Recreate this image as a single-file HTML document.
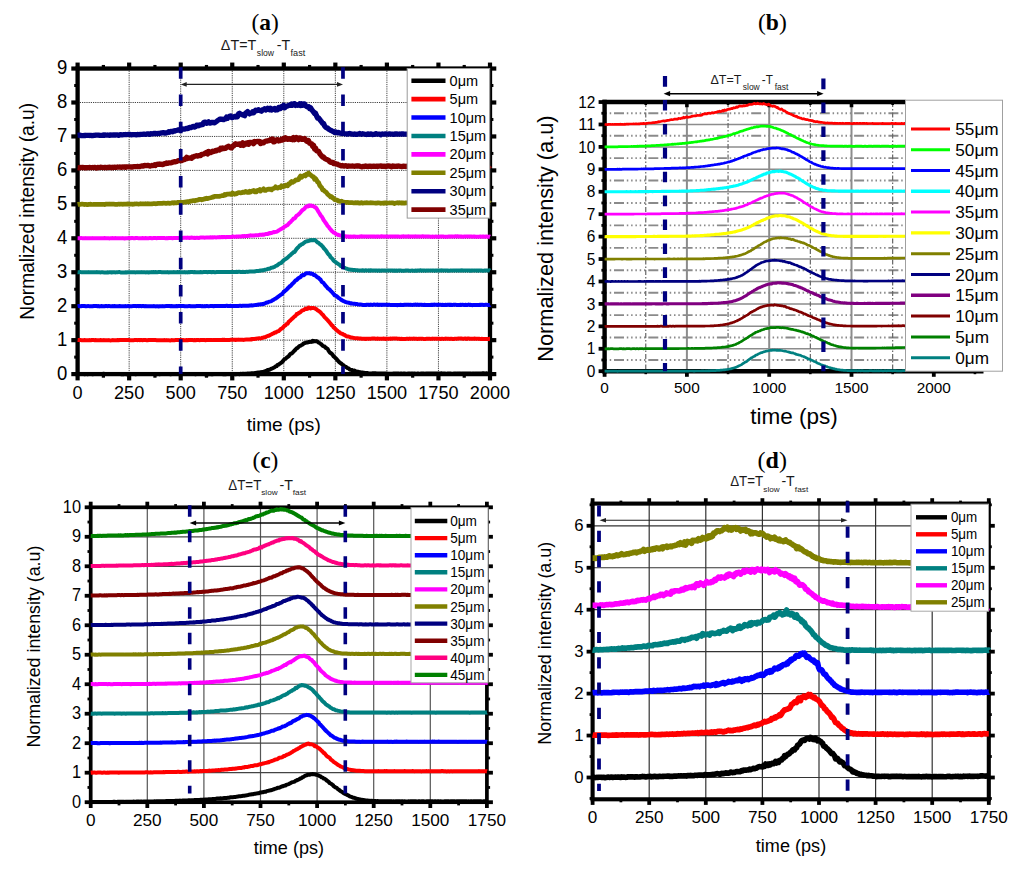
<!DOCTYPE html>
<html><head><meta charset="utf-8"><title>Normalized intensity vs time</title>
<style>html,body{margin:0;padding:0;background:#fff;}body{width:1024px;height:872px;overflow:hidden;}svg{display:block;font-family:"Liberation Sans",sans-serif;}</style>
</head><body>
<svg width="1024" height="872" viewBox="0 0 1024 872">
<rect width="1024" height="872" fill="#fff"/>
<line x1="129.15" y1="68.55" x2="129.15" y2="374.10" stroke="#444" stroke-width="1.0" stroke-dasharray="1.2 1.0"/>
<line x1="180.70" y1="68.55" x2="180.70" y2="374.10" stroke="#444" stroke-width="1.0" stroke-dasharray="1.2 1.0"/>
<line x1="232.25" y1="68.55" x2="232.25" y2="374.10" stroke="#444" stroke-width="1.0" stroke-dasharray="1.2 1.0"/>
<line x1="283.80" y1="68.55" x2="283.80" y2="374.10" stroke="#444" stroke-width="1.0" stroke-dasharray="1.2 1.0"/>
<line x1="335.35" y1="68.55" x2="335.35" y2="374.10" stroke="#444" stroke-width="1.0" stroke-dasharray="1.2 1.0"/>
<line x1="386.90" y1="68.55" x2="386.90" y2="374.10" stroke="#444" stroke-width="1.0" stroke-dasharray="1.2 1.0"/>
<line x1="438.45" y1="68.55" x2="438.45" y2="374.10" stroke="#444" stroke-width="1.0" stroke-dasharray="1.2 1.0"/>
<line x1="77.60" y1="340.15" x2="490.00" y2="340.15" stroke="#444" stroke-width="1.0" stroke-dasharray="1.2 1.0"/>
<line x1="77.60" y1="306.20" x2="490.00" y2="306.20" stroke="#444" stroke-width="1.0" stroke-dasharray="1.2 1.0"/>
<line x1="77.60" y1="272.25" x2="490.00" y2="272.25" stroke="#444" stroke-width="1.0" stroke-dasharray="1.2 1.0"/>
<line x1="77.60" y1="238.30" x2="490.00" y2="238.30" stroke="#444" stroke-width="1.0" stroke-dasharray="1.2 1.0"/>
<line x1="77.60" y1="204.35" x2="490.00" y2="204.35" stroke="#444" stroke-width="1.0" stroke-dasharray="1.2 1.0"/>
<line x1="77.60" y1="170.40" x2="490.00" y2="170.40" stroke="#444" stroke-width="1.0" stroke-dasharray="1.2 1.0"/>
<line x1="77.60" y1="136.45" x2="490.00" y2="136.45" stroke="#444" stroke-width="1.0" stroke-dasharray="1.2 1.0"/>
<line x1="77.60" y1="102.50" x2="490.00" y2="102.50" stroke="#444" stroke-width="1.0" stroke-dasharray="1.2 1.0"/>
<line x1="604.60" y1="359.99" x2="905.50" y2="359.99" stroke="#8a8a8a" stroke-width="1.9" stroke-dasharray="10 2.8 1.5 2.8 1.5 2.8 1.5 2.8 1.5 2.8 1.5 2.8" stroke-dashoffset="24.9"/>
<line x1="604.60" y1="337.56" x2="905.50" y2="337.56" stroke="#8a8a8a" stroke-width="1.9" stroke-dasharray="10 2.8 1.5 2.8 1.5 2.8 1.5 2.8 1.5 2.8 1.5 2.8" stroke-dashoffset="24.9"/>
<line x1="604.60" y1="315.12" x2="905.50" y2="315.12" stroke="#8a8a8a" stroke-width="1.9" stroke-dasharray="10 2.8 1.5 2.8 1.5 2.8 1.5 2.8 1.5 2.8 1.5 2.8" stroke-dashoffset="24.9"/>
<line x1="604.60" y1="292.69" x2="905.50" y2="292.69" stroke="#8a8a8a" stroke-width="1.9" stroke-dasharray="10 2.8 1.5 2.8 1.5 2.8 1.5 2.8 1.5 2.8 1.5 2.8" stroke-dashoffset="24.9"/>
<line x1="604.60" y1="270.26" x2="905.50" y2="270.26" stroke="#8a8a8a" stroke-width="1.9" stroke-dasharray="10 2.8 1.5 2.8 1.5 2.8 1.5 2.8 1.5 2.8 1.5 2.8" stroke-dashoffset="24.9"/>
<line x1="604.60" y1="247.83" x2="905.50" y2="247.83" stroke="#8a8a8a" stroke-width="1.9" stroke-dasharray="10 2.8 1.5 2.8 1.5 2.8 1.5 2.8 1.5 2.8 1.5 2.8" stroke-dashoffset="24.9"/>
<line x1="604.60" y1="225.41" x2="905.50" y2="225.41" stroke="#8a8a8a" stroke-width="1.9" stroke-dasharray="10 2.8 1.5 2.8 1.5 2.8 1.5 2.8 1.5 2.8 1.5 2.8" stroke-dashoffset="24.9"/>
<line x1="604.60" y1="202.97" x2="905.50" y2="202.97" stroke="#8a8a8a" stroke-width="1.9" stroke-dasharray="10 2.8 1.5 2.8 1.5 2.8 1.5 2.8 1.5 2.8 1.5 2.8" stroke-dashoffset="24.9"/>
<line x1="604.60" y1="180.54" x2="905.50" y2="180.54" stroke="#8a8a8a" stroke-width="1.9" stroke-dasharray="10 2.8 1.5 2.8 1.5 2.8 1.5 2.8 1.5 2.8 1.5 2.8" stroke-dashoffset="24.9"/>
<line x1="604.60" y1="158.11" x2="905.50" y2="158.11" stroke="#8a8a8a" stroke-width="1.9" stroke-dasharray="10 2.8 1.5 2.8 1.5 2.8 1.5 2.8 1.5 2.8 1.5 2.8" stroke-dashoffset="24.9"/>
<line x1="604.60" y1="135.69" x2="905.50" y2="135.69" stroke="#8a8a8a" stroke-width="1.9" stroke-dasharray="10 2.8 1.5 2.8 1.5 2.8 1.5 2.8 1.5 2.8 1.5 2.8" stroke-dashoffset="24.9"/>
<line x1="604.60" y1="113.25" x2="905.50" y2="113.25" stroke="#8a8a8a" stroke-width="1.9" stroke-dasharray="10 2.8 1.5 2.8 1.5 2.8 1.5 2.8 1.5 2.8 1.5 2.8" stroke-dashoffset="24.9"/>
<line x1="604.60" y1="348.77" x2="905.50" y2="348.77" stroke="#8c8c8c" stroke-width="1.5" />
<line x1="604.60" y1="326.34" x2="905.50" y2="326.34" stroke="#8c8c8c" stroke-width="1.5" />
<line x1="604.60" y1="303.91" x2="905.50" y2="303.91" stroke="#8c8c8c" stroke-width="1.5" />
<line x1="604.60" y1="281.48" x2="905.50" y2="281.48" stroke="#8c8c8c" stroke-width="1.5" />
<line x1="604.60" y1="259.05" x2="905.50" y2="259.05" stroke="#8c8c8c" stroke-width="1.5" />
<line x1="604.60" y1="236.62" x2="905.50" y2="236.62" stroke="#8c8c8c" stroke-width="1.5" />
<line x1="604.60" y1="214.19" x2="905.50" y2="214.19" stroke="#8c8c8c" stroke-width="1.5" />
<line x1="604.60" y1="191.76" x2="905.50" y2="191.76" stroke="#8c8c8c" stroke-width="1.5" />
<line x1="604.60" y1="169.33" x2="905.50" y2="169.33" stroke="#8c8c8c" stroke-width="1.5" />
<line x1="604.60" y1="146.90" x2="905.50" y2="146.90" stroke="#8c8c8c" stroke-width="1.5" />
<line x1="604.60" y1="124.47" x2="905.50" y2="124.47" stroke="#8c8c8c" stroke-width="1.5" />
<line x1="645.75" y1="102.04" x2="645.75" y2="371.20" stroke="#666" stroke-width="1.2" stroke-dasharray="5 2 1.5 2"/>
<line x1="728.05" y1="102.04" x2="728.05" y2="371.20" stroke="#666" stroke-width="1.2" stroke-dasharray="5 2 1.5 2"/>
<line x1="810.35" y1="102.04" x2="810.35" y2="371.20" stroke="#666" stroke-width="1.2" stroke-dasharray="5 2 1.5 2"/>
<line x1="892.65" y1="102.04" x2="892.65" y2="371.20" stroke="#666" stroke-width="1.2" stroke-dasharray="5 2 1.5 2"/>
<line x1="686.90" y1="102.04" x2="686.90" y2="371.20" stroke="#8c8c8c" stroke-width="2.0" />
<line x1="769.20" y1="102.04" x2="769.20" y2="371.20" stroke="#8c8c8c" stroke-width="2.0" />
<line x1="851.50" y1="102.04" x2="851.50" y2="371.20" stroke="#8c8c8c" stroke-width="2.0" />
<line x1="147.30" y1="507.30" x2="147.30" y2="802.20" stroke="#555" stroke-width="1.2" />
<line x1="203.90" y1="507.30" x2="203.90" y2="802.20" stroke="#555" stroke-width="1.2" />
<line x1="260.50" y1="507.30" x2="260.50" y2="802.20" stroke="#555" stroke-width="1.2" />
<line x1="317.10" y1="507.30" x2="317.10" y2="802.20" stroke="#555" stroke-width="1.2" />
<line x1="373.70" y1="507.30" x2="373.70" y2="802.20" stroke="#555" stroke-width="1.2" />
<line x1="430.30" y1="507.30" x2="430.30" y2="802.20" stroke="#555" stroke-width="1.2" />
<line x1="90.70" y1="772.71" x2="486.90" y2="772.71" stroke="#444" stroke-width="1.2" />
<line x1="90.70" y1="743.22" x2="486.90" y2="743.22" stroke="#444" stroke-width="1.2" />
<line x1="90.70" y1="713.73" x2="486.90" y2="713.73" stroke="#444" stroke-width="1.2" />
<line x1="90.70" y1="684.24" x2="486.90" y2="684.24" stroke="#444" stroke-width="1.2" />
<line x1="90.70" y1="654.75" x2="486.90" y2="654.75" stroke="#444" stroke-width="1.2" />
<line x1="90.70" y1="625.26" x2="486.90" y2="625.26" stroke="#444" stroke-width="1.2" />
<line x1="90.70" y1="595.77" x2="486.90" y2="595.77" stroke="#444" stroke-width="1.2" />
<line x1="90.70" y1="566.28" x2="486.90" y2="566.28" stroke="#444" stroke-width="1.2" />
<line x1="90.70" y1="536.79" x2="486.90" y2="536.79" stroke="#444" stroke-width="1.2" />
<line x1="649.20" y1="503.60" x2="649.20" y2="799.30" stroke="#333" stroke-width="1.2" />
<line x1="705.80" y1="503.60" x2="705.80" y2="799.30" stroke="#333" stroke-width="1.2" />
<line x1="762.40" y1="503.60" x2="762.40" y2="799.30" stroke="#333" stroke-width="1.2" />
<line x1="819.00" y1="503.60" x2="819.00" y2="799.30" stroke="#333" stroke-width="1.2" />
<line x1="875.60" y1="503.60" x2="875.60" y2="799.30" stroke="#333" stroke-width="1.2" />
<line x1="932.20" y1="503.60" x2="932.20" y2="799.30" stroke="#333" stroke-width="1.2" />
<line x1="592.60" y1="777.50" x2="988.80" y2="777.50" stroke="#333" stroke-width="1.2" />
<line x1="592.60" y1="735.55" x2="988.80" y2="735.55" stroke="#333" stroke-width="1.2" />
<line x1="592.60" y1="693.60" x2="988.80" y2="693.60" stroke="#333" stroke-width="1.2" />
<line x1="592.60" y1="651.65" x2="988.80" y2="651.65" stroke="#333" stroke-width="1.2" />
<line x1="592.60" y1="609.70" x2="988.80" y2="609.70" stroke="#333" stroke-width="1.2" />
<line x1="592.60" y1="567.75" x2="988.80" y2="567.75" stroke="#333" stroke-width="1.2" />
<line x1="592.60" y1="525.80" x2="988.80" y2="525.80" stroke="#333" stroke-width="1.2" />
<rect x="77.60" y="68.55" width="412.40" height="305.55" fill="none" stroke="#000" stroke-width="4.3"/>
<line x1="77.60" y1="374.10" x2="77.60" y2="380.40" stroke="#000" stroke-width="4.2" />
<line x1="77.60" y1="68.55" x2="77.60" y2="62.55" stroke="#000" stroke-width="4.2" />
<line x1="129.15" y1="374.10" x2="129.15" y2="380.40" stroke="#000" stroke-width="4.2" />
<line x1="129.15" y1="68.55" x2="129.15" y2="62.55" stroke="#000" stroke-width="4.2" />
<line x1="180.70" y1="374.10" x2="180.70" y2="380.40" stroke="#000" stroke-width="4.2" />
<line x1="180.70" y1="68.55" x2="180.70" y2="62.55" stroke="#000" stroke-width="4.2" />
<line x1="232.25" y1="374.10" x2="232.25" y2="380.40" stroke="#000" stroke-width="4.2" />
<line x1="232.25" y1="68.55" x2="232.25" y2="62.55" stroke="#000" stroke-width="4.2" />
<line x1="283.80" y1="374.10" x2="283.80" y2="380.40" stroke="#000" stroke-width="4.2" />
<line x1="283.80" y1="68.55" x2="283.80" y2="62.55" stroke="#000" stroke-width="4.2" />
<line x1="335.35" y1="374.10" x2="335.35" y2="380.40" stroke="#000" stroke-width="4.2" />
<line x1="335.35" y1="68.55" x2="335.35" y2="62.55" stroke="#000" stroke-width="4.2" />
<line x1="386.90" y1="374.10" x2="386.90" y2="380.40" stroke="#000" stroke-width="4.2" />
<line x1="386.90" y1="68.55" x2="386.90" y2="62.55" stroke="#000" stroke-width="4.2" />
<line x1="438.45" y1="374.10" x2="438.45" y2="380.40" stroke="#000" stroke-width="4.2" />
<line x1="438.45" y1="68.55" x2="438.45" y2="62.55" stroke="#000" stroke-width="4.2" />
<line x1="490.00" y1="374.10" x2="490.00" y2="380.40" stroke="#000" stroke-width="4.2" />
<line x1="490.00" y1="68.55" x2="490.00" y2="62.55" stroke="#000" stroke-width="4.2" />
<line x1="103.38" y1="374.10" x2="103.38" y2="377.70" stroke="#000" stroke-width="3.2" />
<line x1="103.38" y1="68.55" x2="103.38" y2="64.95" stroke="#000" stroke-width="3.2" />
<line x1="154.93" y1="374.10" x2="154.93" y2="377.70" stroke="#000" stroke-width="3.2" />
<line x1="154.93" y1="68.55" x2="154.93" y2="64.95" stroke="#000" stroke-width="3.2" />
<line x1="206.47" y1="374.10" x2="206.47" y2="377.70" stroke="#000" stroke-width="3.2" />
<line x1="206.47" y1="68.55" x2="206.47" y2="64.95" stroke="#000" stroke-width="3.2" />
<line x1="258.02" y1="374.10" x2="258.02" y2="377.70" stroke="#000" stroke-width="3.2" />
<line x1="258.02" y1="68.55" x2="258.02" y2="64.95" stroke="#000" stroke-width="3.2" />
<line x1="309.57" y1="374.10" x2="309.57" y2="377.70" stroke="#000" stroke-width="3.2" />
<line x1="309.57" y1="68.55" x2="309.57" y2="64.95" stroke="#000" stroke-width="3.2" />
<line x1="361.12" y1="374.10" x2="361.12" y2="377.70" stroke="#000" stroke-width="3.2" />
<line x1="361.12" y1="68.55" x2="361.12" y2="64.95" stroke="#000" stroke-width="3.2" />
<line x1="412.67" y1="374.10" x2="412.67" y2="377.70" stroke="#000" stroke-width="3.2" />
<line x1="412.67" y1="68.55" x2="412.67" y2="64.95" stroke="#000" stroke-width="3.2" />
<line x1="464.23" y1="374.10" x2="464.23" y2="377.70" stroke="#000" stroke-width="3.2" />
<line x1="464.23" y1="68.55" x2="464.23" y2="64.95" stroke="#000" stroke-width="3.2" />
<line x1="77.60" y1="374.10" x2="71.30" y2="374.10" stroke="#000" stroke-width="4.2" />
<line x1="490.00" y1="374.10" x2="496.30" y2="374.10" stroke="#000" stroke-width="4.2" />
<line x1="77.60" y1="340.15" x2="71.30" y2="340.15" stroke="#000" stroke-width="4.2" />
<line x1="490.00" y1="340.15" x2="496.30" y2="340.15" stroke="#000" stroke-width="4.2" />
<line x1="77.60" y1="306.20" x2="71.30" y2="306.20" stroke="#000" stroke-width="4.2" />
<line x1="490.00" y1="306.20" x2="496.30" y2="306.20" stroke="#000" stroke-width="4.2" />
<line x1="77.60" y1="272.25" x2="71.30" y2="272.25" stroke="#000" stroke-width="4.2" />
<line x1="490.00" y1="272.25" x2="496.30" y2="272.25" stroke="#000" stroke-width="4.2" />
<line x1="77.60" y1="238.30" x2="71.30" y2="238.30" stroke="#000" stroke-width="4.2" />
<line x1="490.00" y1="238.30" x2="496.30" y2="238.30" stroke="#000" stroke-width="4.2" />
<line x1="77.60" y1="204.35" x2="71.30" y2="204.35" stroke="#000" stroke-width="4.2" />
<line x1="490.00" y1="204.35" x2="496.30" y2="204.35" stroke="#000" stroke-width="4.2" />
<line x1="77.60" y1="170.40" x2="71.30" y2="170.40" stroke="#000" stroke-width="4.2" />
<line x1="490.00" y1="170.40" x2="496.30" y2="170.40" stroke="#000" stroke-width="4.2" />
<line x1="77.60" y1="136.45" x2="71.30" y2="136.45" stroke="#000" stroke-width="4.2" />
<line x1="490.00" y1="136.45" x2="496.30" y2="136.45" stroke="#000" stroke-width="4.2" />
<line x1="77.60" y1="102.50" x2="71.30" y2="102.50" stroke="#000" stroke-width="4.2" />
<line x1="490.00" y1="102.50" x2="496.30" y2="102.50" stroke="#000" stroke-width="4.2" />
<line x1="77.60" y1="68.55" x2="71.30" y2="68.55" stroke="#000" stroke-width="4.2" />
<line x1="490.00" y1="68.55" x2="496.30" y2="68.55" stroke="#000" stroke-width="4.2" />
<line x1="77.60" y1="357.12" x2="74.20" y2="357.12" stroke="#000" stroke-width="3.0" />
<line x1="490.00" y1="357.12" x2="493.40" y2="357.12" stroke="#000" stroke-width="3.0" />
<line x1="77.60" y1="323.18" x2="74.20" y2="323.18" stroke="#000" stroke-width="3.0" />
<line x1="490.00" y1="323.18" x2="493.40" y2="323.18" stroke="#000" stroke-width="3.0" />
<line x1="77.60" y1="289.23" x2="74.20" y2="289.23" stroke="#000" stroke-width="3.0" />
<line x1="490.00" y1="289.23" x2="493.40" y2="289.23" stroke="#000" stroke-width="3.0" />
<line x1="77.60" y1="255.28" x2="74.20" y2="255.28" stroke="#000" stroke-width="3.0" />
<line x1="490.00" y1="255.28" x2="493.40" y2="255.28" stroke="#000" stroke-width="3.0" />
<line x1="77.60" y1="221.33" x2="74.20" y2="221.33" stroke="#000" stroke-width="3.0" />
<line x1="490.00" y1="221.33" x2="493.40" y2="221.33" stroke="#000" stroke-width="3.0" />
<line x1="77.60" y1="187.38" x2="74.20" y2="187.38" stroke="#000" stroke-width="3.0" />
<line x1="490.00" y1="187.38" x2="493.40" y2="187.38" stroke="#000" stroke-width="3.0" />
<line x1="77.60" y1="153.43" x2="74.20" y2="153.43" stroke="#000" stroke-width="3.0" />
<line x1="490.00" y1="153.43" x2="493.40" y2="153.43" stroke="#000" stroke-width="3.0" />
<line x1="77.60" y1="119.47" x2="74.20" y2="119.47" stroke="#000" stroke-width="3.0" />
<line x1="490.00" y1="119.47" x2="493.40" y2="119.47" stroke="#000" stroke-width="3.0" />
<line x1="77.60" y1="85.52" x2="74.20" y2="85.52" stroke="#000" stroke-width="3.0" />
<line x1="490.00" y1="85.52" x2="493.40" y2="85.52" stroke="#000" stroke-width="3.0" />
<line x1="604.60" y1="99.84" x2="604.60" y2="373.40" stroke="#000" stroke-width="4.4" />
<line x1="602.40" y1="102.04" x2="905.50" y2="102.04" stroke="#000" stroke-width="4.4" />
<line x1="602.40" y1="371.20" x2="983.50" y2="371.20" stroke="#000" stroke-width="4.4" />
<line x1="604.60" y1="371.20" x2="604.60" y2="376.80" stroke="#000" stroke-width="3.8" />
<line x1="686.90" y1="371.20" x2="686.90" y2="376.80" stroke="#000" stroke-width="3.8" />
<line x1="769.20" y1="371.20" x2="769.20" y2="376.80" stroke="#000" stroke-width="3.8" />
<line x1="851.50" y1="371.20" x2="851.50" y2="376.80" stroke="#000" stroke-width="3.8" />
<line x1="933.80" y1="371.20" x2="933.80" y2="376.80" stroke="#000" stroke-width="3.8" />
<line x1="645.75" y1="371.20" x2="645.75" y2="374.20" stroke="#000" stroke-width="2.6" />
<line x1="728.05" y1="371.20" x2="728.05" y2="374.20" stroke="#000" stroke-width="2.6" />
<line x1="810.35" y1="371.20" x2="810.35" y2="374.20" stroke="#000" stroke-width="2.6" />
<line x1="892.65" y1="371.20" x2="892.65" y2="374.20" stroke="#000" stroke-width="2.6" />
<line x1="974.95" y1="371.20" x2="974.95" y2="374.20" stroke="#000" stroke-width="2.6" />
<line x1="645.75" y1="102.04" x2="645.75" y2="105.04" stroke="#000" stroke-width="2.6" />
<line x1="686.90" y1="102.04" x2="686.90" y2="107.24" stroke="#000" stroke-width="3.6" />
<line x1="728.05" y1="102.04" x2="728.05" y2="105.04" stroke="#000" stroke-width="2.6" />
<line x1="769.20" y1="102.04" x2="769.20" y2="107.24" stroke="#000" stroke-width="3.6" />
<line x1="810.35" y1="102.04" x2="810.35" y2="105.04" stroke="#000" stroke-width="2.6" />
<line x1="851.50" y1="102.04" x2="851.50" y2="107.24" stroke="#000" stroke-width="3.6" />
<line x1="892.65" y1="102.04" x2="892.65" y2="105.04" stroke="#000" stroke-width="2.6" />
<line x1="604.60" y1="371.20" x2="598.60" y2="371.20" stroke="#000" stroke-width="3.8" />
<line x1="604.60" y1="348.77" x2="598.60" y2="348.77" stroke="#000" stroke-width="3.8" />
<line x1="604.60" y1="326.34" x2="598.60" y2="326.34" stroke="#000" stroke-width="3.8" />
<line x1="604.60" y1="303.91" x2="598.60" y2="303.91" stroke="#000" stroke-width="3.8" />
<line x1="604.60" y1="281.48" x2="598.60" y2="281.48" stroke="#000" stroke-width="3.8" />
<line x1="604.60" y1="259.05" x2="598.60" y2="259.05" stroke="#000" stroke-width="3.8" />
<line x1="604.60" y1="236.62" x2="598.60" y2="236.62" stroke="#000" stroke-width="3.8" />
<line x1="604.60" y1="214.19" x2="598.60" y2="214.19" stroke="#000" stroke-width="3.8" />
<line x1="604.60" y1="191.76" x2="598.60" y2="191.76" stroke="#000" stroke-width="3.8" />
<line x1="604.60" y1="169.33" x2="598.60" y2="169.33" stroke="#000" stroke-width="3.8" />
<line x1="604.60" y1="146.90" x2="598.60" y2="146.90" stroke="#000" stroke-width="3.8" />
<line x1="604.60" y1="124.47" x2="598.60" y2="124.47" stroke="#000" stroke-width="3.8" />
<line x1="604.60" y1="102.04" x2="598.60" y2="102.04" stroke="#000" stroke-width="3.8" />
<line x1="604.60" y1="359.99" x2="601.40" y2="359.99" stroke="#000" stroke-width="2.8" />
<line x1="604.60" y1="337.56" x2="601.40" y2="337.56" stroke="#000" stroke-width="2.8" />
<line x1="604.60" y1="315.12" x2="601.40" y2="315.12" stroke="#000" stroke-width="2.8" />
<line x1="604.60" y1="292.69" x2="601.40" y2="292.69" stroke="#000" stroke-width="2.8" />
<line x1="604.60" y1="270.26" x2="601.40" y2="270.26" stroke="#000" stroke-width="2.8" />
<line x1="604.60" y1="247.83" x2="601.40" y2="247.83" stroke="#000" stroke-width="2.8" />
<line x1="604.60" y1="225.41" x2="601.40" y2="225.41" stroke="#000" stroke-width="2.8" />
<line x1="604.60" y1="202.97" x2="601.40" y2="202.97" stroke="#000" stroke-width="2.8" />
<line x1="604.60" y1="180.54" x2="601.40" y2="180.54" stroke="#000" stroke-width="2.8" />
<line x1="604.60" y1="158.11" x2="601.40" y2="158.11" stroke="#000" stroke-width="2.8" />
<line x1="604.60" y1="135.69" x2="601.40" y2="135.69" stroke="#000" stroke-width="2.8" />
<line x1="604.60" y1="113.25" x2="601.40" y2="113.25" stroke="#000" stroke-width="2.8" />
<rect x="90.70" y="507.30" width="396.20" height="294.90" fill="none" stroke="#000" stroke-width="3.7"/>
<line x1="90.70" y1="802.20" x2="90.70" y2="808.00" stroke="#000" stroke-width="3.8" />
<line x1="90.70" y1="507.30" x2="90.70" y2="501.70" stroke="#000" stroke-width="3.8" />
<line x1="147.30" y1="802.20" x2="147.30" y2="808.00" stroke="#000" stroke-width="3.8" />
<line x1="147.30" y1="507.30" x2="147.30" y2="501.70" stroke="#000" stroke-width="3.8" />
<line x1="203.90" y1="802.20" x2="203.90" y2="808.00" stroke="#000" stroke-width="3.8" />
<line x1="203.90" y1="507.30" x2="203.90" y2="501.70" stroke="#000" stroke-width="3.8" />
<line x1="260.50" y1="802.20" x2="260.50" y2="808.00" stroke="#000" stroke-width="3.8" />
<line x1="260.50" y1="507.30" x2="260.50" y2="501.70" stroke="#000" stroke-width="3.8" />
<line x1="317.10" y1="802.20" x2="317.10" y2="808.00" stroke="#000" stroke-width="3.8" />
<line x1="317.10" y1="507.30" x2="317.10" y2="501.70" stroke="#000" stroke-width="3.8" />
<line x1="373.70" y1="802.20" x2="373.70" y2="808.00" stroke="#000" stroke-width="3.8" />
<line x1="373.70" y1="507.30" x2="373.70" y2="501.70" stroke="#000" stroke-width="3.8" />
<line x1="430.30" y1="802.20" x2="430.30" y2="808.00" stroke="#000" stroke-width="3.8" />
<line x1="430.30" y1="507.30" x2="430.30" y2="501.70" stroke="#000" stroke-width="3.8" />
<line x1="486.90" y1="802.20" x2="486.90" y2="808.00" stroke="#000" stroke-width="3.8" />
<line x1="486.90" y1="507.30" x2="486.90" y2="501.70" stroke="#000" stroke-width="3.8" />
<line x1="119.00" y1="802.20" x2="119.00" y2="805.40" stroke="#000" stroke-width="2.8" />
<line x1="119.00" y1="507.30" x2="119.00" y2="504.10" stroke="#000" stroke-width="2.8" />
<line x1="175.60" y1="802.20" x2="175.60" y2="805.40" stroke="#000" stroke-width="2.8" />
<line x1="175.60" y1="507.30" x2="175.60" y2="504.10" stroke="#000" stroke-width="2.8" />
<line x1="232.20" y1="802.20" x2="232.20" y2="805.40" stroke="#000" stroke-width="2.8" />
<line x1="232.20" y1="507.30" x2="232.20" y2="504.10" stroke="#000" stroke-width="2.8" />
<line x1="288.80" y1="802.20" x2="288.80" y2="805.40" stroke="#000" stroke-width="2.8" />
<line x1="288.80" y1="507.30" x2="288.80" y2="504.10" stroke="#000" stroke-width="2.8" />
<line x1="345.40" y1="802.20" x2="345.40" y2="805.40" stroke="#000" stroke-width="2.8" />
<line x1="345.40" y1="507.30" x2="345.40" y2="504.10" stroke="#000" stroke-width="2.8" />
<line x1="402.00" y1="802.20" x2="402.00" y2="805.40" stroke="#000" stroke-width="2.8" />
<line x1="402.00" y1="507.30" x2="402.00" y2="504.10" stroke="#000" stroke-width="2.8" />
<line x1="458.60" y1="802.20" x2="458.60" y2="805.40" stroke="#000" stroke-width="2.8" />
<line x1="458.60" y1="507.30" x2="458.60" y2="504.10" stroke="#000" stroke-width="2.8" />
<line x1="90.70" y1="802.20" x2="84.70" y2="802.20" stroke="#000" stroke-width="3.8" />
<line x1="486.90" y1="802.20" x2="492.90" y2="802.20" stroke="#000" stroke-width="3.8" />
<line x1="90.70" y1="772.71" x2="84.70" y2="772.71" stroke="#000" stroke-width="3.8" />
<line x1="486.90" y1="772.71" x2="492.90" y2="772.71" stroke="#000" stroke-width="3.8" />
<line x1="90.70" y1="743.22" x2="84.70" y2="743.22" stroke="#000" stroke-width="3.8" />
<line x1="486.90" y1="743.22" x2="492.90" y2="743.22" stroke="#000" stroke-width="3.8" />
<line x1="90.70" y1="713.73" x2="84.70" y2="713.73" stroke="#000" stroke-width="3.8" />
<line x1="486.90" y1="713.73" x2="492.90" y2="713.73" stroke="#000" stroke-width="3.8" />
<line x1="90.70" y1="684.24" x2="84.70" y2="684.24" stroke="#000" stroke-width="3.8" />
<line x1="486.90" y1="684.24" x2="492.90" y2="684.24" stroke="#000" stroke-width="3.8" />
<line x1="90.70" y1="654.75" x2="84.70" y2="654.75" stroke="#000" stroke-width="3.8" />
<line x1="486.90" y1="654.75" x2="492.90" y2="654.75" stroke="#000" stroke-width="3.8" />
<line x1="90.70" y1="625.26" x2="84.70" y2="625.26" stroke="#000" stroke-width="3.8" />
<line x1="486.90" y1="625.26" x2="492.90" y2="625.26" stroke="#000" stroke-width="3.8" />
<line x1="90.70" y1="595.77" x2="84.70" y2="595.77" stroke="#000" stroke-width="3.8" />
<line x1="486.90" y1="595.77" x2="492.90" y2="595.77" stroke="#000" stroke-width="3.8" />
<line x1="90.70" y1="566.28" x2="84.70" y2="566.28" stroke="#000" stroke-width="3.8" />
<line x1="486.90" y1="566.28" x2="492.90" y2="566.28" stroke="#000" stroke-width="3.8" />
<line x1="90.70" y1="536.79" x2="84.70" y2="536.79" stroke="#000" stroke-width="3.8" />
<line x1="486.90" y1="536.79" x2="492.90" y2="536.79" stroke="#000" stroke-width="3.8" />
<line x1="90.70" y1="507.30" x2="84.70" y2="507.30" stroke="#000" stroke-width="3.8" />
<line x1="486.90" y1="507.30" x2="492.90" y2="507.30" stroke="#000" stroke-width="3.8" />
<line x1="90.70" y1="787.46" x2="87.50" y2="787.46" stroke="#000" stroke-width="2.8" />
<line x1="486.90" y1="787.46" x2="490.10" y2="787.46" stroke="#000" stroke-width="2.8" />
<line x1="90.70" y1="757.97" x2="87.50" y2="757.97" stroke="#000" stroke-width="2.8" />
<line x1="486.90" y1="757.97" x2="490.10" y2="757.97" stroke="#000" stroke-width="2.8" />
<line x1="90.70" y1="728.48" x2="87.50" y2="728.48" stroke="#000" stroke-width="2.8" />
<line x1="486.90" y1="728.48" x2="490.10" y2="728.48" stroke="#000" stroke-width="2.8" />
<line x1="90.70" y1="698.99" x2="87.50" y2="698.99" stroke="#000" stroke-width="2.8" />
<line x1="486.90" y1="698.99" x2="490.10" y2="698.99" stroke="#000" stroke-width="2.8" />
<line x1="90.70" y1="669.50" x2="87.50" y2="669.50" stroke="#000" stroke-width="2.8" />
<line x1="486.90" y1="669.50" x2="490.10" y2="669.50" stroke="#000" stroke-width="2.8" />
<line x1="90.70" y1="640.01" x2="87.50" y2="640.01" stroke="#000" stroke-width="2.8" />
<line x1="486.90" y1="640.01" x2="490.10" y2="640.01" stroke="#000" stroke-width="2.8" />
<line x1="90.70" y1="610.52" x2="87.50" y2="610.52" stroke="#000" stroke-width="2.8" />
<line x1="486.90" y1="610.52" x2="490.10" y2="610.52" stroke="#000" stroke-width="2.8" />
<line x1="90.70" y1="581.03" x2="87.50" y2="581.03" stroke="#000" stroke-width="2.8" />
<line x1="486.90" y1="581.03" x2="490.10" y2="581.03" stroke="#000" stroke-width="2.8" />
<line x1="90.70" y1="551.54" x2="87.50" y2="551.54" stroke="#000" stroke-width="2.8" />
<line x1="486.90" y1="551.54" x2="490.10" y2="551.54" stroke="#000" stroke-width="2.8" />
<line x1="90.70" y1="522.05" x2="87.50" y2="522.05" stroke="#000" stroke-width="2.8" />
<line x1="486.90" y1="522.05" x2="490.10" y2="522.05" stroke="#000" stroke-width="2.8" />
<rect x="592.60" y="503.60" width="396.20" height="295.70" fill="none" stroke="#000" stroke-width="4.1"/>
<line x1="592.60" y1="799.30" x2="592.60" y2="804.90" stroke="#000" stroke-width="3.8" />
<line x1="592.60" y1="503.60" x2="592.60" y2="498.20" stroke="#000" stroke-width="3.8" />
<line x1="649.20" y1="799.30" x2="649.20" y2="804.90" stroke="#000" stroke-width="3.8" />
<line x1="649.20" y1="503.60" x2="649.20" y2="498.20" stroke="#000" stroke-width="3.8" />
<line x1="705.80" y1="799.30" x2="705.80" y2="804.90" stroke="#000" stroke-width="3.8" />
<line x1="705.80" y1="503.60" x2="705.80" y2="498.20" stroke="#000" stroke-width="3.8" />
<line x1="762.40" y1="799.30" x2="762.40" y2="804.90" stroke="#000" stroke-width="3.8" />
<line x1="762.40" y1="503.60" x2="762.40" y2="498.20" stroke="#000" stroke-width="3.8" />
<line x1="819.00" y1="799.30" x2="819.00" y2="804.90" stroke="#000" stroke-width="3.8" />
<line x1="819.00" y1="503.60" x2="819.00" y2="498.20" stroke="#000" stroke-width="3.8" />
<line x1="875.60" y1="799.30" x2="875.60" y2="804.90" stroke="#000" stroke-width="3.8" />
<line x1="875.60" y1="503.60" x2="875.60" y2="498.20" stroke="#000" stroke-width="3.8" />
<line x1="932.20" y1="799.30" x2="932.20" y2="804.90" stroke="#000" stroke-width="3.8" />
<line x1="932.20" y1="503.60" x2="932.20" y2="498.20" stroke="#000" stroke-width="3.8" />
<line x1="988.80" y1="799.30" x2="988.80" y2="804.90" stroke="#000" stroke-width="3.8" />
<line x1="988.80" y1="503.60" x2="988.80" y2="498.20" stroke="#000" stroke-width="3.8" />
<line x1="620.90" y1="799.30" x2="620.90" y2="802.30" stroke="#000" stroke-width="2.8" />
<line x1="620.90" y1="503.60" x2="620.90" y2="500.60" stroke="#000" stroke-width="2.8" />
<line x1="677.50" y1="799.30" x2="677.50" y2="802.30" stroke="#000" stroke-width="2.8" />
<line x1="677.50" y1="503.60" x2="677.50" y2="500.60" stroke="#000" stroke-width="2.8" />
<line x1="734.10" y1="799.30" x2="734.10" y2="802.30" stroke="#000" stroke-width="2.8" />
<line x1="734.10" y1="503.60" x2="734.10" y2="500.60" stroke="#000" stroke-width="2.8" />
<line x1="790.70" y1="799.30" x2="790.70" y2="802.30" stroke="#000" stroke-width="2.8" />
<line x1="790.70" y1="503.60" x2="790.70" y2="500.60" stroke="#000" stroke-width="2.8" />
<line x1="847.30" y1="799.30" x2="847.30" y2="802.30" stroke="#000" stroke-width="2.8" />
<line x1="847.30" y1="503.60" x2="847.30" y2="500.60" stroke="#000" stroke-width="2.8" />
<line x1="903.90" y1="799.30" x2="903.90" y2="802.30" stroke="#000" stroke-width="2.8" />
<line x1="903.90" y1="503.60" x2="903.90" y2="500.60" stroke="#000" stroke-width="2.8" />
<line x1="960.50" y1="799.30" x2="960.50" y2="802.30" stroke="#000" stroke-width="2.8" />
<line x1="960.50" y1="503.60" x2="960.50" y2="500.60" stroke="#000" stroke-width="2.8" />
<line x1="592.60" y1="777.50" x2="586.60" y2="777.50" stroke="#000" stroke-width="3.8" />
<line x1="988.80" y1="777.50" x2="994.80" y2="777.50" stroke="#000" stroke-width="3.8" />
<line x1="592.60" y1="735.55" x2="586.60" y2="735.55" stroke="#000" stroke-width="3.8" />
<line x1="988.80" y1="735.55" x2="994.80" y2="735.55" stroke="#000" stroke-width="3.8" />
<line x1="592.60" y1="693.60" x2="586.60" y2="693.60" stroke="#000" stroke-width="3.8" />
<line x1="988.80" y1="693.60" x2="994.80" y2="693.60" stroke="#000" stroke-width="3.8" />
<line x1="592.60" y1="651.65" x2="586.60" y2="651.65" stroke="#000" stroke-width="3.8" />
<line x1="988.80" y1="651.65" x2="994.80" y2="651.65" stroke="#000" stroke-width="3.8" />
<line x1="592.60" y1="609.70" x2="586.60" y2="609.70" stroke="#000" stroke-width="3.8" />
<line x1="988.80" y1="609.70" x2="994.80" y2="609.70" stroke="#000" stroke-width="3.8" />
<line x1="592.60" y1="567.75" x2="586.60" y2="567.75" stroke="#000" stroke-width="3.8" />
<line x1="988.80" y1="567.75" x2="994.80" y2="567.75" stroke="#000" stroke-width="3.8" />
<line x1="592.60" y1="525.80" x2="586.60" y2="525.80" stroke="#000" stroke-width="3.8" />
<line x1="988.80" y1="525.80" x2="994.80" y2="525.80" stroke="#000" stroke-width="3.8" />
<line x1="592.60" y1="798.48" x2="589.60" y2="798.48" stroke="#000" stroke-width="2.8" />
<line x1="988.80" y1="798.48" x2="991.80" y2="798.48" stroke="#000" stroke-width="2.8" />
<line x1="592.60" y1="756.52" x2="589.60" y2="756.52" stroke="#000" stroke-width="2.8" />
<line x1="988.80" y1="756.52" x2="991.80" y2="756.52" stroke="#000" stroke-width="2.8" />
<line x1="592.60" y1="714.58" x2="589.60" y2="714.58" stroke="#000" stroke-width="2.8" />
<line x1="988.80" y1="714.58" x2="991.80" y2="714.58" stroke="#000" stroke-width="2.8" />
<line x1="592.60" y1="672.62" x2="589.60" y2="672.62" stroke="#000" stroke-width="2.8" />
<line x1="988.80" y1="672.62" x2="991.80" y2="672.62" stroke="#000" stroke-width="2.8" />
<line x1="592.60" y1="630.67" x2="589.60" y2="630.67" stroke="#000" stroke-width="2.8" />
<line x1="988.80" y1="630.67" x2="991.80" y2="630.67" stroke="#000" stroke-width="2.8" />
<line x1="592.60" y1="588.73" x2="589.60" y2="588.73" stroke="#000" stroke-width="2.8" />
<line x1="988.80" y1="588.73" x2="991.80" y2="588.73" stroke="#000" stroke-width="2.8" />
<line x1="592.60" y1="546.77" x2="589.60" y2="546.77" stroke="#000" stroke-width="2.8" />
<line x1="988.80" y1="546.77" x2="991.80" y2="546.77" stroke="#000" stroke-width="2.8" />
<line x1="592.60" y1="504.82" x2="589.60" y2="504.82" stroke="#000" stroke-width="2.8" />
<line x1="988.80" y1="504.82" x2="991.80" y2="504.82" stroke="#000" stroke-width="2.8" />
<path d="M77.6,374.0 L78.6,374.0 L79.6,374.0 L80.6,374.0 L81.6,374.0 L82.6,373.9 L83.6,374.1 L84.6,374.2 L85.6,374.0 L86.6,374.1 L87.6,374.2 L88.6,374.1 L89.6,374.1 L90.6,374.0 L91.6,374.1 L92.6,374.2 L93.6,374.0 L94.6,374.1 L95.6,373.9 L96.6,374.0 L97.6,373.9 L98.6,374.1 L99.6,374.0 L100.6,374.1 L101.6,374.0 L102.6,374.0 L103.6,373.8 L104.6,374.0 L105.6,374.0 L106.6,374.0 L107.6,373.9 L108.6,374.0 L109.6,373.9 L110.6,373.9 L111.6,374.1 L112.6,373.9 L113.6,374.0 L114.6,374.1 L115.6,374.0 L116.6,374.0 L117.6,374.0 L118.6,374.0 L119.6,373.9 L120.6,374.0 L121.6,374.2 L122.6,374.0 L123.6,374.2 L124.6,374.1 L125.6,374.1 L126.6,374.3 L127.6,374.2 L128.6,373.9 L129.6,374.0 L130.6,374.1 L131.6,374.0 L132.6,374.1 L133.6,374.0 L134.6,374.1 L135.6,374.2 L136.6,374.0 L137.6,374.0 L138.6,374.0 L139.6,374.0 L140.6,373.9 L141.6,374.0 L142.6,374.0 L143.6,374.1 L144.6,374.1 L145.6,373.9 L146.6,374.0 L147.6,374.1 L148.6,373.9 L149.6,374.0 L150.6,374.0 L151.6,374.1 L152.6,374.1 L153.6,374.0 L154.6,374.0 L155.6,374.1 L156.6,374.2 L157.6,374.1 L158.6,374.1 L159.6,374.2 L160.6,374.1 L161.6,374.1 L162.6,374.0 L163.6,374.0 L164.6,374.0 L165.6,374.1 L166.6,374.1 L167.6,374.1 L168.6,374.1 L169.6,374.0 L170.6,374.2 L171.6,374.0 L172.6,374.1 L173.6,373.9 L174.6,374.1 L175.6,373.9 L176.6,373.9 L177.6,374.0 L178.6,373.9 L179.6,374.0 L180.6,374.2 L181.6,373.9 L182.6,373.9 L183.6,374.0 L184.6,374.1 L185.6,374.0 L186.6,374.0 L187.6,374.1 L188.6,374.1 L189.6,373.9 L190.6,374.0 L191.6,374.0 L192.6,374.0 L193.6,374.1 L194.6,374.0 L195.6,374.2 L196.6,374.1 L197.6,374.1 L198.6,374.0 L199.6,374.1 L200.6,373.9 L201.6,374.0 L202.6,374.1 L203.6,373.9 L204.6,374.2 L205.6,374.0 L206.6,374.2 L207.6,374.0 L208.6,374.2 L209.6,374.1 L210.6,374.0 L211.6,374.3 L212.6,374.2 L213.6,374.1 L214.6,374.0 L215.6,374.0 L216.6,373.9 L217.6,374.1 L218.6,373.9 L219.6,374.0 L220.6,374.0 L221.6,374.0 L222.6,374.0 L223.6,374.3 L224.6,374.2 L225.6,374.3 L226.6,374.1 L227.6,374.0 L228.6,374.0 L229.6,374.0 L230.6,374.1 L231.6,374.0 L232.6,374.1 L233.6,374.0 L234.6,374.0 L235.6,374.2 L236.6,374.0 L237.6,374.0 L238.6,374.1 L239.6,374.2 L240.6,373.8 L241.6,373.9 L242.6,373.8 L243.6,373.7 L244.6,373.9 L245.6,373.7 L246.6,373.7 L247.6,373.6 L248.6,373.6 L249.6,373.4 L250.6,373.4 L251.6,373.2 L252.6,373.2 L253.6,373.3 L254.6,373.1 L255.6,373.0 L256.6,372.8 L257.6,372.6 L258.6,372.5 L259.6,372.4 L260.6,372.2 L261.6,372.1 L262.6,371.9 L263.6,371.8 L264.6,371.4 L265.6,371.0 L266.6,370.6 L267.6,370.1 L268.6,370.0 L269.6,369.7 L270.6,369.1 L271.6,368.7 L272.6,368.2 L273.6,367.7 L274.6,367.2 L275.6,366.4 L276.6,366.1 L277.6,364.9 L278.6,364.6 L279.6,363.8 L280.6,363.1 L281.6,362.5 L282.6,361.6 L283.6,360.1 L284.6,359.1 L285.6,358.9 L286.6,357.6 L287.6,357.0 L288.6,356.4 L289.6,354.9 L290.6,353.8 L291.6,353.6 L292.6,352.6 L293.6,351.5 L294.6,350.6 L295.6,349.4 L296.6,348.4 L297.6,347.9 L298.6,346.9 L299.6,345.9 L300.6,345.8 L301.6,345.0 L302.6,344.5 L303.6,343.5 L304.6,343.2 L305.6,342.7 L306.6,342.5 L307.6,342.5 L308.6,341.9 L309.6,342.0 L310.6,341.7 L311.6,341.9 L312.6,340.8 L313.6,341.4 L314.6,341.1 L315.6,341.3 L316.6,341.1 L317.6,341.7 L318.6,342.6 L319.6,343.0 L320.6,343.8 L321.6,344.5 L322.6,345.7 L323.6,346.2 L324.6,346.4 L325.6,347.7 L326.6,348.3 L327.6,348.9 L328.6,350.7 L329.6,352.3 L330.6,353.0 L331.6,353.7 L332.6,354.8 L333.6,356.4 L334.6,357.1 L335.6,358.1 L336.6,359.2 L337.6,360.3 L338.6,361.5 L339.6,362.4 L340.6,363.2 L341.6,363.8 L342.6,364.9 L343.6,365.4 L344.6,366.4 L345.6,366.6 L346.6,367.4 L347.6,368.1 L348.6,368.4 L349.6,369.4 L350.6,369.8 L351.6,369.9 L352.6,370.4 L353.6,370.7 L354.6,370.6 L355.6,371.3 L356.6,371.5 L357.6,371.8 L358.6,371.8 L359.6,372.1 L360.6,372.3 L361.6,372.6 L362.6,372.6 L363.6,372.7 L364.6,373.0 L365.6,372.9 L366.6,373.0 L367.6,373.0 L368.6,373.4 L369.6,373.4 L370.6,373.4 L371.6,373.4 L372.6,373.3 L373.6,373.3 L374.6,373.3 L375.6,373.3 L376.6,373.4 L377.6,373.6 L378.6,373.5 L379.6,373.5 L380.6,373.4 L381.6,373.4 L382.6,373.7 L383.6,373.5 L384.6,373.5 L385.6,373.5 L386.6,373.5 L387.6,373.7 L388.6,373.8 L389.6,373.7 L390.6,373.7 L391.6,373.7 L392.6,373.7 L393.6,373.5 L394.6,373.6 L395.6,373.5 L396.6,373.6 L397.6,373.5 L398.6,373.6 L399.6,373.7 L400.6,373.6 L401.6,373.6 L402.6,373.7 L403.6,373.6 L404.6,373.5 L405.6,373.7 L406.6,373.8 L407.6,373.6 L408.6,373.6 L409.6,373.5 L410.6,373.7 L411.6,373.5 L412.6,373.5 L413.6,373.7 L414.6,373.5 L415.6,373.7 L416.6,373.7 L417.6,373.6 L418.6,373.6 L419.6,373.8 L420.6,373.6 L421.6,373.6 L422.6,373.5 L423.6,373.6 L424.6,373.7 L425.6,373.6 L426.6,373.4 L427.6,373.4 L428.6,373.4 L429.6,373.5 L430.6,373.5 L431.6,373.5 L432.6,373.6 L433.6,373.6 L434.6,373.6 L435.6,373.6 L436.6,373.5 L437.6,373.5 L438.6,373.6 L439.6,373.5 L440.6,373.5 L441.6,373.3 L442.6,373.6 L443.6,373.4 L444.6,373.4 L445.6,373.7 L446.6,373.7 L447.6,373.6 L448.6,373.5 L449.6,373.6 L450.6,373.6 L451.6,373.7 L452.6,373.8 L453.6,373.6 L454.6,373.5 L455.6,373.4 L456.6,373.6 L457.6,373.6 L458.6,373.5 L459.6,373.6 L460.6,373.4 L461.6,373.6 L462.6,373.6 L463.6,373.6 L464.6,373.5 L465.6,373.6 L466.6,373.5 L467.6,373.5 L468.6,373.6 L469.6,373.5 L470.6,373.5 L471.6,373.7 L472.6,373.6 L473.6,373.6 L474.6,373.6 L475.6,373.4 L476.6,373.4 L477.6,373.5 L478.6,373.5 L479.6,373.4 L480.6,373.5 L481.6,373.4 L482.6,373.3 L483.6,373.3 L484.6,373.5 L485.6,373.5 L486.6,373.3 L487.6,373.6 L488.6,373.6 L489.6,373.7 L490.0,373.5" fill="none" stroke="#000000" stroke-width="4.0" stroke-linejoin="round" />
<path d="M77.6,340.0 L78.6,340.1 L79.6,340.1 L80.6,340.1 L81.6,340.2 L82.6,340.2 L83.6,340.2 L84.6,340.1 L85.6,340.2 L86.6,340.3 L87.6,340.2 L88.6,340.2 L89.6,340.1 L90.6,340.3 L91.6,340.0 L92.6,340.1 L93.6,340.1 L94.6,340.2 L95.6,340.1 L96.6,340.2 L97.6,340.2 L98.6,340.2 L99.6,340.2 L100.6,340.1 L101.6,340.2 L102.6,340.3 L103.6,340.1 L104.6,340.2 L105.6,340.3 L106.6,340.2 L107.6,340.3 L108.6,340.1 L109.6,340.3 L110.6,340.4 L111.6,340.3 L112.6,340.1 L113.6,340.2 L114.6,340.2 L115.6,340.2 L116.6,340.3 L117.6,340.0 L118.6,340.2 L119.6,340.0 L120.6,340.1 L121.6,340.0 L122.6,339.9 L123.6,340.0 L124.6,340.0 L125.6,340.0 L126.6,340.1 L127.6,340.0 L128.6,339.9 L129.6,340.2 L130.6,340.2 L131.6,340.2 L132.6,340.2 L133.6,340.2 L134.6,340.1 L135.6,340.1 L136.6,340.1 L137.6,340.2 L138.6,339.9 L139.6,340.2 L140.6,340.0 L141.6,340.0 L142.6,340.2 L143.6,340.1 L144.6,340.0 L145.6,340.1 L146.6,340.2 L147.6,340.2 L148.6,340.0 L149.6,340.1 L150.6,340.1 L151.6,340.0 L152.6,340.1 L153.6,340.1 L154.6,340.1 L155.6,340.1 L156.6,340.2 L157.6,340.2 L158.6,340.2 L159.6,340.2 L160.6,340.3 L161.6,340.2 L162.6,340.2 L163.6,340.2 L164.6,340.1 L165.6,340.3 L166.6,340.1 L167.6,340.3 L168.6,340.2 L169.6,340.4 L170.6,340.4 L171.6,340.1 L172.6,340.2 L173.6,340.3 L174.6,340.2 L175.6,340.1 L176.6,340.0 L177.6,340.0 L178.6,340.0 L179.6,340.0 L180.6,340.1 L181.6,339.9 L182.6,340.2 L183.6,340.1 L184.6,340.3 L185.6,340.2 L186.6,340.1 L187.6,340.2 L188.6,340.0 L189.6,340.0 L190.6,339.9 L191.6,340.0 L192.6,340.1 L193.6,340.2 L194.6,340.1 L195.6,340.2 L196.6,340.0 L197.6,340.0 L198.6,340.1 L199.6,340.2 L200.6,340.1 L201.6,340.1 L202.6,340.1 L203.6,340.1 L204.6,340.0 L205.6,340.2 L206.6,340.1 L207.6,340.1 L208.6,340.0 L209.6,340.1 L210.6,340.0 L211.6,339.9 L212.6,340.1 L213.6,339.9 L214.6,340.1 L215.6,340.0 L216.6,339.9 L217.6,339.9 L218.6,340.0 L219.6,339.9 L220.6,339.9 L221.6,339.9 L222.6,339.8 L223.6,340.0 L224.6,339.8 L225.6,340.1 L226.6,339.9 L227.6,339.9 L228.6,339.9 L229.6,339.9 L230.6,339.8 L231.6,339.8 L232.6,339.8 L233.6,339.7 L234.6,339.8 L235.6,340.0 L236.6,339.7 L237.6,339.8 L238.6,339.6 L239.6,339.8 L240.6,339.8 L241.6,339.8 L242.6,339.8 L243.6,339.9 L244.6,339.7 L245.6,339.6 L246.6,339.4 L247.6,339.5 L248.6,339.4 L249.6,339.4 L250.6,339.3 L251.6,339.4 L252.6,338.9 L253.6,339.0 L254.6,339.0 L255.6,338.8 L256.6,338.6 L257.6,338.6 L258.6,338.3 L259.6,338.3 L260.6,338.4 L261.6,338.1 L262.6,337.7 L263.6,337.5 L264.6,337.2 L265.6,337.0 L266.6,336.4 L267.6,336.0 L268.6,335.8 L269.6,335.4 L270.6,334.8 L271.6,334.3 L272.6,333.7 L273.6,333.4 L274.6,332.6 L275.6,332.6 L276.6,331.8 L277.6,331.4 L278.6,331.1 L279.6,330.3 L280.6,329.1 L281.6,328.7 L282.6,328.0 L283.6,326.7 L284.6,325.8 L285.6,325.2 L286.6,323.9 L287.6,323.8 L288.6,321.8 L289.6,321.1 L290.6,320.2 L291.6,319.2 L292.6,318.3 L293.6,317.3 L294.6,316.3 L295.6,315.9 L296.6,314.1 L297.6,314.0 L298.6,313.1 L299.6,312.6 L300.6,312.0 L301.6,310.9 L302.6,310.3 L303.6,310.0 L304.6,309.3 L305.6,308.6 L306.6,309.0 L307.6,308.8 L308.6,307.5 L309.6,307.9 L310.6,308.5 L311.6,308.0 L312.6,308.0 L313.6,308.1 L314.6,308.3 L315.6,308.9 L316.6,309.4 L317.6,310.4 L318.6,310.8 L319.6,311.7 L320.6,312.4 L321.6,313.7 L322.6,314.5 L323.6,315.8 L324.6,317.2 L325.6,318.0 L326.6,319.2 L327.6,320.2 L328.6,321.3 L329.6,322.5 L330.6,323.7 L331.6,325.2 L332.6,325.8 L333.6,327.5 L334.6,328.3 L335.6,329.1 L336.6,330.1 L337.6,330.8 L338.6,331.8 L339.6,332.3 L340.6,333.4 L341.6,333.7 L342.6,334.0 L343.6,334.7 L344.6,335.0 L345.6,335.7 L346.6,336.3 L347.6,336.6 L348.6,336.6 L349.6,336.9 L350.6,337.5 L351.6,337.5 L352.6,337.7 L353.6,337.9 L354.6,338.2 L355.6,338.2 L356.6,338.2 L357.6,338.3 L358.6,338.5 L359.6,338.5 L360.6,338.5 L361.6,338.7 L362.6,338.7 L363.6,338.8 L364.6,338.8 L365.6,339.0 L366.6,338.7 L367.6,338.7 L368.6,338.7 L369.6,338.7 L370.6,338.8 L371.6,338.6 L372.6,338.6 L373.6,338.5 L374.6,338.6 L375.6,338.7 L376.6,338.7 L377.6,338.6 L378.6,338.7 L379.6,338.7 L380.6,338.8 L381.6,338.7 L382.6,338.7 L383.6,338.6 L384.6,338.7 L385.6,339.0 L386.6,338.6 L387.6,338.8 L388.6,338.8 L389.6,338.7 L390.6,338.6 L391.6,338.7 L392.6,338.6 L393.6,338.6 L394.6,338.4 L395.6,338.6 L396.6,338.6 L397.6,338.7 L398.6,338.8 L399.6,338.8 L400.6,338.9 L401.6,338.8 L402.6,338.9 L403.6,339.0 L404.6,338.9 L405.6,338.9 L406.6,338.8 L407.6,338.8 L408.6,338.9 L409.6,338.6 L410.6,338.8 L411.6,338.7 L412.6,338.8 L413.6,338.6 L414.6,338.7 L415.6,338.7 L416.6,338.8 L417.6,338.9 L418.6,338.8 L419.6,338.8 L420.6,338.7 L421.6,338.8 L422.6,338.8 L423.6,338.9 L424.6,339.1 L425.6,338.9 L426.6,338.8 L427.6,338.8 L428.6,338.7 L429.6,338.7 L430.6,338.9 L431.6,338.8 L432.6,338.6 L433.6,338.8 L434.6,338.8 L435.6,338.7 L436.6,338.7 L437.6,338.7 L438.6,338.8 L439.6,338.8 L440.6,338.9 L441.6,338.8 L442.6,338.8 L443.6,338.9 L444.6,338.8 L445.6,338.6 L446.6,338.7 L447.6,338.8 L448.6,338.7 L449.6,338.9 L450.6,338.8 L451.6,338.8 L452.6,339.0 L453.6,338.9 L454.6,338.8 L455.6,338.8 L456.6,338.8 L457.6,338.7 L458.6,338.4 L459.6,338.6 L460.6,338.6 L461.6,338.6 L462.6,338.7 L463.6,338.8 L464.6,338.6 L465.6,338.5 L466.6,338.9 L467.6,338.6 L468.6,338.5 L469.6,338.7 L470.6,338.8 L471.6,338.7 L472.6,338.8 L473.6,338.7 L474.6,338.6 L475.6,338.7 L476.6,338.8 L477.6,338.7 L478.6,338.8 L479.6,338.8 L480.6,339.1 L481.6,338.8 L482.6,339.0 L483.6,338.9 L484.6,338.9 L485.6,339.0 L486.6,339.0 L487.6,339.1 L488.6,338.9 L489.6,338.8 L490.0,338.8" fill="none" stroke="#ff0000" stroke-width="4.0" stroke-linejoin="round" />
<path d="M77.6,306.3 L78.6,306.1 L79.6,306.1 L80.6,306.3 L81.6,306.0 L82.6,306.0 L83.6,306.1 L84.6,306.0 L85.6,306.2 L86.6,306.3 L87.6,306.1 L88.6,306.1 L89.6,306.3 L90.6,306.3 L91.6,306.2 L92.6,306.2 L93.6,306.0 L94.6,306.1 L95.6,306.0 L96.6,306.0 L97.6,306.2 L98.6,306.1 L99.6,306.4 L100.6,306.2 L101.6,306.1 L102.6,306.2 L103.6,306.3 L104.6,306.2 L105.6,306.0 L106.6,306.1 L107.6,306.2 L108.6,306.1 L109.6,306.1 L110.6,306.3 L111.6,306.3 L112.6,306.1 L113.6,306.2 L114.6,306.1 L115.6,306.2 L116.6,306.2 L117.6,306.3 L118.6,306.2 L119.6,306.0 L120.6,306.2 L121.6,306.3 L122.6,306.2 L123.6,306.3 L124.6,306.2 L125.6,306.1 L126.6,306.3 L127.6,306.1 L128.6,306.1 L129.6,306.4 L130.6,306.2 L131.6,306.3 L132.6,306.1 L133.6,306.1 L134.6,306.1 L135.6,306.1 L136.6,306.2 L137.6,305.9 L138.6,306.2 L139.6,306.0 L140.6,306.0 L141.6,306.2 L142.6,306.1 L143.6,306.0 L144.6,306.3 L145.6,306.1 L146.6,306.2 L147.6,306.2 L148.6,306.3 L149.6,306.2 L150.6,306.3 L151.6,306.2 L152.6,306.3 L153.6,306.1 L154.6,306.2 L155.6,306.4 L156.6,306.3 L157.6,306.3 L158.6,306.5 L159.6,306.3 L160.6,306.2 L161.6,306.3 L162.6,306.1 L163.6,306.3 L164.6,306.3 L165.6,306.1 L166.6,306.1 L167.6,306.1 L168.6,306.1 L169.6,306.0 L170.6,306.2 L171.6,306.0 L172.6,306.2 L173.6,306.2 L174.6,306.2 L175.6,306.2 L176.6,306.0 L177.6,306.2 L178.6,306.1 L179.6,306.0 L180.6,306.0 L181.6,306.0 L182.6,306.1 L183.6,306.0 L184.6,306.2 L185.6,306.3 L186.6,306.2 L187.6,306.3 L188.6,306.1 L189.6,306.0 L190.6,306.2 L191.6,306.2 L192.6,306.3 L193.6,306.2 L194.6,306.2 L195.6,306.2 L196.6,306.1 L197.6,306.1 L198.6,306.1 L199.6,306.1 L200.6,306.1 L201.6,306.2 L202.6,306.1 L203.6,306.3 L204.6,306.1 L205.6,306.2 L206.6,306.1 L207.6,306.1 L208.6,306.3 L209.6,306.1 L210.6,305.9 L211.6,306.0 L212.6,306.0 L213.6,306.2 L214.6,306.0 L215.6,306.1 L216.6,305.9 L217.6,305.9 L218.6,305.9 L219.6,306.0 L220.6,305.9 L221.6,306.0 L222.6,306.0 L223.6,305.9 L224.6,306.0 L225.6,305.9 L226.6,305.7 L227.6,306.0 L228.6,306.0 L229.6,305.9 L230.6,305.8 L231.6,306.1 L232.6,306.0 L233.6,306.1 L234.6,306.1 L235.6,305.9 L236.6,306.0 L237.6,305.9 L238.6,305.9 L239.6,305.8 L240.6,305.8 L241.6,305.9 L242.6,305.8 L243.6,305.8 L244.6,305.8 L245.6,305.8 L246.6,305.7 L247.6,305.7 L248.6,305.7 L249.6,305.5 L250.6,305.5 L251.6,305.3 L252.6,305.4 L253.6,305.3 L254.6,305.1 L255.6,304.9 L256.6,305.0 L257.6,304.7 L258.6,304.5 L259.6,304.4 L260.6,304.3 L261.6,304.3 L262.6,304.0 L263.6,304.0 L264.6,303.4 L265.6,303.1 L266.6,302.5 L267.6,302.5 L268.6,301.9 L269.6,301.6 L270.6,301.4 L271.6,301.0 L272.6,300.2 L273.6,299.8 L274.6,299.0 L275.6,298.6 L276.6,297.9 L277.6,297.1 L278.6,296.4 L279.6,295.7 L280.6,294.9 L281.6,294.3 L282.6,293.6 L283.6,291.9 L284.6,291.4 L285.6,290.4 L286.6,289.7 L287.6,288.4 L288.6,287.6 L289.6,286.4 L290.6,285.9 L291.6,284.7 L292.6,283.6 L293.6,282.8 L294.6,281.6 L295.6,280.3 L296.6,280.0 L297.6,279.0 L298.6,278.0 L299.6,277.6 L300.6,277.0 L301.6,275.6 L302.6,275.1 L303.6,275.2 L304.6,274.6 L305.6,273.6 L306.6,273.2 L307.6,273.3 L308.6,273.3 L309.6,273.1 L310.6,273.7 L311.6,273.5 L312.6,273.9 L313.6,274.9 L314.6,275.0 L315.6,275.7 L316.6,276.6 L317.6,277.4 L318.6,277.9 L319.6,279.0 L320.6,279.7 L321.6,281.6 L322.6,282.4 L323.6,283.0 L324.6,284.5 L325.6,285.8 L326.6,286.7 L327.6,288.1 L328.6,288.9 L329.6,289.5 L330.6,290.8 L331.6,291.6 L332.6,292.9 L333.6,293.9 L334.6,295.3 L335.6,295.6 L336.6,296.0 L337.6,297.1 L338.6,298.0 L339.6,298.5 L340.6,299.3 L341.6,300.0 L342.6,300.7 L343.6,301.1 L344.6,301.5 L345.6,302.1 L346.6,302.3 L347.6,302.6 L348.6,302.7 L349.6,303.0 L350.6,303.4 L351.6,303.3 L352.6,303.6 L353.6,303.8 L354.6,303.8 L355.6,304.0 L356.6,303.9 L357.6,304.3 L358.6,304.4 L359.6,304.5 L360.6,304.4 L361.6,304.6 L362.6,304.9 L363.6,305.0 L364.6,304.9 L365.6,305.0 L366.6,304.8 L367.6,304.8 L368.6,304.8 L369.6,304.9 L370.6,304.6 L371.6,304.8 L372.6,304.9 L373.6,304.6 L374.6,304.6 L375.6,304.8 L376.6,304.7 L377.6,304.5 L378.6,304.9 L379.6,304.8 L380.6,304.7 L381.6,305.0 L382.6,304.8 L383.6,304.7 L384.6,304.8 L385.6,304.7 L386.6,304.8 L387.6,304.9 L388.6,304.8 L389.6,304.8 L390.6,305.1 L391.6,305.0 L392.6,305.0 L393.6,305.0 L394.6,305.0 L395.6,305.1 L396.6,305.0 L397.6,305.2 L398.6,304.9 L399.6,304.9 L400.6,304.8 L401.6,304.9 L402.6,304.9 L403.6,305.0 L404.6,304.7 L405.6,304.8 L406.6,304.8 L407.6,304.7 L408.6,304.7 L409.6,304.9 L410.6,304.7 L411.6,304.9 L412.6,304.9 L413.6,304.8 L414.6,304.7 L415.6,304.6 L416.6,304.9 L417.6,304.6 L418.6,304.9 L419.6,304.8 L420.6,304.7 L421.6,304.7 L422.6,304.9 L423.6,305.0 L424.6,304.8 L425.6,304.9 L426.6,305.1 L427.6,305.0 L428.6,305.1 L429.6,304.9 L430.6,305.0 L431.6,304.7 L432.6,305.1 L433.6,304.7 L434.6,304.6 L435.6,304.8 L436.6,304.8 L437.6,305.0 L438.6,304.7 L439.6,304.7 L440.6,304.8 L441.6,304.9 L442.6,304.8 L443.6,304.9 L444.6,304.9 L445.6,304.8 L446.6,304.9 L447.6,304.8 L448.6,304.7 L449.6,305.0 L450.6,304.7 L451.6,305.0 L452.6,304.9 L453.6,304.8 L454.6,304.7 L455.6,304.8 L456.6,304.9 L457.6,304.9 L458.6,304.9 L459.6,305.0 L460.6,304.8 L461.6,304.9 L462.6,304.7 L463.6,304.9 L464.6,304.9 L465.6,304.8 L466.6,304.9 L467.6,304.9 L468.6,304.6 L469.6,304.9 L470.6,304.8 L471.6,305.1 L472.6,305.2 L473.6,304.9 L474.6,305.0 L475.6,304.9 L476.6,305.0 L477.6,305.0 L478.6,305.1 L479.6,304.8 L480.6,305.0 L481.6,304.7 L482.6,304.8 L483.6,304.9 L484.6,304.9 L485.6,304.7 L486.6,304.8 L487.6,304.9 L488.6,305.0 L489.6,305.1 L490.0,304.8" fill="none" stroke="#0000ff" stroke-width="4.0" stroke-linejoin="round" />
<path d="M77.6,272.2 L78.6,272.3 L79.6,272.1 L80.6,272.1 L81.6,272.3 L82.6,272.3 L83.6,272.3 L84.6,272.2 L85.6,272.3 L86.6,272.3 L87.6,272.3 L88.6,272.1 L89.6,272.3 L90.6,272.2 L91.6,272.2 L92.6,272.3 L93.6,272.3 L94.6,272.2 L95.6,272.3 L96.6,272.1 L97.6,272.2 L98.6,272.3 L99.6,272.3 L100.6,272.4 L101.6,272.2 L102.6,272.2 L103.6,272.4 L104.6,272.4 L105.6,272.5 L106.6,272.4 L107.6,272.3 L108.6,272.4 L109.6,272.2 L110.6,272.2 L111.6,272.5 L112.6,272.3 L113.6,272.3 L114.6,272.3 L115.6,272.4 L116.6,272.2 L117.6,272.3 L118.6,272.1 L119.6,272.1 L120.6,272.4 L121.6,272.5 L122.6,272.4 L123.6,272.4 L124.6,272.4 L125.6,272.3 L126.6,272.5 L127.6,272.3 L128.6,272.3 L129.6,272.2 L130.6,272.3 L131.6,272.3 L132.6,272.3 L133.6,272.2 L134.6,272.3 L135.6,272.4 L136.6,272.2 L137.6,272.2 L138.6,272.3 L139.6,272.3 L140.6,272.3 L141.6,272.1 L142.6,272.3 L143.6,272.2 L144.6,272.2 L145.6,272.4 L146.6,272.3 L147.6,272.3 L148.6,272.5 L149.6,272.3 L150.6,272.3 L151.6,272.1 L152.6,272.2 L153.6,272.1 L154.6,272.2 L155.6,272.1 L156.6,272.2 L157.6,272.2 L158.6,272.1 L159.6,272.1 L160.6,272.1 L161.6,272.2 L162.6,272.2 L163.6,272.3 L164.6,272.3 L165.6,272.2 L166.6,272.3 L167.6,272.1 L168.6,272.4 L169.6,272.3 L170.6,272.2 L171.6,272.2 L172.6,272.3 L173.6,272.1 L174.6,272.2 L175.6,272.3 L176.6,272.2 L177.6,272.1 L178.6,272.2 L179.6,272.1 L180.6,272.2 L181.6,272.2 L182.6,272.2 L183.6,272.3 L184.6,272.1 L185.6,272.4 L186.6,272.2 L187.6,272.4 L188.6,272.1 L189.6,272.2 L190.6,272.0 L191.6,272.0 L192.6,272.1 L193.6,272.2 L194.6,272.0 L195.6,272.3 L196.6,272.2 L197.6,272.3 L198.6,272.3 L199.6,272.3 L200.6,272.0 L201.6,272.3 L202.6,272.2 L203.6,272.1 L204.6,272.0 L205.6,272.0 L206.6,272.0 L207.6,272.2 L208.6,272.1 L209.6,272.0 L210.6,272.0 L211.6,272.2 L212.6,272.0 L213.6,272.0 L214.6,272.2 L215.6,272.2 L216.6,272.1 L217.6,272.0 L218.6,271.9 L219.6,271.9 L220.6,271.9 L221.6,272.0 L222.6,272.1 L223.6,272.1 L224.6,272.1 L225.6,272.1 L226.6,272.0 L227.6,271.9 L228.6,272.0 L229.6,271.9 L230.6,272.0 L231.6,272.0 L232.6,271.9 L233.6,271.9 L234.6,271.9 L235.6,271.9 L236.6,271.8 L237.6,271.9 L238.6,271.8 L239.6,271.8 L240.6,271.9 L241.6,272.1 L242.6,271.8 L243.6,272.0 L244.6,272.0 L245.6,271.9 L246.6,271.7 L247.6,271.9 L248.6,271.7 L249.6,271.6 L250.6,271.6 L251.6,271.6 L252.6,271.5 L253.6,271.4 L254.6,271.5 L255.6,271.2 L256.6,271.1 L257.6,271.1 L258.6,271.0 L259.6,270.8 L260.6,270.4 L261.6,270.5 L262.6,270.3 L263.6,270.2 L264.6,269.7 L265.6,269.7 L266.6,269.4 L267.6,269.0 L268.6,268.8 L269.6,268.7 L270.6,268.1 L271.6,267.7 L272.6,267.6 L273.6,267.2 L274.6,266.8 L275.6,266.0 L276.6,265.6 L277.6,265.1 L278.6,264.2 L279.6,263.5 L280.6,263.1 L281.6,262.6 L282.6,261.4 L283.6,260.3 L284.6,259.8 L285.6,259.0 L286.6,258.3 L287.6,257.6 L288.6,256.6 L289.6,255.6 L290.6,255.0 L291.6,253.8 L292.6,253.1 L293.6,252.0 L294.6,252.0 L295.6,250.4 L296.6,248.9 L297.6,247.8 L298.6,246.9 L299.6,245.6 L300.6,245.1 L301.6,244.3 L302.6,244.1 L303.6,243.1 L304.6,242.4 L305.6,241.7 L306.6,241.2 L307.6,241.2 L308.6,240.7 L309.6,240.8 L310.6,240.0 L311.6,240.3 L312.6,240.1 L313.6,240.2 L314.6,239.9 L315.6,240.5 L316.6,241.6 L317.6,242.5 L318.6,242.9 L319.6,244.0 L320.6,244.5 L321.6,245.5 L322.6,246.4 L323.6,248.0 L324.6,249.0 L325.6,250.1 L326.6,251.5 L327.6,253.2 L328.6,254.4 L329.6,255.3 L330.6,257.2 L331.6,258.0 L332.6,259.1 L333.6,260.5 L334.6,261.4 L335.6,262.1 L336.6,263.0 L337.6,263.5 L338.6,264.3 L339.6,264.8 L340.6,266.1 L341.6,266.2 L342.6,267.2 L343.6,267.4 L344.6,267.8 L345.6,268.3 L346.6,268.6 L347.6,269.0 L348.6,269.4 L349.6,269.5 L350.6,269.7 L351.6,269.7 L352.6,270.0 L353.6,270.0 L354.6,270.0 L355.6,270.2 L356.6,270.2 L357.6,270.3 L358.6,270.4 L359.6,270.4 L360.6,270.4 L361.6,270.5 L362.6,270.3 L363.6,270.5 L364.6,270.7 L365.6,270.2 L366.6,270.4 L367.6,270.6 L368.6,270.3 L369.6,270.7 L370.6,270.2 L371.6,270.6 L372.6,270.6 L373.6,270.6 L374.6,270.5 L375.6,270.6 L376.6,270.5 L377.6,270.7 L378.6,270.5 L379.6,270.6 L380.6,270.7 L381.6,270.5 L382.6,270.6 L383.6,270.6 L384.6,270.4 L385.6,270.7 L386.6,270.6 L387.6,270.4 L388.6,270.6 L389.6,270.5 L390.6,270.6 L391.6,270.6 L392.6,270.5 L393.6,270.7 L394.6,270.5 L395.6,270.7 L396.6,270.6 L397.6,270.7 L398.6,270.6 L399.6,270.6 L400.6,270.5 L401.6,270.7 L402.6,270.7 L403.6,270.8 L404.6,270.7 L405.6,270.6 L406.6,270.5 L407.6,270.6 L408.6,270.6 L409.6,270.8 L410.6,270.8 L411.6,270.6 L412.6,270.6 L413.6,270.8 L414.6,270.7 L415.6,270.6 L416.6,270.7 L417.6,270.5 L418.6,270.5 L419.6,270.5 L420.6,270.3 L421.6,270.7 L422.6,270.5 L423.6,270.5 L424.6,270.5 L425.6,270.7 L426.6,270.6 L427.6,270.6 L428.6,270.4 L429.6,270.6 L430.6,270.4 L431.6,270.6 L432.6,270.6 L433.6,270.5 L434.6,270.7 L435.6,270.5 L436.6,270.5 L437.6,270.4 L438.6,270.4 L439.6,270.5 L440.6,270.6 L441.6,270.3 L442.6,270.6 L443.6,270.5 L444.6,270.6 L445.6,270.5 L446.6,270.4 L447.6,270.4 L448.6,270.8 L449.6,270.6 L450.6,270.4 L451.6,270.6 L452.6,270.6 L453.6,270.4 L454.6,270.4 L455.6,270.4 L456.6,270.6 L457.6,270.5 L458.6,270.5 L459.6,270.5 L460.6,270.6 L461.6,270.3 L462.6,270.5 L463.6,270.4 L464.6,270.4 L465.6,270.5 L466.6,270.5 L467.6,270.5 L468.6,270.4 L469.6,270.5 L470.6,270.8 L471.6,270.4 L472.6,270.4 L473.6,270.6 L474.6,270.6 L475.6,270.6 L476.6,270.4 L477.6,270.7 L478.6,270.5 L479.6,270.5 L480.6,270.5 L481.6,270.6 L482.6,270.7 L483.6,270.7 L484.6,270.6 L485.6,270.6 L486.6,270.5 L487.6,270.6 L488.6,270.4 L489.6,270.3 L490.0,270.6" fill="none" stroke="#008080" stroke-width="4.0" stroke-linejoin="round" />
<path d="M77.6,238.3 L78.6,238.3 L79.6,238.3 L80.6,238.1 L81.6,238.1 L82.6,238.3 L83.6,238.3 L84.6,238.3 L85.6,238.1 L86.6,238.3 L87.6,238.2 L88.6,238.3 L89.6,238.3 L90.6,238.2 L91.6,238.3 L92.6,238.1 L93.6,238.3 L94.6,238.2 L95.6,238.3 L96.6,238.3 L97.6,238.3 L98.6,238.3 L99.6,238.2 L100.6,238.3 L101.6,238.2 L102.6,238.2 L103.6,238.2 L104.6,238.1 L105.6,238.2 L106.6,238.3 L107.6,238.2 L108.6,238.3 L109.6,238.4 L110.6,238.2 L111.6,238.2 L112.6,238.1 L113.6,238.3 L114.6,238.2 L115.6,238.1 L116.6,238.3 L117.6,238.3 L118.6,238.2 L119.6,238.2 L120.6,238.2 L121.6,238.3 L122.6,238.1 L123.6,238.3 L124.6,238.5 L125.6,238.3 L126.6,238.3 L127.6,238.2 L128.6,238.1 L129.6,238.1 L130.6,238.2 L131.6,238.0 L132.6,238.1 L133.6,238.2 L134.6,238.3 L135.6,238.0 L136.6,238.1 L137.6,238.1 L138.6,238.3 L139.6,238.3 L140.6,238.3 L141.6,238.2 L142.6,238.1 L143.6,238.2 L144.6,238.2 L145.6,238.1 L146.6,238.2 L147.6,238.2 L148.6,238.2 L149.6,238.1 L150.6,238.0 L151.6,238.2 L152.6,238.2 L153.6,238.1 L154.6,238.1 L155.6,238.1 L156.6,238.2 L157.6,238.1 L158.6,238.1 L159.6,238.0 L160.6,238.0 L161.6,238.1 L162.6,238.0 L163.6,238.0 L164.6,238.1 L165.6,238.3 L166.6,238.1 L167.6,238.2 L168.6,238.0 L169.6,238.0 L170.6,237.9 L171.6,238.0 L172.6,238.2 L173.6,238.1 L174.6,238.1 L175.6,238.0 L176.6,237.9 L177.6,237.9 L178.6,237.9 L179.6,238.0 L180.6,238.0 L181.6,238.0 L182.6,237.9 L183.6,237.8 L184.6,237.8 L185.6,237.7 L186.6,237.9 L187.6,237.6 L188.6,237.8 L189.6,238.0 L190.6,237.7 L191.6,237.6 L192.6,237.7 L193.6,237.9 L194.6,237.8 L195.6,237.9 L196.6,237.8 L197.6,237.8 L198.6,238.1 L199.6,237.7 L200.6,237.6 L201.6,237.6 L202.6,237.6 L203.6,237.6 L204.6,237.7 L205.6,237.6 L206.6,237.4 L207.6,237.6 L208.6,237.5 L209.6,237.5 L210.6,237.3 L211.6,237.4 L212.6,237.3 L213.6,237.4 L214.6,237.2 L215.6,237.4 L216.6,237.4 L217.6,237.2 L218.6,237.2 L219.6,237.1 L220.6,237.3 L221.6,236.9 L222.6,237.2 L223.6,237.0 L224.6,237.1 L225.6,237.2 L226.6,237.0 L227.6,237.0 L228.6,236.9 L229.6,237.1 L230.6,237.0 L231.6,236.9 L232.6,236.6 L233.6,236.6 L234.6,236.8 L235.6,236.7 L236.6,236.6 L237.6,236.7 L238.6,236.4 L239.6,236.5 L240.6,236.4 L241.6,236.3 L242.6,236.1 L243.6,236.2 L244.6,236.1 L245.6,236.2 L246.6,236.1 L247.6,236.0 L248.6,235.8 L249.6,235.7 L250.6,235.3 L251.6,235.6 L252.6,235.4 L253.6,235.5 L254.6,235.4 L255.6,235.2 L256.6,235.2 L257.6,235.3 L258.6,235.2 L259.6,234.8 L260.6,234.7 L261.6,234.9 L262.6,234.5 L263.6,234.8 L264.6,234.4 L265.6,234.1 L266.6,234.1 L267.6,234.0 L268.6,233.3 L269.6,233.4 L270.6,232.9 L271.6,233.0 L272.6,232.5 L273.6,232.1 L274.6,232.2 L275.6,231.9 L276.6,231.7 L277.6,231.2 L278.6,230.5 L279.6,229.9 L280.6,229.3 L281.6,228.8 L282.6,228.1 L283.6,227.6 L284.6,226.5 L285.6,226.3 L286.6,225.4 L287.6,225.1 L288.6,223.8 L289.6,222.7 L290.6,222.1 L291.6,220.7 L292.6,219.9 L293.6,218.5 L294.6,218.5 L295.6,217.2 L296.6,215.7 L297.6,215.1 L298.6,214.4 L299.6,213.3 L300.6,212.3 L301.6,211.0 L302.6,210.0 L303.6,209.3 L304.6,208.6 L305.6,207.2 L306.6,206.5 L307.6,206.6 L308.6,205.6 L309.6,205.9 L310.6,205.4 L311.6,205.6 L312.6,206.1 L313.6,206.3 L314.6,207.0 L315.6,207.4 L316.6,208.6 L317.6,210.3 L318.6,212.0 L319.6,213.5 L320.6,215.3 L321.6,216.4 L322.6,218.0 L323.6,220.0 L324.6,221.4 L325.6,222.9 L326.6,224.1 L327.6,226.0 L328.6,226.8 L329.6,228.4 L330.6,229.3 L331.6,230.9 L332.6,231.5 L333.6,232.6 L334.6,232.9 L335.6,233.7 L336.6,234.4 L337.6,234.6 L338.6,235.1 L339.6,235.3 L340.6,235.4 L341.6,235.9 L342.6,236.1 L343.6,236.1 L344.6,236.4 L345.6,236.3 L346.6,236.4 L347.6,236.5 L348.6,236.5 L349.6,236.9 L350.6,236.5 L351.6,236.7 L352.6,236.7 L353.6,236.4 L354.6,236.5 L355.6,236.8 L356.6,236.7 L357.6,236.8 L358.6,236.8 L359.6,236.6 L360.6,236.5 L361.6,236.3 L362.6,236.6 L363.6,236.5 L364.6,236.6 L365.6,236.6 L366.6,236.4 L367.6,236.7 L368.6,236.6 L369.6,236.6 L370.6,236.4 L371.6,236.5 L372.6,236.5 L373.6,236.6 L374.6,236.5 L375.6,236.7 L376.6,236.6 L377.6,236.6 L378.6,236.5 L379.6,236.7 L380.6,236.6 L381.6,236.2 L382.6,236.4 L383.6,236.4 L384.6,236.5 L385.6,236.5 L386.6,236.5 L387.6,236.5 L388.6,236.7 L389.6,236.6 L390.6,236.6 L391.6,236.5 L392.6,236.6 L393.6,236.5 L394.6,236.4 L395.6,236.6 L396.6,236.5 L397.6,236.6 L398.6,236.6 L399.6,236.7 L400.6,236.7 L401.6,236.5 L402.6,236.5 L403.6,236.3 L404.6,236.6 L405.6,236.4 L406.6,236.5 L407.6,236.4 L408.6,236.3 L409.6,236.7 L410.6,236.6 L411.6,236.6 L412.6,236.6 L413.6,236.6 L414.6,236.6 L415.6,236.3 L416.6,236.6 L417.6,236.4 L418.6,236.4 L419.6,236.6 L420.6,236.6 L421.6,236.4 L422.6,236.3 L423.6,236.5 L424.6,236.6 L425.6,236.5 L426.6,236.4 L427.6,236.4 L428.6,236.4 L429.6,236.6 L430.6,236.7 L431.6,236.7 L432.6,236.6 L433.6,236.7 L434.6,236.7 L435.6,236.6 L436.6,236.6 L437.6,236.8 L438.6,236.6 L439.6,236.7 L440.6,236.6 L441.6,236.6 L442.6,236.5 L443.6,236.6 L444.6,236.8 L445.6,236.8 L446.6,236.7 L447.6,236.7 L448.6,236.6 L449.6,236.5 L450.6,236.5 L451.6,236.6 L452.6,236.4 L453.6,236.6 L454.6,236.4 L455.6,236.3 L456.6,236.4 L457.6,236.3 L458.6,236.4 L459.6,236.6 L460.6,236.5 L461.6,236.6 L462.6,236.7 L463.6,236.7 L464.6,236.4 L465.6,236.6 L466.6,236.6 L467.6,236.5 L468.6,236.6 L469.6,236.5 L470.6,236.6 L471.6,236.6 L472.6,236.7 L473.6,236.6 L474.6,236.6 L475.6,236.7 L476.6,236.8 L477.6,236.7 L478.6,236.8 L479.6,236.6 L480.6,236.6 L481.6,236.7 L482.6,236.6 L483.6,236.5 L484.6,236.8 L485.6,236.6 L486.6,236.5 L487.6,236.7 L488.6,236.8 L489.6,236.6 L490.0,236.8" fill="none" stroke="#ff00ff" stroke-width="4.0" stroke-linejoin="round" />
<path d="M77.6,204.4 L78.6,204.2 L79.6,204.4 L80.6,204.3 L81.6,204.2 L82.6,204.2 L83.6,204.3 L84.6,204.6 L85.6,204.3 L86.6,204.6 L87.6,204.6 L88.6,204.4 L89.6,204.3 L90.6,204.2 L91.6,204.4 L92.6,204.5 L93.6,204.4 L94.6,204.4 L95.6,204.4 L96.6,204.3 L97.6,204.3 L98.6,204.3 L99.6,204.5 L100.6,204.3 L101.6,204.4 L102.6,204.4 L103.6,204.3 L104.6,204.6 L105.6,204.2 L106.6,204.2 L107.6,204.2 L108.6,204.0 L109.6,204.2 L110.6,204.1 L111.6,204.2 L112.6,204.2 L113.6,204.1 L114.6,204.3 L115.6,204.3 L116.6,204.4 L117.6,204.3 L118.6,204.1 L119.6,204.3 L120.6,204.1 L121.6,204.1 L122.6,204.3 L123.6,204.2 L124.6,204.1 L125.6,204.1 L126.6,204.1 L127.6,203.9 L128.6,204.1 L129.6,204.0 L130.6,204.1 L131.6,204.0 L132.6,204.3 L133.6,204.2 L134.6,203.9 L135.6,204.0 L136.6,203.8 L137.6,204.0 L138.6,204.1 L139.6,204.0 L140.6,203.7 L141.6,203.9 L142.6,203.9 L143.6,203.9 L144.6,204.0 L145.6,203.7 L146.6,203.9 L147.6,203.7 L148.6,203.8 L149.6,203.9 L150.6,204.0 L151.6,203.8 L152.6,203.8 L153.6,203.6 L154.6,203.6 L155.6,203.8 L156.6,203.7 L157.6,203.4 L158.6,203.4 L159.6,203.3 L160.6,203.4 L161.6,203.3 L162.6,203.4 L163.6,203.0 L164.6,203.2 L165.6,203.3 L166.6,203.3 L167.6,203.2 L168.6,203.1 L169.6,203.4 L170.6,203.2 L171.6,202.9 L172.6,202.7 L173.6,203.1 L174.6,202.6 L175.6,202.8 L176.6,202.9 L177.6,202.4 L178.6,202.6 L179.6,202.4 L180.6,202.4 L181.6,202.2 L182.6,202.4 L183.6,202.2 L184.6,202.0 L185.6,202.2 L186.6,201.7 L187.6,201.5 L188.6,202.0 L189.6,201.3 L190.6,201.1 L191.6,201.1 L192.6,200.8 L193.6,200.5 L194.6,200.9 L195.6,200.3 L196.6,200.3 L197.6,200.1 L198.6,199.7 L199.6,199.3 L200.6,199.4 L201.6,199.8 L202.6,199.4 L203.6,199.3 L204.6,198.6 L205.6,198.8 L206.6,198.2 L207.6,198.6 L208.6,198.2 L209.6,198.0 L210.6,197.8 L211.6,197.5 L212.6,196.9 L213.6,197.1 L214.6,196.4 L215.6,196.3 L216.6,196.5 L217.6,196.3 L218.6,196.4 L219.6,196.4 L220.6,196.0 L221.6,195.8 L222.6,195.5 L223.6,195.6 L224.6,194.4 L225.6,195.0 L226.6,194.3 L227.6,194.0 L228.6,194.2 L229.6,193.9 L230.6,194.3 L231.6,194.4 L232.6,192.9 L233.6,193.6 L234.6,194.3 L235.6,193.7 L236.6,193.8 L237.6,193.1 L238.6,192.5 L239.6,192.5 L240.6,193.0 L241.6,192.8 L242.6,192.0 L243.6,192.3 L244.6,192.4 L245.6,191.4 L246.6,191.8 L247.6,192.5 L248.6,192.5 L249.6,191.3 L250.6,192.1 L251.6,191.2 L252.6,191.1 L253.6,190.4 L254.6,191.7 L255.6,191.0 L256.6,191.8 L257.6,190.3 L258.6,190.3 L259.6,189.6 L260.6,191.1 L261.6,189.9 L262.6,189.8 L263.6,188.8 L264.6,190.4 L265.6,190.5 L266.6,189.5 L267.6,189.4 L268.6,189.1 L269.6,189.4 L270.6,189.0 L271.6,189.8 L272.6,188.7 L273.6,188.4 L274.6,188.2 L275.6,186.8 L276.6,187.4 L277.6,188.2 L278.6,187.7 L279.6,187.1 L280.6,187.5 L281.6,185.8 L282.6,186.5 L283.6,186.6 L284.6,186.3 L285.6,185.1 L286.6,185.7 L287.6,185.8 L288.6,183.9 L289.6,184.2 L290.6,182.3 L291.6,181.4 L292.6,182.4 L293.6,181.6 L294.6,181.2 L295.6,180.1 L296.6,179.8 L297.6,179.9 L298.6,179.5 L299.6,177.3 L300.6,175.9 L301.6,177.3 L302.6,176.3 L303.6,175.9 L304.6,175.1 L305.6,175.9 L306.6,174.2 L307.6,174.3 L308.6,173.0 L309.6,174.3 L310.6,174.8 L311.6,175.8 L312.6,176.7 L313.6,176.9 L314.6,179.4 L315.6,178.6 L316.6,180.2 L317.6,182.0 L318.6,182.6 L319.6,185.2 L320.6,186.5 L321.6,187.4 L322.6,189.9 L323.6,190.1 L324.6,191.2 L325.6,191.8 L326.6,192.7 L327.6,194.2 L328.6,195.1 L329.6,195.8 L330.6,197.0 L331.6,196.7 L332.6,197.8 L333.6,198.3 L334.6,199.7 L335.6,199.7 L336.6,200.1 L337.6,200.3 L338.6,201.1 L339.6,201.2 L340.6,201.5 L341.6,201.2 L342.6,202.0 L343.6,202.0 L344.6,202.2 L345.6,202.5 L346.6,202.3 L347.6,202.4 L348.6,202.6 L349.6,202.7 L350.6,202.6 L351.6,202.7 L352.6,202.7 L353.6,202.9 L354.6,202.8 L355.6,202.7 L356.6,203.0 L357.6,202.6 L358.6,202.9 L359.6,203.2 L360.6,202.8 L361.6,202.7 L362.6,203.2 L363.6,203.0 L364.6,202.8 L365.6,203.0 L366.6,202.7 L367.6,202.8 L368.6,203.0 L369.6,202.9 L370.6,202.7 L371.6,202.8 L372.6,202.8 L373.6,203.0 L374.6,203.0 L375.6,203.2 L376.6,203.1 L377.6,202.9 L378.6,202.8 L379.6,203.0 L380.6,203.3 L381.6,203.2 L382.6,203.0 L383.6,203.3 L384.6,202.8 L385.6,203.1 L386.6,202.9 L387.6,203.0 L388.6,203.0 L389.6,202.9 L390.6,203.0 L391.6,202.8 L392.6,202.9 L393.6,203.1 L394.6,203.6 L395.6,203.0 L396.6,202.9 L397.6,202.7 L398.6,203.1 L399.6,202.7 L400.6,202.9 L401.6,203.1 L402.6,202.8 L403.6,203.2 L404.6,203.1 L405.6,202.9 L406.6,202.9 L407.6,202.9 L408.6,202.9 L409.6,203.2 L410.6,203.2 L411.6,203.1 L412.6,203.0 L413.6,202.9 L414.6,203.0 L415.6,202.7 L416.6,203.0 L417.6,203.3 L418.6,203.2 L419.6,202.9 L420.6,202.9 L421.6,203.2 L422.6,203.2 L423.6,202.7 L424.6,202.8 L425.6,203.0 L426.6,203.1 L427.6,202.7 L428.6,202.9 L429.6,202.9 L430.6,203.3 L431.6,203.0 L432.6,202.9 L433.6,203.0 L434.6,203.3 L435.6,203.3 L436.6,202.9 L437.6,203.1 L438.6,202.8 L439.6,202.9 L440.6,202.8 L441.6,202.8 L442.6,202.8 L443.6,202.7 L444.6,202.9 L445.6,202.9 L446.6,202.8 L447.6,202.7 L448.6,203.0 L449.6,202.6 L450.6,202.7 L451.6,203.0 L452.6,203.0 L453.6,203.1 L454.6,202.9 L455.6,202.8 L456.6,203.0 L457.6,203.2 L458.6,203.0 L459.6,203.0 L460.6,202.9 L461.6,203.0 L462.6,203.2 L463.6,203.1 L464.6,202.8 L465.6,202.8 L466.6,202.9 L467.6,203.1 L468.6,202.7 L469.6,202.9 L470.6,202.5 L471.6,202.7 L472.6,203.0 L473.6,203.2 L474.6,203.0 L475.6,203.0 L476.6,203.2 L477.6,203.1 L478.6,203.1 L479.6,203.2 L480.6,203.1 L481.6,203.2 L482.6,203.1 L483.6,202.8 L484.6,202.8 L485.6,202.9 L486.6,202.8 L487.6,202.9 L488.6,203.2 L489.6,202.8 L490.0,203.3" fill="none" stroke="#808000" stroke-width="4.7" stroke-linejoin="round" />
<path d="M77.6,135.3 L78.6,135.2 L79.6,135.2 L80.6,135.4 L81.6,135.7 L82.6,135.6 L83.6,135.6 L84.6,135.4 L85.6,135.5 L86.6,135.3 L87.6,135.3 L88.6,135.3 L89.6,135.5 L90.6,135.3 L91.6,135.6 L92.6,135.6 L93.6,135.4 L94.6,135.4 L95.6,135.2 L96.6,135.1 L97.6,135.2 L98.6,135.2 L99.6,135.4 L100.6,135.3 L101.6,135.4 L102.6,135.4 L103.6,134.8 L104.6,135.3 L105.6,135.0 L106.6,135.2 L107.6,135.0 L108.6,135.2 L109.6,135.4 L110.6,134.9 L111.6,135.2 L112.6,135.1 L113.6,134.8 L114.6,135.1 L115.6,135.0 L116.6,134.9 L117.6,134.8 L118.6,135.3 L119.6,134.8 L120.6,134.6 L121.6,134.8 L122.6,134.8 L123.6,134.7 L124.6,134.7 L125.6,134.5 L126.6,134.7 L127.6,134.5 L128.6,134.3 L129.6,134.4 L130.6,134.6 L131.6,134.8 L132.6,134.7 L133.6,134.6 L134.6,134.7 L135.6,134.6 L136.6,134.9 L137.6,134.5 L138.6,134.6 L139.6,134.6 L140.6,134.3 L141.6,134.4 L142.6,134.3 L143.6,134.1 L144.6,134.2 L145.6,134.3 L146.6,134.2 L147.6,133.8 L148.6,133.9 L149.6,134.3 L150.6,133.6 L151.6,133.8 L152.6,133.8 L153.6,133.5 L154.6,133.5 L155.6,133.5 L156.6,133.6 L157.6,133.7 L158.6,133.3 L159.6,133.3 L160.6,133.1 L161.6,132.9 L162.6,132.9 L163.6,132.6 L164.6,133.0 L165.6,133.0 L166.6,132.9 L167.6,132.5 L168.6,131.7 L169.6,132.2 L170.6,131.5 L171.6,131.5 L172.6,131.8 L173.6,130.9 L174.6,131.2 L175.6,130.7 L176.6,130.5 L177.6,130.0 L178.6,130.1 L179.6,129.6 L180.6,129.8 L181.6,129.8 L182.6,128.9 L183.6,129.2 L184.6,129.2 L185.6,128.7 L186.6,128.4 L187.6,128.6 L188.6,128.2 L189.6,127.3 L190.6,127.4 L191.6,127.5 L192.6,126.5 L193.6,126.3 L194.6,127.0 L195.6,126.6 L196.6,125.2 L197.6,125.2 L198.6,125.7 L199.6,124.8 L200.6,125.0 L201.6,124.7 L202.6,124.7 L203.6,122.7 L204.6,122.2 L205.6,122.2 L206.6,123.3 L207.6,122.9 L208.6,121.9 L209.6,123.0 L210.6,123.1 L211.6,122.4 L212.6,122.3 L213.6,122.7 L214.6,122.9 L215.6,122.0 L216.6,121.5 L217.6,120.5 L218.6,120.0 L219.6,119.2 L220.6,119.4 L221.6,119.1 L222.6,119.3 L223.6,119.7 L224.6,118.9 L225.6,118.8 L226.6,117.1 L227.6,118.2 L228.6,116.9 L229.6,116.3 L230.6,115.9 L231.6,117.5 L232.6,117.6 L233.6,116.9 L234.6,116.5 L235.6,117.0 L236.6,115.9 L237.6,116.6 L238.6,113.8 L239.6,113.2 L240.6,114.0 L241.6,114.4 L242.6,114.9 L243.6,115.2 L244.6,115.7 L245.6,113.2 L246.6,112.5 L247.6,111.5 L248.6,113.2 L249.6,113.9 L250.6,113.0 L251.6,113.2 L252.6,111.9 L253.6,112.7 L254.6,111.5 L255.6,110.3 L256.6,110.7 L257.6,110.1 L258.6,109.6 L259.6,110.5 L260.6,110.6 L261.6,111.2 L262.6,109.9 L263.6,109.6 L264.6,108.7 L265.6,110.0 L266.6,109.3 L267.6,108.3 L268.6,109.4 L269.6,109.8 L270.6,108.2 L271.6,110.0 L272.6,109.6 L273.6,108.9 L274.6,108.5 L275.6,110.0 L276.6,109.8 L277.6,109.8 L278.6,107.4 L279.6,107.5 L280.6,108.5 L281.6,106.6 L282.6,106.3 L283.6,105.3 L284.6,107.8 L285.6,106.8 L286.6,106.1 L287.6,106.0 L288.6,105.4 L289.6,105.1 L290.6,105.4 L291.6,104.1 L292.6,105.3 L293.6,103.9 L294.6,103.7 L295.6,105.5 L296.6,104.7 L297.6,105.3 L298.6,104.9 L299.6,103.9 L300.6,105.5 L301.6,103.7 L302.6,105.3 L303.6,103.8 L304.6,103.9 L305.6,105.7 L306.6,106.5 L307.6,107.1 L308.6,106.7 L309.6,108.6 L310.6,107.7 L311.6,109.6 L312.6,110.7 L313.6,112.1 L314.6,113.6 L315.6,113.3 L316.6,116.0 L317.6,118.1 L318.6,118.0 L319.6,119.2 L320.6,120.6 L321.6,121.8 L322.6,123.4 L323.6,123.4 L324.6,125.9 L325.6,127.2 L326.6,127.8 L327.6,128.1 L328.6,129.2 L329.6,129.7 L330.6,130.4 L331.6,130.6 L332.6,131.3 L333.6,131.6 L334.6,132.5 L335.6,131.9 L336.6,132.4 L337.6,132.9 L338.6,132.5 L339.6,133.2 L340.6,133.1 L341.6,133.5 L342.6,133.3 L343.6,133.5 L344.6,133.8 L345.6,133.9 L346.6,133.8 L347.6,134.2 L348.6,133.7 L349.6,133.5 L350.6,133.9 L351.6,134.0 L352.6,134.2 L353.6,134.3 L354.6,133.9 L355.6,134.3 L356.6,134.3 L357.6,134.1 L358.6,134.1 L359.6,133.5 L360.6,133.9 L361.6,134.3 L362.6,133.7 L363.6,134.0 L364.6,134.2 L365.6,134.3 L366.6,134.5 L367.6,133.8 L368.6,134.1 L369.6,134.3 L370.6,133.9 L371.6,134.1 L372.6,134.5 L373.6,134.4 L374.6,134.3 L375.6,133.6 L376.6,133.9 L377.6,134.1 L378.6,134.1 L379.6,134.2 L380.6,134.8 L381.6,134.1 L382.6,134.0 L383.6,134.2 L384.6,134.0 L385.6,134.0 L386.6,134.0 L387.6,134.2 L388.6,134.2 L389.6,133.8 L390.6,134.0 L391.6,134.2 L392.6,134.1 L393.6,134.3 L394.6,134.1 L395.6,133.8 L396.6,133.9 L397.6,134.2 L398.6,134.2 L399.6,134.0 L400.6,134.2 L401.6,133.9 L402.6,133.8 L403.6,134.1 L404.6,134.1 L405.6,134.1 L406.6,134.1 L407.6,134.3 L408.6,134.1 L409.6,134.1 L410.6,134.0 L411.6,133.8 L412.6,134.1 L413.6,133.7 L414.6,133.9 L415.6,134.4 L416.6,134.4 L417.6,134.1 L418.6,134.0 L419.6,133.8 L420.6,134.1 L421.6,134.2 L422.6,133.7 L423.6,134.0 L424.6,134.0 L425.6,134.0 L426.6,133.8 L427.6,134.2 L428.6,133.8 L429.6,134.4 L430.6,134.2 L431.6,133.8 L432.6,134.3 L433.6,134.3 L434.6,133.9 L435.6,134.4 L436.6,133.9 L437.6,134.2 L438.6,134.2 L439.6,133.6 L440.6,134.2 L441.6,134.0 L442.6,134.0 L443.6,133.8 L444.6,134.1 L445.6,133.9 L446.6,133.8 L447.6,133.9 L448.6,133.8 L449.6,134.3 L450.6,133.8 L451.6,134.0 L452.6,134.1 L453.6,134.1 L454.6,134.2 L455.6,134.2 L456.6,134.1 L457.6,134.1 L458.6,134.1 L459.6,134.2 L460.6,134.2 L461.6,133.9 L462.6,133.5 L463.6,134.2 L464.6,133.9 L465.6,133.8 L466.6,133.9 L467.6,133.8 L468.6,133.7 L469.6,133.9 L470.6,133.9 L471.6,133.8 L472.6,133.6 L473.6,133.8 L474.6,133.9 L475.6,133.8 L476.6,134.0 L477.6,133.7 L478.6,134.0 L479.6,133.9 L480.6,133.5 L481.6,133.4 L482.6,133.9 L483.6,133.7 L484.6,134.0 L485.6,133.8 L486.6,134.1 L487.6,133.8 L488.6,133.6 L489.6,133.7 L490.0,133.6" fill="none" stroke="#000080" stroke-width="5.3" stroke-linejoin="round" />
<path d="M77.6,167.7 L78.6,167.8 L79.6,167.7 L80.6,167.5 L81.6,167.6 L82.6,167.4 L83.6,167.7 L84.6,167.6 L85.6,167.9 L86.6,167.7 L87.6,167.6 L88.6,167.6 L89.6,167.5 L90.6,167.6 L91.6,167.7 L92.6,167.5 L93.6,167.7 L94.6,167.4 L95.6,167.6 L96.6,168.0 L97.6,167.4 L98.6,167.7 L99.6,167.6 L100.6,167.2 L101.6,167.3 L102.6,167.5 L103.6,167.7 L104.6,167.4 L105.6,167.5 L106.6,167.6 L107.6,167.5 L108.6,167.4 L109.6,167.2 L110.6,167.5 L111.6,167.3 L112.6,167.7 L113.6,167.3 L114.6,167.1 L115.6,167.3 L116.6,167.3 L117.6,167.0 L118.6,167.2 L119.6,167.0 L120.6,167.1 L121.6,167.3 L122.6,167.0 L123.6,167.1 L124.6,166.9 L125.6,167.3 L126.6,166.9 L127.6,166.8 L128.6,166.8 L129.6,166.8 L130.6,167.0 L131.6,167.0 L132.6,167.0 L133.6,166.7 L134.6,166.7 L135.6,166.7 L136.6,166.6 L137.6,166.5 L138.6,166.6 L139.6,166.6 L140.6,166.3 L141.6,166.0 L142.6,166.0 L143.6,166.1 L144.6,165.4 L145.6,165.7 L146.6,165.7 L147.6,165.4 L148.6,165.3 L149.6,166.0 L150.6,166.0 L151.6,165.5 L152.6,165.6 L153.6,165.4 L154.6,164.8 L155.6,165.5 L156.6,164.5 L157.6,164.4 L158.6,164.1 L159.6,164.4 L160.6,164.1 L161.6,164.3 L162.6,164.6 L163.6,164.2 L164.6,163.6 L165.6,163.7 L166.6,162.9 L167.6,163.3 L168.6,162.8 L169.6,162.9 L170.6,162.8 L171.6,162.6 L172.6,162.3 L173.6,161.8 L174.6,161.7 L175.6,161.8 L176.6,161.5 L177.6,160.9 L178.6,160.7 L179.6,160.5 L180.6,160.7 L181.6,160.7 L182.6,160.2 L183.6,159.5 L184.6,159.6 L185.6,158.6 L186.6,157.4 L187.6,158.6 L188.6,158.0 L189.6,158.2 L190.6,157.9 L191.6,158.3 L192.6,156.8 L193.6,156.9 L194.6,156.3 L195.6,156.0 L196.6,155.6 L197.6,156.1 L198.6,155.7 L199.6,155.5 L200.6,155.5 L201.6,154.3 L202.6,154.3 L203.6,154.0 L204.6,153.6 L205.6,152.8 L206.6,152.3 L207.6,153.9 L208.6,151.5 L209.6,152.7 L210.6,152.6 L211.6,152.1 L212.6,151.1 L213.6,151.5 L214.6,151.2 L215.6,150.5 L216.6,150.8 L217.6,150.0 L218.6,149.6 L219.6,150.0 L220.6,148.3 L221.6,149.0 L222.6,148.0 L223.6,148.6 L224.6,148.4 L225.6,148.4 L226.6,147.1 L227.6,146.7 L228.6,146.3 L229.6,147.2 L230.6,147.8 L231.6,147.9 L232.6,146.2 L233.6,146.0 L234.6,144.4 L235.6,143.7 L236.6,144.3 L237.6,144.4 L238.6,144.0 L239.6,143.8 L240.6,145.3 L241.6,143.9 L242.6,142.9 L243.6,145.4 L244.6,143.8 L245.6,143.2 L246.6,143.9 L247.6,142.8 L248.6,144.3 L249.6,142.3 L250.6,142.4 L251.6,142.9 L252.6,142.3 L253.6,143.7 L254.6,141.5 L255.6,141.9 L256.6,141.7 L257.6,141.4 L258.6,141.6 L259.6,141.5 L260.6,143.6 L261.6,142.3 L262.6,142.6 L263.6,142.8 L264.6,141.6 L265.6,141.2 L266.6,141.0 L267.6,141.0 L268.6,140.4 L269.6,140.5 L270.6,139.5 L271.6,140.4 L272.6,139.0 L273.6,141.9 L274.6,141.6 L275.6,140.9 L276.6,139.9 L277.6,139.7 L278.6,141.0 L279.6,140.4 L280.6,140.5 L281.6,139.2 L282.6,140.0 L283.6,138.6 L284.6,139.3 L285.6,137.9 L286.6,138.7 L287.6,139.4 L288.6,138.7 L289.6,138.8 L290.6,139.4 L291.6,138.6 L292.6,139.6 L293.6,137.6 L294.6,139.7 L295.6,139.1 L296.6,137.5 L297.6,138.0 L298.6,139.6 L299.6,137.9 L300.6,138.1 L301.6,139.3 L302.6,138.9 L303.6,139.4 L304.6,138.6 L305.6,139.8 L306.6,141.2 L307.6,141.7 L308.6,140.6 L309.6,143.2 L310.6,143.5 L311.6,143.8 L312.6,146.4 L313.6,145.4 L314.6,149.0 L315.6,148.2 L316.6,150.9 L317.6,151.1 L318.6,151.4 L319.6,153.4 L320.6,154.8 L321.6,155.9 L322.6,157.0 L323.6,157.0 L324.6,158.3 L325.6,159.0 L326.6,159.5 L327.6,159.8 L328.6,160.3 L329.6,161.7 L330.6,162.4 L331.6,162.2 L332.6,162.3 L333.6,163.5 L334.6,163.2 L335.6,163.9 L336.6,164.0 L337.6,164.2 L338.6,165.0 L339.6,165.2 L340.6,165.6 L341.6,165.9 L342.6,165.5 L343.6,166.0 L344.6,166.0 L345.6,165.7 L346.6,165.8 L347.6,166.4 L348.6,166.0 L349.6,166.1 L350.6,166.1 L351.6,166.1 L352.6,166.0 L353.6,166.2 L354.6,166.3 L355.6,166.0 L356.6,165.8 L357.6,166.1 L358.6,165.9 L359.6,166.1 L360.6,166.5 L361.6,166.8 L362.6,166.6 L363.6,166.3 L364.6,166.5 L365.6,166.0 L366.6,166.2 L367.6,166.6 L368.6,166.4 L369.6,166.1 L370.6,166.1 L371.6,166.5 L372.6,166.3 L373.6,166.1 L374.6,166.4 L375.6,166.3 L376.6,166.1 L377.6,166.5 L378.6,166.1 L379.6,166.1 L380.6,166.0 L381.6,166.4 L382.6,166.1 L383.6,166.3 L384.6,166.2 L385.6,166.6 L386.6,166.3 L387.6,166.2 L388.6,165.9 L389.6,166.1 L390.6,166.4 L391.6,166.8 L392.6,166.0 L393.6,166.1 L394.6,166.4 L395.6,166.4 L396.6,166.2 L397.6,166.4 L398.6,166.0 L399.6,166.2 L400.6,166.5 L401.6,166.7 L402.6,166.3 L403.6,166.1 L404.6,166.3 L405.6,166.5 L406.6,166.4 L407.6,166.2 L408.6,166.5 L409.6,166.5 L410.6,166.2 L411.6,166.0 L412.6,166.4 L413.6,166.4 L414.6,166.5 L415.6,166.3 L416.6,166.1 L417.6,166.1 L418.6,166.0 L419.6,166.0 L420.6,166.0 L421.6,166.1 L422.6,166.5 L423.6,166.1 L424.6,166.2 L425.6,166.1 L426.6,166.7 L427.6,166.5 L428.6,166.2 L429.6,166.3 L430.6,166.1 L431.6,166.1 L432.6,166.5 L433.6,166.4 L434.6,166.6 L435.6,166.4 L436.6,166.2 L437.6,166.1 L438.6,165.9 L439.6,166.3 L440.6,166.1 L441.6,166.3 L442.6,166.2 L443.6,166.1 L444.6,166.1 L445.6,166.3 L446.6,166.3 L447.6,166.1 L448.6,166.3 L449.6,166.4 L450.6,165.9 L451.6,166.0 L452.6,165.9 L453.6,166.3 L454.6,166.1 L455.6,166.0 L456.6,165.9 L457.6,166.2 L458.6,166.4 L459.6,166.1 L460.6,165.9 L461.6,166.1 L462.6,165.7 L463.6,165.9 L464.6,165.9 L465.6,165.6 L466.6,165.6 L467.6,165.8 L468.6,165.8 L469.6,165.8 L470.6,165.9 L471.6,165.9 L472.6,165.6 L473.6,165.7 L474.6,166.0 L475.6,166.1 L476.6,166.0 L477.6,165.5 L478.6,165.9 L479.6,165.8 L480.6,165.7 L481.6,165.8 L482.6,166.0 L483.6,166.2 L484.6,165.6 L485.6,165.8 L486.6,165.8 L487.6,165.9 L488.6,166.2 L489.6,166.0 L490.0,165.5" fill="none" stroke="#800000" stroke-width="5.3" stroke-linejoin="round" />
<path d="M604.6,124.3 L605.6,124.5 L606.6,124.5 L607.6,124.6 L608.6,124.3 L609.6,124.3 L610.6,124.4 L611.6,124.5 L612.6,124.4 L613.6,124.5 L614.6,124.3 L615.6,124.3 L616.6,124.3 L617.6,124.4 L618.6,124.4 L619.6,124.3 L620.6,124.2 L621.6,124.4 L622.6,124.3 L623.6,124.5 L624.6,124.2 L625.6,124.3 L626.6,124.1 L627.6,124.1 L628.6,124.1 L629.6,124.0 L630.6,124.0 L631.6,124.0 L632.6,124.0 L633.6,123.9 L634.6,124.0 L635.6,123.9 L636.6,123.9 L637.6,124.0 L638.6,123.8 L639.6,123.8 L640.6,123.7 L641.6,123.7 L642.6,123.7 L643.6,123.4 L644.6,123.6 L645.6,123.6 L646.6,123.4 L647.6,123.2 L648.6,123.0 L649.6,123.0 L650.6,123.0 L651.6,122.9 L652.6,122.7 L653.6,122.6 L654.6,122.7 L655.6,122.3 L656.6,122.3 L657.6,122.2 L658.6,121.7 L659.6,121.8 L660.6,121.5 L661.6,121.3 L662.6,121.0 L663.6,120.9 L664.6,121.1 L665.6,120.8 L666.6,120.7 L667.6,120.3 L668.6,120.3 L669.6,120.1 L670.6,119.7 L671.6,119.5 L672.6,119.7 L673.6,119.5 L674.6,119.1 L675.6,119.1 L676.6,119.1 L677.6,119.1 L678.6,118.4 L679.6,118.5 L680.6,118.7 L681.6,118.1 L682.6,118.2 L683.6,117.2 L684.6,117.9 L685.6,117.4 L686.6,116.8 L687.6,117.3 L688.6,117.2 L689.6,117.0 L690.6,116.9 L691.6,116.4 L692.6,116.1 L693.6,116.0 L694.6,115.9 L695.6,115.9 L696.6,115.5 L697.6,115.4 L698.6,115.5 L699.6,115.2 L700.6,115.5 L701.6,115.3 L702.6,114.3 L703.6,114.2 L704.6,113.8 L705.6,113.7 L706.6,114.0 L707.6,113.4 L708.6,113.2 L709.6,113.2 L710.6,113.4 L711.6,112.8 L712.6,112.7 L713.6,112.9 L714.6,112.5 L715.6,112.3 L716.6,112.3 L717.6,111.5 L718.6,111.7 L719.6,111.2 L720.6,111.6 L721.6,111.3 L722.6,110.4 L723.6,111.0 L724.6,109.9 L725.6,110.5 L726.6,110.0 L727.6,109.4 L728.6,109.0 L729.6,109.1 L730.6,108.9 L731.6,108.4 L732.6,108.6 L733.6,107.7 L734.6,107.9 L735.6,107.7 L736.6,106.8 L737.6,107.3 L738.6,106.5 L739.6,105.8 L740.6,106.2 L741.6,106.1 L742.6,106.2 L743.6,105.5 L744.6,105.9 L745.6,105.7 L746.6,105.4 L747.6,105.3 L748.6,104.7 L749.6,104.3 L750.6,104.5 L751.6,104.5 L752.6,104.1 L753.6,103.8 L754.6,103.3 L755.6,104.0 L756.6,103.8 L757.6,103.2 L758.6,103.7 L759.6,103.9 L760.6,103.7 L761.6,104.0 L762.6,104.1 L763.6,103.4 L764.6,103.9 L765.6,104.3 L766.6,104.6 L767.6,105.0 L768.6,104.1 L769.6,104.9 L770.6,105.5 L771.6,105.9 L772.6,106.4 L773.6,105.8 L774.6,106.4 L775.6,106.6 L776.6,107.6 L777.6,107.3 L778.6,108.6 L779.6,109.0 L780.6,109.4 L781.6,108.9 L782.6,109.9 L783.6,110.9 L784.6,110.7 L785.6,111.6 L786.6,112.1 L787.6,112.9 L788.6,113.2 L789.6,113.7 L790.6,114.0 L791.6,114.5 L792.6,114.9 L793.6,115.6 L794.6,115.8 L795.6,116.5 L796.6,116.2 L797.6,117.3 L798.6,117.3 L799.6,117.9 L800.6,118.0 L801.6,118.5 L802.6,118.9 L803.6,118.7 L804.6,119.1 L805.6,119.4 L806.6,119.7 L807.6,119.6 L808.6,120.1 L809.6,120.3 L810.6,120.4 L811.6,120.7 L812.6,120.7 L813.6,121.4 L814.6,121.4 L815.6,121.8 L816.6,121.6 L817.6,121.7 L818.6,122.1 L819.6,122.0 L820.6,122.4 L821.6,122.4 L822.6,122.5 L823.6,122.7 L824.6,122.8 L825.6,123.1 L826.6,123.0 L827.6,122.9 L828.6,123.2 L829.6,123.0 L830.6,123.2 L831.6,123.1 L832.6,123.2 L833.6,123.4 L834.6,123.2 L835.6,123.3 L836.6,123.3 L837.6,123.3 L838.6,123.5 L839.6,123.3 L840.6,123.3 L841.6,123.5 L842.6,123.2 L843.6,123.4 L844.6,123.5 L845.6,123.4 L846.6,123.4 L847.6,123.4 L848.6,123.3 L849.6,123.4 L850.6,123.5 L851.6,123.6 L852.6,123.6 L853.6,123.4 L854.6,123.4 L855.6,123.5 L856.6,123.3 L857.6,123.4 L858.6,123.5 L859.6,123.4 L860.6,123.4 L861.6,123.5 L862.6,123.3 L863.6,123.4 L864.6,123.4 L865.6,123.5 L866.6,123.4 L867.6,123.6 L868.6,123.5 L869.6,123.5 L870.6,123.5 L871.6,123.5 L872.6,123.4 L873.6,123.7 L874.6,123.6 L875.6,123.5 L876.6,123.6 L877.6,123.5 L878.6,123.6 L879.6,123.5 L880.6,123.5 L881.6,123.6 L882.6,123.4 L883.6,123.6 L884.6,123.5 L885.6,123.6 L886.6,123.7 L887.6,123.6 L888.6,123.5 L889.6,123.6 L890.6,123.5 L891.6,123.4 L892.6,123.4 L893.6,123.6 L894.6,123.6 L895.6,123.4 L896.6,123.6 L897.6,123.6 L898.6,123.6 L899.6,123.5 L900.6,123.7 L901.6,123.4 L902.6,123.6 L903.6,123.7 L904.6,123.4 L905.5,123.6" fill="none" stroke="#ff0000" stroke-width="2.7" stroke-linejoin="round" />
<path d="M604.6,146.9 L605.6,146.9 L606.6,146.9 L607.6,146.9 L608.6,146.8 L609.6,146.9 L610.6,146.9 L611.6,146.8 L612.6,146.8 L613.6,146.8 L614.6,146.8 L615.6,146.8 L616.6,146.8 L617.6,146.8 L618.6,146.7 L619.6,146.6 L620.6,146.7 L621.6,146.7 L622.6,146.6 L623.6,146.6 L624.6,146.6 L625.6,146.6 L626.6,146.6 L627.6,146.6 L628.6,146.5 L629.6,146.5 L630.6,146.5 L631.6,146.4 L632.6,146.5 L633.6,146.4 L634.6,146.4 L635.6,146.3 L636.6,146.3 L637.6,146.2 L638.6,146.3 L639.6,146.1 L640.6,146.2 L641.6,146.2 L642.6,146.1 L643.6,146.1 L644.6,146.0 L645.6,146.1 L646.6,146.0 L647.6,145.9 L648.6,145.9 L649.6,145.8 L650.6,145.8 L651.6,145.7 L652.6,145.6 L653.6,145.6 L654.6,145.6 L655.6,145.5 L656.6,145.4 L657.6,145.4 L658.6,145.3 L659.6,145.3 L660.6,145.1 L661.6,145.1 L662.6,145.1 L663.6,145.0 L664.6,144.9 L665.6,144.9 L666.6,144.8 L667.6,144.7 L668.6,144.6 L669.6,144.5 L670.6,144.5 L671.6,144.3 L672.6,144.2 L673.6,144.3 L674.6,144.1 L675.6,144.1 L676.6,144.0 L677.6,143.9 L678.6,143.8 L679.6,143.7 L680.6,143.5 L681.6,143.6 L682.6,143.4 L683.6,143.3 L684.6,143.4 L685.6,143.1 L686.6,143.1 L687.6,142.9 L688.6,142.8 L689.6,142.7 L690.6,142.6 L691.6,142.4 L692.6,142.3 L693.6,142.2 L694.6,142.0 L695.6,141.9 L696.6,141.9 L697.6,141.6 L698.6,141.5 L699.6,141.3 L700.6,141.2 L701.6,141.1 L702.6,140.9 L703.6,140.8 L704.6,140.7 L705.6,140.4 L706.6,140.1 L707.6,140.1 L708.6,139.9 L709.6,139.8 L710.6,139.4 L711.6,139.5 L712.6,139.2 L713.6,139.0 L714.6,138.7 L715.6,138.6 L716.6,138.4 L717.6,138.3 L718.6,137.9 L719.6,137.6 L720.6,137.5 L721.6,137.2 L722.6,137.1 L723.6,136.7 L724.6,136.6 L725.6,136.3 L726.6,136.1 L727.6,135.7 L728.6,135.4 L729.6,135.2 L730.6,134.8 L731.6,134.6 L732.6,134.2 L733.6,133.6 L734.6,133.6 L735.6,133.4 L736.6,132.9 L737.6,132.6 L738.6,132.2 L739.6,131.7 L740.6,131.3 L741.6,131.2 L742.6,130.9 L743.6,130.5 L744.6,130.1 L745.6,129.8 L746.6,129.4 L747.6,129.2 L748.6,128.8 L749.6,128.6 L750.6,128.2 L751.6,127.9 L752.6,127.8 L753.6,127.5 L754.6,127.0 L755.6,127.1 L756.6,126.6 L757.6,126.9 L758.6,126.6 L759.6,126.5 L760.6,126.2 L761.6,126.1 L762.6,126.1 L763.6,126.1 L764.6,126.0 L765.6,126.2 L766.6,126.3 L767.6,126.4 L768.6,126.3 L769.6,126.3 L770.6,126.8 L771.6,126.9 L772.6,127.3 L773.6,127.7 L774.6,128.0 L775.6,128.1 L776.6,128.5 L777.6,129.0 L778.6,129.1 L779.6,129.6 L780.6,130.0 L781.6,130.4 L782.6,130.8 L783.6,131.2 L784.6,131.7 L785.6,132.2 L786.6,132.8 L787.6,133.2 L788.6,133.9 L789.6,134.4 L790.6,134.6 L791.6,135.4 L792.6,135.7 L793.6,136.4 L794.6,136.8 L795.6,137.3 L796.6,137.9 L797.6,138.3 L798.6,138.8 L799.6,139.3 L800.6,139.8 L801.6,140.3 L802.6,140.6 L803.6,141.2 L804.6,141.5 L805.6,142.0 L806.6,142.4 L807.6,142.8 L808.6,143.0 L809.6,143.5 L810.6,143.7 L811.6,144.0 L812.6,144.2 L813.6,144.5 L814.6,144.6 L815.6,144.9 L816.6,145.0 L817.6,145.2 L818.6,145.3 L819.6,145.5 L820.6,145.5 L821.6,145.6 L822.6,145.7 L823.6,145.7 L824.6,145.8 L825.6,145.9 L826.6,145.9 L827.6,146.0 L828.6,146.0 L829.6,146.0 L830.6,146.1 L831.6,146.1 L832.6,146.1 L833.6,146.2 L834.6,146.2 L835.6,146.2 L836.6,146.2 L837.6,146.2 L838.6,146.2 L839.6,146.2 L840.6,146.2 L841.6,146.2 L842.6,146.2 L843.6,146.3 L844.6,146.2 L845.6,146.2 L846.6,146.2 L847.6,146.3 L848.6,146.2 L849.6,146.2 L850.6,146.2 L851.6,146.2 L852.6,146.3 L853.6,146.3 L854.6,146.3 L855.6,146.2 L856.6,146.2 L857.6,146.2 L858.6,146.2 L859.6,146.2 L860.6,146.2 L861.6,146.2 L862.6,146.3 L863.6,146.3 L864.6,146.2 L865.6,146.2 L866.6,146.3 L867.6,146.3 L868.6,146.2 L869.6,146.2 L870.6,146.2 L871.6,146.2 L872.6,146.3 L873.6,146.2 L874.6,146.2 L875.6,146.2 L876.6,146.2 L877.6,146.2 L878.6,146.2 L879.6,146.2 L880.6,146.3 L881.6,146.2 L882.6,146.2 L883.6,146.2 L884.6,146.2 L885.6,146.2 L886.6,146.2 L887.6,146.2 L888.6,146.2 L889.6,146.3 L890.6,146.3 L891.6,146.2 L892.6,146.3 L893.6,146.2 L894.6,146.2 L895.6,146.2 L896.6,146.3 L897.6,146.2 L898.6,146.2 L899.6,146.2 L900.6,146.2 L901.6,146.2 L902.6,146.2 L903.6,146.2 L904.6,146.2 L905.5,146.2" fill="none" stroke="#00ff00" stroke-width="2.7" stroke-linejoin="round" />
<path d="M604.6,169.4 L605.6,169.3 L606.6,169.3 L607.6,169.3 L608.6,169.3 L609.6,169.3 L610.6,169.3 L611.6,169.3 L612.6,169.3 L613.6,169.3 L614.6,169.3 L615.6,169.3 L616.6,169.3 L617.6,169.2 L618.6,169.3 L619.6,169.2 L620.6,169.3 L621.6,169.3 L622.6,169.2 L623.6,169.2 L624.6,169.2 L625.6,169.2 L626.6,169.2 L627.6,169.2 L628.6,169.2 L629.6,169.1 L630.6,169.2 L631.6,169.1 L632.6,169.1 L633.6,169.1 L634.6,169.1 L635.6,169.1 L636.6,169.0 L637.6,169.1 L638.6,169.0 L639.6,169.0 L640.6,169.0 L641.6,168.9 L642.6,169.0 L643.6,168.9 L644.6,168.9 L645.6,168.9 L646.6,168.9 L647.6,168.9 L648.6,168.9 L649.6,168.8 L650.6,168.8 L651.6,168.8 L652.6,168.8 L653.6,168.8 L654.6,168.7 L655.6,168.7 L656.6,168.7 L657.6,168.6 L658.6,168.6 L659.6,168.6 L660.6,168.5 L661.6,168.5 L662.6,168.5 L663.6,168.5 L664.6,168.4 L665.6,168.4 L666.6,168.3 L667.6,168.4 L668.6,168.3 L669.6,168.3 L670.6,168.3 L671.6,168.2 L672.6,168.2 L673.6,168.2 L674.6,168.1 L675.6,168.1 L676.6,168.0 L677.6,168.1 L678.6,168.0 L679.6,167.9 L680.6,167.9 L681.6,168.0 L682.6,167.9 L683.6,167.8 L684.6,167.9 L685.6,167.8 L686.6,167.7 L687.6,167.7 L688.6,167.6 L689.6,167.6 L690.6,167.5 L691.6,167.4 L692.6,167.4 L693.6,167.3 L694.6,167.2 L695.6,167.1 L696.6,167.0 L697.6,167.0 L698.6,166.9 L699.6,166.8 L700.6,166.6 L701.6,166.5 L702.6,166.5 L703.6,166.3 L704.6,166.3 L705.6,166.1 L706.6,166.0 L707.6,165.8 L708.6,165.7 L709.6,165.6 L710.6,165.4 L711.6,165.2 L712.6,165.1 L713.6,165.0 L714.6,164.7 L715.6,164.7 L716.6,164.5 L717.6,164.3 L718.6,164.2 L719.6,164.1 L720.6,163.8 L721.6,163.6 L722.6,163.5 L723.6,163.3 L724.6,162.9 L725.6,162.7 L726.6,162.5 L727.6,162.2 L728.6,161.9 L729.6,161.8 L730.6,161.4 L731.6,161.1 L732.6,160.9 L733.6,160.4 L734.6,160.1 L735.6,159.7 L736.6,159.3 L737.6,159.0 L738.6,158.6 L739.6,158.2 L740.6,157.9 L741.6,157.3 L742.6,157.0 L743.6,156.4 L744.6,156.1 L745.6,155.7 L746.6,155.5 L747.6,155.0 L748.6,154.6 L749.6,154.4 L750.6,153.9 L751.6,153.5 L752.6,152.9 L753.6,152.5 L754.6,152.3 L755.6,151.9 L756.6,151.5 L757.6,151.2 L758.6,150.8 L759.6,150.8 L760.6,150.2 L761.6,150.0 L762.6,149.9 L763.6,149.4 L764.6,149.5 L765.6,149.3 L766.6,148.9 L767.6,148.7 L768.6,148.6 L769.6,148.3 L770.6,148.5 L771.6,148.3 L772.6,148.1 L773.6,148.0 L774.6,148.1 L775.6,148.2 L776.6,147.9 L777.6,148.0 L778.6,148.0 L779.6,148.3 L780.6,148.4 L781.6,148.8 L782.6,148.7 L783.6,148.9 L784.6,149.1 L785.6,149.5 L786.6,149.5 L787.6,150.1 L788.6,150.4 L789.6,150.7 L790.6,151.1 L791.6,151.7 L792.6,152.2 L793.6,152.4 L794.6,153.0 L795.6,153.7 L796.6,153.9 L797.6,154.5 L798.6,155.0 L799.6,155.6 L800.6,156.2 L801.6,156.8 L802.6,157.3 L803.6,157.9 L804.6,158.5 L805.6,159.1 L806.6,159.9 L807.6,160.4 L808.6,160.9 L809.6,161.6 L810.6,162.1 L811.6,162.5 L812.6,163.1 L813.6,163.6 L814.6,164.1 L815.6,164.4 L816.6,164.9 L817.6,165.2 L818.6,165.6 L819.6,165.8 L820.6,166.2 L821.6,166.5 L822.6,166.6 L823.6,167.0 L824.6,167.2 L825.6,167.2 L826.6,167.5 L827.6,167.6 L828.6,167.7 L829.6,167.8 L830.6,168.0 L831.6,168.1 L832.6,168.1 L833.6,168.3 L834.6,168.3 L835.6,168.4 L836.6,168.5 L837.6,168.4 L838.6,168.4 L839.6,168.5 L840.6,168.5 L841.6,168.6 L842.6,168.6 L843.6,168.6 L844.6,168.6 L845.6,168.6 L846.6,168.6 L847.6,168.6 L848.6,168.7 L849.6,168.7 L850.6,168.7 L851.6,168.7 L852.6,168.6 L853.6,168.7 L854.6,168.7 L855.6,168.7 L856.6,168.7 L857.6,168.6 L858.6,168.6 L859.6,168.7 L860.6,168.7 L861.6,168.6 L862.6,168.6 L863.6,168.6 L864.6,168.6 L865.6,168.7 L866.6,168.7 L867.6,168.6 L868.6,168.6 L869.6,168.7 L870.6,168.7 L871.6,168.6 L872.6,168.7 L873.6,168.6 L874.6,168.6 L875.6,168.7 L876.6,168.7 L877.6,168.7 L878.6,168.7 L879.6,168.6 L880.6,168.7 L881.6,168.7 L882.6,168.6 L883.6,168.6 L884.6,168.7 L885.6,168.7 L886.6,168.7 L887.6,168.7 L888.6,168.7 L889.6,168.6 L890.6,168.7 L891.6,168.7 L892.6,168.7 L893.6,168.6 L894.6,168.7 L895.6,168.6 L896.6,168.6 L897.6,168.7 L898.6,168.7 L899.6,168.7 L900.6,168.6 L901.6,168.7 L902.6,168.7 L903.6,168.6 L904.6,168.6 L905.5,168.7" fill="none" stroke="#0000ff" stroke-width="2.7" stroke-linejoin="round" />
<path d="M604.6,191.8 L605.6,191.8 L606.6,191.7 L607.6,191.7 L608.6,191.8 L609.6,191.8 L610.6,191.8 L611.6,191.7 L612.6,191.8 L613.6,191.7 L614.6,191.7 L615.6,191.7 L616.6,191.8 L617.6,191.7 L618.6,191.8 L619.6,191.8 L620.6,191.7 L621.6,191.8 L622.6,191.7 L623.6,191.7 L624.6,191.7 L625.6,191.8 L626.6,191.6 L627.6,191.7 L628.6,191.7 L629.6,191.7 L630.6,191.6 L631.6,191.7 L632.6,191.7 L633.6,191.7 L634.6,191.7 L635.6,191.6 L636.6,191.7 L637.6,191.7 L638.6,191.6 L639.6,191.6 L640.6,191.6 L641.6,191.6 L642.6,191.6 L643.6,191.6 L644.6,191.6 L645.6,191.5 L646.6,191.5 L647.6,191.6 L648.6,191.6 L649.6,191.5 L650.6,191.5 L651.6,191.5 L652.6,191.6 L653.6,191.5 L654.6,191.5 L655.6,191.5 L656.6,191.5 L657.6,191.5 L658.6,191.5 L659.6,191.5 L660.6,191.5 L661.6,191.4 L662.6,191.4 L663.6,191.4 L664.6,191.4 L665.6,191.4 L666.6,191.4 L667.6,191.4 L668.6,191.3 L669.6,191.4 L670.6,191.3 L671.6,191.3 L672.6,191.3 L673.6,191.3 L674.6,191.3 L675.6,191.2 L676.6,191.2 L677.6,191.2 L678.6,191.2 L679.6,191.1 L680.6,191.2 L681.6,191.1 L682.6,191.1 L683.6,191.1 L684.6,191.1 L685.6,191.0 L686.6,191.1 L687.6,191.1 L688.6,191.0 L689.6,191.0 L690.6,190.9 L691.6,190.8 L692.6,190.9 L693.6,190.8 L694.6,190.8 L695.6,190.7 L696.6,190.6 L697.6,190.6 L698.6,190.6 L699.6,190.5 L700.6,190.3 L701.6,190.3 L702.6,190.2 L703.6,190.2 L704.6,190.1 L705.6,190.0 L706.6,189.9 L707.6,189.8 L708.6,189.6 L709.6,189.6 L710.6,189.5 L711.6,189.3 L712.6,189.3 L713.6,189.1 L714.6,189.1 L715.6,189.0 L716.6,188.8 L717.6,188.8 L718.6,188.6 L719.6,188.5 L720.6,188.3 L721.6,188.2 L722.6,188.1 L723.6,188.0 L724.6,187.8 L725.6,187.7 L726.6,187.5 L727.6,187.3 L728.6,187.2 L729.6,186.9 L730.6,186.8 L731.6,186.6 L732.6,186.4 L733.6,186.1 L734.6,185.9 L735.6,185.7 L736.6,185.4 L737.6,185.2 L738.6,184.9 L739.6,184.5 L740.6,184.3 L741.6,184.0 L742.6,183.6 L743.6,183.1 L744.6,182.9 L745.6,182.5 L746.6,182.3 L747.6,181.7 L748.6,181.3 L749.6,180.8 L750.6,180.4 L751.6,179.9 L752.6,179.4 L753.6,179.0 L754.6,178.4 L755.6,178.2 L756.6,177.4 L757.6,177.1 L758.6,176.6 L759.6,176.0 L760.6,175.9 L761.6,175.1 L762.6,175.1 L763.6,174.3 L764.6,174.1 L765.6,174.0 L766.6,173.1 L767.6,172.9 L768.6,172.9 L769.6,172.5 L770.6,172.1 L771.6,171.9 L772.6,171.6 L773.6,171.5 L774.6,171.6 L775.6,171.2 L776.6,171.2 L777.6,171.3 L778.6,171.4 L779.6,171.1 L780.6,171.3 L781.6,171.4 L782.6,171.5 L783.6,171.7 L784.6,171.9 L785.6,172.1 L786.6,172.4 L787.6,172.9 L788.6,173.3 L789.6,173.9 L790.6,174.1 L791.6,174.6 L792.6,175.1 L793.6,175.7 L794.6,176.1 L795.6,176.7 L796.6,177.5 L797.6,177.8 L798.6,178.4 L799.6,178.9 L800.6,179.8 L801.6,180.3 L802.6,181.2 L803.6,181.6 L804.6,182.4 L805.6,183.0 L806.6,183.7 L807.6,184.1 L808.6,184.9 L809.6,185.4 L810.6,185.9 L811.6,186.4 L812.6,186.9 L813.6,187.3 L814.6,187.6 L815.6,188.2 L816.6,188.5 L817.6,188.8 L818.6,189.1 L819.6,189.5 L820.6,189.7 L821.6,189.8 L822.6,190.1 L823.6,190.2 L824.6,190.3 L825.6,190.4 L826.6,190.5 L827.6,190.7 L828.6,190.7 L829.6,190.7 L830.6,190.8 L831.6,190.9 L832.6,190.9 L833.6,190.9 L834.6,190.9 L835.6,191.0 L836.6,191.0 L837.6,191.0 L838.6,191.1 L839.6,191.1 L840.6,191.0 L841.6,191.1 L842.6,191.1 L843.6,191.1 L844.6,191.1 L845.6,191.1 L846.6,191.1 L847.6,191.1 L848.6,191.1 L849.6,191.1 L850.6,191.1 L851.6,191.1 L852.6,191.1 L853.6,191.1 L854.6,191.2 L855.6,191.1 L856.6,191.1 L857.6,191.1 L858.6,191.1 L859.6,191.2 L860.6,191.1 L861.6,191.1 L862.6,191.1 L863.6,191.1 L864.6,191.1 L865.6,191.1 L866.6,191.1 L867.6,191.1 L868.6,191.2 L869.6,191.1 L870.6,191.1 L871.6,191.1 L872.6,191.1 L873.6,191.1 L874.6,191.1 L875.6,191.1 L876.6,191.1 L877.6,191.1 L878.6,191.1 L879.6,191.1 L880.6,191.1 L881.6,191.1 L882.6,191.1 L883.6,191.1 L884.6,191.1 L885.6,191.1 L886.6,191.0 L887.6,191.1 L888.6,191.0 L889.6,191.1 L890.6,191.1 L891.6,191.1 L892.6,191.1 L893.6,191.1 L894.6,191.2 L895.6,191.1 L896.6,191.1 L897.6,191.1 L898.6,191.1 L899.6,191.1 L900.6,191.0 L901.6,191.1 L902.6,191.2 L903.6,191.1 L904.6,191.1 L905.5,191.1" fill="none" stroke="#00ffff" stroke-width="3.1" stroke-linejoin="round" />
<path d="M604.6,214.2 L605.6,214.2 L606.6,214.2 L607.6,214.2 L608.6,214.2 L609.6,214.2 L610.6,214.2 L611.6,214.2 L612.6,214.1 L613.6,214.2 L614.6,214.1 L615.6,214.2 L616.6,214.2 L617.6,214.2 L618.6,214.2 L619.6,214.1 L620.6,214.2 L621.6,214.1 L622.6,214.1 L623.6,214.2 L624.6,214.1 L625.6,214.1 L626.6,214.1 L627.6,214.1 L628.6,214.1 L629.6,214.1 L630.6,214.1 L631.6,214.1 L632.6,214.1 L633.6,214.1 L634.6,214.0 L635.6,214.0 L636.6,214.0 L637.6,214.0 L638.6,214.0 L639.6,214.0 L640.6,214.0 L641.6,214.0 L642.6,214.0 L643.6,214.0 L644.6,214.0 L645.6,214.0 L646.6,214.0 L647.6,213.9 L648.6,213.9 L649.6,213.9 L650.6,213.9 L651.6,213.9 L652.6,213.9 L653.6,213.8 L654.6,213.8 L655.6,213.9 L656.6,213.8 L657.6,213.8 L658.6,213.8 L659.6,213.8 L660.6,213.8 L661.6,213.7 L662.6,213.7 L663.6,213.7 L664.6,213.7 L665.6,213.7 L666.6,213.6 L667.6,213.7 L668.6,213.7 L669.6,213.6 L670.6,213.6 L671.6,213.6 L672.6,213.6 L673.6,213.6 L674.6,213.6 L675.6,213.5 L676.6,213.5 L677.6,213.5 L678.6,213.5 L679.6,213.4 L680.6,213.4 L681.6,213.4 L682.6,213.3 L683.6,213.3 L684.6,213.3 L685.6,213.3 L686.6,213.3 L687.6,213.2 L688.6,213.2 L689.6,213.2 L690.6,213.2 L691.6,213.1 L692.6,213.0 L693.6,213.0 L694.6,213.0 L695.6,213.0 L696.6,212.8 L697.6,212.8 L698.6,212.7 L699.6,212.7 L700.6,212.7 L701.6,212.6 L702.6,212.6 L703.6,212.5 L704.6,212.4 L705.6,212.3 L706.6,212.3 L707.6,212.1 L708.6,212.1 L709.6,211.9 L710.6,211.9 L711.6,211.8 L712.6,211.7 L713.6,211.6 L714.6,211.5 L715.6,211.4 L716.6,211.4 L717.6,211.3 L718.6,211.2 L719.6,211.1 L720.6,210.8 L721.6,210.8 L722.6,210.7 L723.6,210.6 L724.6,210.3 L725.6,210.2 L726.6,210.1 L727.6,209.9 L728.6,209.7 L729.6,209.6 L730.6,209.4 L731.6,209.1 L732.6,209.0 L733.6,208.8 L734.6,208.6 L735.6,208.4 L736.6,208.1 L737.6,207.8 L738.6,207.5 L739.6,207.1 L740.6,206.9 L741.6,206.7 L742.6,206.3 L743.6,206.1 L744.6,205.5 L745.6,205.0 L746.6,204.9 L747.6,204.5 L748.6,203.8 L749.6,203.4 L750.6,203.1 L751.6,202.7 L752.6,202.0 L753.6,201.6 L754.6,201.1 L755.6,200.6 L756.6,200.1 L757.6,199.8 L758.6,199.3 L759.6,198.8 L760.6,198.1 L761.6,198.2 L762.6,197.5 L763.6,197.2 L764.6,196.6 L765.6,196.4 L766.6,195.9 L767.6,195.7 L768.6,195.3 L769.6,195.1 L770.6,194.6 L771.6,194.4 L772.6,194.2 L773.6,194.2 L774.6,193.6 L775.6,193.6 L776.6,193.3 L777.6,193.3 L778.6,193.2 L779.6,193.1 L780.6,193.1 L781.6,193.1 L782.6,193.1 L783.6,193.2 L784.6,193.2 L785.6,193.5 L786.6,193.7 L787.6,194.0 L788.6,194.4 L789.6,194.7 L790.6,195.0 L791.6,195.5 L792.6,195.5 L793.6,196.3 L794.6,196.7 L795.6,197.2 L796.6,197.6 L797.6,198.3 L798.6,199.0 L799.6,199.5 L800.6,200.0 L801.6,200.7 L802.6,201.4 L803.6,202.1 L804.6,202.7 L805.6,203.3 L806.6,203.9 L807.6,204.5 L808.6,205.2 L809.6,205.7 L810.6,206.5 L811.6,206.9 L812.6,207.5 L813.6,208.1 L814.6,208.6 L815.6,209.1 L816.6,209.5 L817.6,210.1 L818.6,210.5 L819.6,210.9 L820.6,211.3 L821.6,211.6 L822.6,211.8 L823.6,212.2 L824.6,212.3 L825.6,212.6 L826.6,212.8 L827.6,212.9 L828.6,213.1 L829.6,213.2 L830.6,213.4 L831.6,213.4 L832.6,213.5 L833.6,213.7 L834.6,213.7 L835.6,213.7 L836.6,213.8 L837.6,213.8 L838.6,214.0 L839.6,213.9 L840.6,213.9 L841.6,213.9 L842.6,213.9 L843.6,214.0 L844.6,214.0 L845.6,214.0 L846.6,214.0 L847.6,213.9 L848.6,213.9 L849.6,214.0 L850.6,214.0 L851.6,214.0 L852.6,214.0 L853.6,214.0 L854.6,214.0 L855.6,213.9 L856.6,214.0 L857.6,213.9 L858.6,214.0 L859.6,213.9 L860.6,214.0 L861.6,214.0 L862.6,213.9 L863.6,214.0 L864.6,214.0 L865.6,213.9 L866.6,213.9 L867.6,214.0 L868.6,214.0 L869.6,214.0 L870.6,213.9 L871.6,213.9 L872.6,214.0 L873.6,213.9 L874.6,214.0 L875.6,213.9 L876.6,213.9 L877.6,213.9 L878.6,214.0 L879.6,213.9 L880.6,213.9 L881.6,213.9 L882.6,213.9 L883.6,214.0 L884.6,213.9 L885.6,213.9 L886.6,213.9 L887.6,213.8 L888.6,213.8 L889.6,213.9 L890.6,213.9 L891.6,213.8 L892.6,213.8 L893.6,213.8 L894.6,213.9 L895.6,213.8 L896.6,213.8 L897.6,213.8 L898.6,213.8 L899.6,213.8 L900.6,213.8 L901.6,213.7 L902.6,213.8 L903.6,213.8 L904.6,213.8 L905.5,213.8" fill="none" stroke="#ff00ff" stroke-width="2.7" stroke-linejoin="round" />
<path d="M604.6,236.6 L605.6,236.7 L606.6,236.6 L607.6,236.6 L608.6,236.6 L609.6,236.6 L610.6,236.6 L611.6,236.6 L612.6,236.6 L613.6,236.6 L614.6,236.6 L615.6,236.6 L616.6,236.6 L617.6,236.6 L618.6,236.6 L619.6,236.6 L620.6,236.6 L621.6,236.5 L622.6,236.6 L623.6,236.6 L624.6,236.6 L625.6,236.6 L626.6,236.6 L627.6,236.6 L628.6,236.6 L629.6,236.6 L630.6,236.6 L631.6,236.6 L632.6,236.6 L633.6,236.6 L634.6,236.6 L635.6,236.6 L636.6,236.5 L637.6,236.5 L638.6,236.5 L639.6,236.5 L640.6,236.5 L641.6,236.5 L642.6,236.5 L643.6,236.5 L644.6,236.5 L645.6,236.6 L646.6,236.5 L647.6,236.5 L648.6,236.5 L649.6,236.5 L650.6,236.5 L651.6,236.5 L652.6,236.5 L653.6,236.4 L654.6,236.4 L655.6,236.5 L656.6,236.5 L657.6,236.4 L658.6,236.4 L659.6,236.4 L660.6,236.4 L661.6,236.4 L662.6,236.4 L663.6,236.4 L664.6,236.3 L665.6,236.4 L666.6,236.4 L667.6,236.3 L668.6,236.4 L669.6,236.3 L670.6,236.3 L671.6,236.3 L672.6,236.3 L673.6,236.3 L674.6,236.3 L675.6,236.3 L676.6,236.3 L677.6,236.3 L678.6,236.2 L679.6,236.2 L680.6,236.2 L681.6,236.2 L682.6,236.2 L683.6,236.2 L684.6,236.2 L685.6,236.2 L686.6,236.1 L687.6,236.1 L688.6,236.1 L689.6,236.1 L690.6,236.1 L691.6,236.0 L692.6,235.9 L693.6,236.0 L694.6,235.9 L695.6,235.9 L696.6,235.8 L697.6,235.8 L698.6,235.7 L699.6,235.7 L700.6,235.6 L701.6,235.5 L702.6,235.6 L703.6,235.5 L704.6,235.3 L705.6,235.3 L706.6,235.3 L707.6,235.1 L708.6,235.1 L709.6,235.1 L710.6,234.9 L711.6,234.8 L712.6,234.7 L713.6,234.7 L714.6,234.5 L715.6,234.4 L716.6,234.3 L717.6,234.3 L718.6,234.2 L719.6,234.1 L720.6,234.0 L721.6,233.9 L722.6,233.8 L723.6,233.6 L724.6,233.5 L725.6,233.5 L726.6,233.3 L727.6,233.1 L728.6,233.0 L729.6,232.8 L730.6,232.6 L731.6,232.5 L732.6,232.2 L733.6,232.0 L734.6,232.0 L735.6,231.5 L736.6,231.4 L737.6,231.0 L738.6,230.8 L739.6,230.6 L740.6,230.3 L741.6,230.0 L742.6,229.6 L743.6,229.3 L744.6,228.9 L745.6,228.6 L746.6,228.1 L747.6,227.8 L748.6,227.2 L749.6,226.9 L750.6,226.3 L751.6,225.8 L752.6,225.4 L753.6,224.8 L754.6,224.0 L755.6,223.8 L756.6,222.8 L757.6,222.7 L758.6,222.1 L759.6,221.5 L760.6,221.1 L761.6,220.6 L762.6,220.4 L763.6,219.7 L764.6,219.5 L765.6,219.1 L766.6,218.4 L767.6,218.0 L768.6,217.9 L769.6,217.4 L770.6,217.1 L771.6,216.8 L772.6,216.4 L773.6,216.3 L774.6,216.0 L775.6,215.7 L776.6,215.7 L777.6,215.9 L778.6,215.8 L779.6,215.5 L780.6,215.5 L781.6,215.6 L782.6,215.8 L783.6,215.8 L784.6,215.8 L785.6,216.0 L786.6,216.4 L787.6,216.8 L788.6,216.7 L789.6,216.9 L790.6,217.5 L791.6,217.8 L792.6,218.2 L793.6,218.8 L794.6,219.1 L795.6,219.3 L796.6,219.8 L797.6,220.5 L798.6,220.9 L799.6,221.6 L800.6,222.0 L801.6,222.6 L802.6,223.1 L803.6,223.8 L804.6,224.4 L805.6,225.1 L806.6,225.8 L807.6,226.2 L808.6,226.8 L809.6,227.6 L810.6,228.1 L811.6,228.7 L812.6,229.2 L813.6,229.8 L814.6,230.3 L815.6,230.8 L816.6,231.3 L817.6,231.7 L818.6,232.1 L819.6,232.6 L820.6,233.0 L821.6,233.4 L822.6,233.7 L823.6,234.0 L824.6,234.3 L825.6,234.5 L826.6,234.8 L827.6,235.0 L828.6,235.2 L829.6,235.4 L830.6,235.5 L831.6,235.7 L832.6,235.7 L833.6,235.8 L834.6,236.0 L835.6,236.1 L836.6,236.1 L837.6,236.2 L838.6,236.2 L839.6,236.2 L840.6,236.3 L841.6,236.3 L842.6,236.3 L843.6,236.4 L844.6,236.4 L845.6,236.4 L846.6,236.4 L847.6,236.4 L848.6,236.3 L849.6,236.4 L850.6,236.4 L851.6,236.4 L852.6,236.4 L853.6,236.4 L854.6,236.4 L855.6,236.4 L856.6,236.4 L857.6,236.3 L858.6,236.4 L859.6,236.3 L860.6,236.4 L861.6,236.3 L862.6,236.4 L863.6,236.3 L864.6,236.4 L865.6,236.4 L866.6,236.4 L867.6,236.4 L868.6,236.4 L869.6,236.4 L870.6,236.4 L871.6,236.4 L872.6,236.4 L873.6,236.4 L874.6,236.4 L875.6,236.4 L876.6,236.4 L877.6,236.4 L878.6,236.3 L879.6,236.3 L880.6,236.3 L881.6,236.3 L882.6,236.3 L883.6,236.4 L884.6,236.3 L885.6,236.4 L886.6,236.3 L887.6,236.3 L888.6,236.3 L889.6,236.2 L890.6,236.3 L891.6,236.3 L892.6,236.2 L893.6,236.3 L894.6,236.2 L895.6,236.2 L896.6,236.3 L897.6,236.2 L898.6,236.2 L899.6,236.2 L900.6,236.2 L901.6,236.2 L902.6,236.3 L903.6,236.2 L904.6,236.2 L905.5,236.2" fill="none" stroke="#ffff00" stroke-width="3.1" stroke-linejoin="round" />
<path d="M604.6,259.0 L605.6,259.1 L606.6,259.1 L607.6,259.1 L608.6,259.1 L609.6,259.0 L610.6,259.1 L611.6,259.0 L612.6,259.1 L613.6,259.1 L614.6,259.1 L615.6,259.0 L616.6,259.0 L617.6,259.0 L618.6,259.0 L619.6,259.0 L620.6,259.0 L621.6,259.1 L622.6,259.1 L623.6,259.0 L624.6,259.0 L625.6,259.0 L626.6,259.1 L627.6,259.1 L628.6,259.0 L629.6,259.1 L630.6,259.1 L631.6,259.1 L632.6,259.0 L633.6,259.0 L634.6,259.0 L635.6,259.0 L636.6,259.0 L637.6,259.0 L638.6,259.0 L639.6,259.0 L640.6,259.0 L641.6,259.0 L642.6,259.0 L643.6,259.0 L644.6,259.0 L645.6,259.0 L646.6,259.0 L647.6,258.9 L648.6,259.0 L649.6,259.0 L650.6,259.0 L651.6,259.0 L652.6,259.0 L653.6,259.0 L654.6,259.1 L655.6,259.0 L656.6,259.0 L657.6,259.0 L658.6,259.0 L659.6,259.0 L660.6,259.0 L661.6,259.0 L662.6,259.0 L663.6,259.0 L664.6,259.0 L665.6,259.0 L666.6,259.0 L667.6,258.9 L668.6,258.9 L669.6,258.9 L670.6,259.0 L671.6,259.0 L672.6,259.0 L673.6,258.9 L674.6,258.9 L675.6,259.0 L676.6,259.0 L677.6,258.9 L678.6,258.9 L679.6,259.0 L680.6,258.9 L681.6,258.9 L682.6,258.9 L683.6,259.0 L684.6,258.9 L685.6,258.9 L686.6,258.9 L687.6,258.9 L688.6,258.9 L689.6,258.9 L690.6,258.9 L691.6,258.8 L692.6,258.9 L693.6,258.9 L694.6,258.9 L695.6,258.8 L696.6,258.9 L697.6,258.9 L698.6,258.8 L699.6,258.8 L700.6,258.8 L701.6,258.8 L702.6,258.8 L703.6,258.7 L704.6,258.8 L705.6,258.7 L706.6,258.7 L707.6,258.7 L708.6,258.6 L709.6,258.6 L710.6,258.6 L711.6,258.5 L712.6,258.5 L713.6,258.5 L714.6,258.4 L715.6,258.4 L716.6,258.3 L717.6,258.3 L718.6,258.1 L719.6,258.1 L720.6,258.0 L721.6,258.0 L722.6,258.0 L723.6,257.9 L724.6,257.9 L725.6,257.7 L726.6,257.6 L727.6,257.6 L728.6,257.5 L729.6,257.3 L730.6,257.2 L731.6,257.1 L732.6,256.9 L733.6,256.8 L734.6,256.6 L735.6,256.4 L736.6,256.2 L737.6,256.0 L738.6,255.7 L739.6,255.4 L740.6,255.2 L741.6,254.8 L742.6,254.5 L743.6,254.1 L744.6,253.8 L745.6,253.4 L746.6,252.9 L747.6,252.3 L748.6,251.8 L749.6,251.3 L750.6,251.0 L751.6,250.1 L752.6,249.6 L753.6,249.1 L754.6,248.2 L755.6,247.6 L756.6,247.0 L757.6,246.3 L758.6,245.6 L759.6,245.1 L760.6,244.6 L761.6,244.0 L762.6,243.3 L763.6,242.7 L764.6,242.0 L765.6,241.7 L766.6,241.2 L767.6,240.6 L768.6,240.3 L769.6,239.9 L770.6,239.5 L771.6,239.1 L772.6,238.8 L773.6,238.5 L774.6,238.5 L775.6,238.3 L776.6,238.1 L777.6,238.0 L778.6,237.8 L779.6,238.1 L780.6,237.6 L781.6,238.0 L782.6,238.0 L783.6,238.0 L784.6,238.1 L785.6,238.2 L786.6,238.3 L787.6,238.4 L788.6,238.8 L789.6,238.8 L790.6,239.3 L791.6,239.6 L792.6,239.3 L793.6,239.8 L794.6,240.3 L795.6,240.6 L796.6,240.8 L797.6,241.2 L798.6,241.5 L799.6,241.8 L800.6,242.3 L801.6,242.4 L802.6,242.9 L803.6,242.9 L804.6,243.5 L805.6,243.8 L806.6,244.5 L807.6,245.1 L808.6,245.3 L809.6,245.6 L810.6,246.2 L811.6,246.7 L812.6,247.3 L813.6,247.9 L814.6,248.4 L815.6,248.6 L816.6,249.6 L817.6,250.0 L818.6,250.5 L819.6,251.2 L820.6,251.6 L821.6,252.1 L822.6,252.6 L823.6,253.2 L824.6,253.7 L825.6,254.2 L826.6,254.5 L827.6,254.9 L828.6,255.4 L829.6,255.6 L830.6,256.1 L831.6,256.3 L832.6,256.6 L833.6,256.8 L834.6,257.0 L835.6,257.2 L836.6,257.4 L837.6,257.5 L838.6,257.6 L839.6,257.8 L840.6,257.9 L841.6,258.0 L842.6,258.0 L843.6,258.1 L844.6,258.2 L845.6,258.2 L846.6,258.2 L847.6,258.2 L848.6,258.3 L849.6,258.3 L850.6,258.3 L851.6,258.3 L852.6,258.3 L853.6,258.4 L854.6,258.4 L855.6,258.3 L856.6,258.3 L857.6,258.3 L858.6,258.4 L859.6,258.4 L860.6,258.4 L861.6,258.4 L862.6,258.4 L863.6,258.4 L864.6,258.4 L865.6,258.3 L866.6,258.3 L867.6,258.3 L868.6,258.4 L869.6,258.4 L870.6,258.3 L871.6,258.4 L872.6,258.4 L873.6,258.3 L874.6,258.3 L875.6,258.3 L876.6,258.3 L877.6,258.3 L878.6,258.3 L879.6,258.3 L880.6,258.3 L881.6,258.3 L882.6,258.3 L883.6,258.3 L884.6,258.2 L885.6,258.3 L886.6,258.3 L887.6,258.2 L888.6,258.2 L889.6,258.2 L890.6,258.2 L891.6,258.2 L892.6,258.2 L893.6,258.2 L894.6,258.1 L895.6,258.2 L896.6,258.1 L897.6,258.1 L898.6,258.1 L899.6,258.1 L900.6,258.1 L901.6,258.0 L902.6,258.0 L903.6,258.0 L904.6,258.0 L905.5,257.9" fill="none" stroke="#808000" stroke-width="2.7" stroke-linejoin="round" />
<path d="M604.6,281.5 L605.6,281.5 L606.6,281.5 L607.6,281.4 L608.6,281.5 L609.6,281.5 L610.6,281.6 L611.6,281.4 L612.6,281.4 L613.6,281.5 L614.6,281.5 L615.6,281.4 L616.6,281.5 L617.6,281.5 L618.6,281.4 L619.6,281.5 L620.6,281.5 L621.6,281.4 L622.6,281.5 L623.6,281.5 L624.6,281.4 L625.6,281.5 L626.6,281.5 L627.6,281.4 L628.6,281.5 L629.6,281.5 L630.6,281.5 L631.6,281.5 L632.6,281.5 L633.6,281.5 L634.6,281.5 L635.6,281.5 L636.6,281.5 L637.6,281.5 L638.6,281.4 L639.6,281.4 L640.6,281.4 L641.6,281.5 L642.6,281.5 L643.6,281.5 L644.6,281.4 L645.6,281.5 L646.6,281.4 L647.6,281.4 L648.6,281.4 L649.6,281.4 L650.6,281.4 L651.6,281.4 L652.6,281.4 L653.6,281.4 L654.6,281.5 L655.6,281.4 L656.6,281.4 L657.6,281.4 L658.6,281.4 L659.6,281.4 L660.6,281.4 L661.6,281.5 L662.6,281.4 L663.6,281.4 L664.6,281.4 L665.6,281.4 L666.6,281.4 L667.6,281.4 L668.6,281.4 L669.6,281.3 L670.6,281.4 L671.6,281.3 L672.6,281.4 L673.6,281.3 L674.6,281.4 L675.6,281.4 L676.6,281.4 L677.6,281.3 L678.6,281.4 L679.6,281.4 L680.6,281.3 L681.6,281.4 L682.6,281.4 L683.6,281.3 L684.6,281.4 L685.6,281.3 L686.6,281.3 L687.6,281.4 L688.6,281.4 L689.6,281.4 L690.6,281.3 L691.6,281.4 L692.6,281.3 L693.6,281.3 L694.6,281.3 L695.6,281.3 L696.6,281.3 L697.6,281.3 L698.6,281.3 L699.6,281.2 L700.6,281.3 L701.6,281.2 L702.6,281.2 L703.6,281.1 L704.6,281.2 L705.6,281.2 L706.6,281.1 L707.6,281.0 L708.6,281.0 L709.6,281.0 L710.6,280.9 L711.6,280.9 L712.6,280.9 L713.6,280.8 L714.6,280.7 L715.6,280.7 L716.6,280.6 L717.6,280.5 L718.6,280.4 L719.6,280.3 L720.6,280.2 L721.6,280.2 L722.6,280.0 L723.6,279.9 L724.6,279.8 L725.6,279.7 L726.6,279.6 L727.6,279.4 L728.6,279.3 L729.6,279.2 L730.6,278.9 L731.6,278.8 L732.6,278.5 L733.6,278.3 L734.6,278.1 L735.6,277.8 L736.6,277.4 L737.6,277.1 L738.6,276.6 L739.6,276.3 L740.6,275.9 L741.6,275.4 L742.6,275.0 L743.6,274.3 L744.6,273.7 L745.6,272.9 L746.6,272.4 L747.6,271.7 L748.6,271.0 L749.6,270.2 L750.6,269.5 L751.6,268.9 L752.6,267.9 L753.6,267.3 L754.6,266.7 L755.6,265.8 L756.6,265.1 L757.6,264.7 L758.6,264.1 L759.6,263.6 L760.6,263.1 L761.6,262.5 L762.6,262.3 L763.6,262.0 L764.6,261.6 L765.6,261.3 L766.6,261.0 L767.6,261.0 L768.6,261.0 L769.6,260.5 L770.6,260.6 L771.6,260.5 L772.6,260.3 L773.6,260.3 L774.6,260.2 L775.6,260.3 L776.6,260.4 L777.6,260.5 L778.6,260.5 L779.6,260.7 L780.6,260.8 L781.6,260.8 L782.6,261.3 L783.6,261.4 L784.6,261.4 L785.6,262.0 L786.6,262.1 L787.6,262.3 L788.6,262.8 L789.6,262.6 L790.6,263.0 L791.6,263.6 L792.6,263.9 L793.6,264.1 L794.6,264.8 L795.6,265.0 L796.6,265.2 L797.6,265.7 L798.6,266.3 L799.6,266.8 L800.6,266.8 L801.6,267.5 L802.6,267.9 L803.6,268.2 L804.6,268.9 L805.6,269.2 L806.6,269.8 L807.6,270.5 L808.6,270.9 L809.6,271.5 L810.6,271.9 L811.6,272.4 L812.6,273.0 L813.6,273.3 L814.6,273.9 L815.6,274.4 L816.6,274.8 L817.6,275.3 L818.6,275.8 L819.6,276.2 L820.6,276.5 L821.6,276.9 L822.6,277.3 L823.6,277.6 L824.6,277.9 L825.6,278.3 L826.6,278.5 L827.6,278.8 L828.6,279.1 L829.6,279.3 L830.6,279.4 L831.6,279.6 L832.6,279.8 L833.6,279.9 L834.6,280.0 L835.6,280.1 L836.6,280.2 L837.6,280.3 L838.6,280.4 L839.6,280.5 L840.6,280.5 L841.6,280.6 L842.6,280.7 L843.6,280.6 L844.6,280.8 L845.6,280.8 L846.6,280.8 L847.6,280.8 L848.6,280.9 L849.6,280.8 L850.6,280.9 L851.6,281.0 L852.6,280.9 L853.6,281.0 L854.6,280.9 L855.6,281.0 L856.6,281.0 L857.6,281.0 L858.6,281.0 L859.6,281.0 L860.6,281.0 L861.6,281.0 L862.6,281.0 L863.6,281.1 L864.6,281.0 L865.6,281.1 L866.6,281.0 L867.6,281.1 L868.6,281.0 L869.6,281.0 L870.6,281.0 L871.6,281.0 L872.6,281.0 L873.6,281.0 L874.6,281.0 L875.6,281.0 L876.6,281.0 L877.6,281.0 L878.6,281.0 L879.6,281.0 L880.6,281.0 L881.6,281.0 L882.6,281.0 L883.6,281.0 L884.6,281.0 L885.6,281.0 L886.6,281.0 L887.6,281.0 L888.6,280.9 L889.6,281.0 L890.6,281.0 L891.6,280.9 L892.6,280.9 L893.6,280.9 L894.6,280.9 L895.6,280.9 L896.6,280.9 L897.6,280.9 L898.6,280.9 L899.6,280.8 L900.6,280.9 L901.6,280.8 L902.6,280.7 L903.6,280.8 L904.6,280.9 L905.5,280.8" fill="none" stroke="#000080" stroke-width="2.7" stroke-linejoin="round" />
<path d="M604.6,304.0 L605.6,303.9 L606.6,303.9 L607.6,303.9 L608.6,303.9 L609.6,304.0 L610.6,303.9 L611.6,303.9 L612.6,303.9 L613.6,303.9 L614.6,303.9 L615.6,303.9 L616.6,303.9 L617.6,303.9 L618.6,303.9 L619.6,304.0 L620.6,303.9 L621.6,303.9 L622.6,304.0 L623.6,303.9 L624.6,303.9 L625.6,303.9 L626.6,303.9 L627.6,303.9 L628.6,303.8 L629.6,303.9 L630.6,303.8 L631.6,304.0 L632.6,303.9 L633.6,303.9 L634.6,303.9 L635.6,303.9 L636.6,303.9 L637.6,303.9 L638.6,303.9 L639.6,303.8 L640.6,303.9 L641.6,303.9 L642.6,303.9 L643.6,303.9 L644.6,303.9 L645.6,303.9 L646.6,303.9 L647.6,303.9 L648.6,303.9 L649.6,303.9 L650.6,303.9 L651.6,303.9 L652.6,303.8 L653.6,303.8 L654.6,303.8 L655.6,303.9 L656.6,303.9 L657.6,303.9 L658.6,303.9 L659.6,303.9 L660.6,303.9 L661.6,303.9 L662.6,303.9 L663.6,303.8 L664.6,303.8 L665.6,303.8 L666.6,303.9 L667.6,303.8 L668.6,303.9 L669.6,303.8 L670.6,303.8 L671.6,303.8 L672.6,303.8 L673.6,303.8 L674.6,303.8 L675.6,303.8 L676.6,303.8 L677.6,303.8 L678.6,303.8 L679.6,303.8 L680.6,303.8 L681.6,303.8 L682.6,303.7 L683.6,303.8 L684.6,303.7 L685.6,303.7 L686.6,303.8 L687.6,303.8 L688.6,303.7 L689.6,303.7 L690.6,303.7 L691.6,303.7 L692.6,303.8 L693.6,303.7 L694.6,303.8 L695.6,303.7 L696.6,303.8 L697.6,303.7 L698.6,303.7 L699.6,303.7 L700.6,303.7 L701.6,303.7 L702.6,303.6 L703.6,303.6 L704.6,303.6 L705.6,303.6 L706.6,303.6 L707.6,303.6 L708.6,303.4 L709.6,303.5 L710.6,303.4 L711.6,303.4 L712.6,303.4 L713.6,303.3 L714.6,303.2 L715.6,303.2 L716.6,303.2 L717.6,303.2 L718.6,303.1 L719.6,303.0 L720.6,303.0 L721.6,302.8 L722.6,302.7 L723.6,302.6 L724.6,302.6 L725.6,302.5 L726.6,302.4 L727.6,302.2 L728.6,302.0 L729.6,301.9 L730.6,301.7 L731.6,301.6 L732.6,301.4 L733.6,301.0 L734.6,300.7 L735.6,300.6 L736.6,300.1 L737.6,299.9 L738.6,299.4 L739.6,299.1 L740.6,298.6 L741.6,298.1 L742.6,297.6 L743.6,297.0 L744.6,296.4 L745.6,295.9 L746.6,295.3 L747.6,294.5 L748.6,293.8 L749.6,293.2 L750.6,292.6 L751.6,292.0 L752.6,291.3 L753.6,290.8 L754.6,290.1 L755.6,289.6 L756.6,289.0 L757.6,288.5 L758.6,287.8 L759.6,287.7 L760.6,287.1 L761.6,286.7 L762.6,286.3 L763.6,285.9 L764.6,285.5 L765.6,285.1 L766.6,284.8 L767.6,284.3 L768.6,284.3 L769.6,284.0 L770.6,283.7 L771.6,283.9 L772.6,283.2 L773.6,283.2 L774.6,283.2 L775.6,283.1 L776.6,283.1 L777.6,282.7 L778.6,282.7 L779.6,282.9 L780.6,282.8 L781.6,283.1 L782.6,283.0 L783.6,283.1 L784.6,283.2 L785.6,283.3 L786.6,283.5 L787.6,283.6 L788.6,283.9 L789.6,284.0 L790.6,284.3 L791.6,284.4 L792.6,284.6 L793.6,285.2 L794.6,285.4 L795.6,285.6 L796.6,286.0 L797.6,286.3 L798.6,287.0 L799.6,287.0 L800.6,287.8 L801.6,287.9 L802.6,288.5 L803.6,288.9 L804.6,289.3 L805.6,289.9 L806.6,290.4 L807.6,290.7 L808.6,291.1 L809.6,291.9 L810.6,292.3 L811.6,292.6 L812.6,293.0 L813.6,293.5 L814.6,294.0 L815.6,294.5 L816.6,294.8 L817.6,295.3 L818.6,295.6 L819.6,296.3 L820.6,296.7 L821.6,297.0 L822.6,297.4 L823.6,297.9 L824.6,298.2 L825.6,298.5 L826.6,299.0 L827.6,299.4 L828.6,299.7 L829.6,300.1 L830.6,300.3 L831.6,300.5 L832.6,300.9 L833.6,301.2 L834.6,301.5 L835.6,301.7 L836.6,301.9 L837.6,302.1 L838.6,302.3 L839.6,302.4 L840.6,302.6 L841.6,302.7 L842.6,302.8 L843.6,303.0 L844.6,302.9 L845.6,303.0 L846.6,303.1 L847.6,303.2 L848.6,303.2 L849.6,303.3 L850.6,303.4 L851.6,303.3 L852.6,303.3 L853.6,303.4 L854.6,303.5 L855.6,303.5 L856.6,303.4 L857.6,303.4 L858.6,303.5 L859.6,303.5 L860.6,303.5 L861.6,303.5 L862.6,303.5 L863.6,303.5 L864.6,303.4 L865.6,303.5 L866.6,303.5 L867.6,303.4 L868.6,303.4 L869.6,303.4 L870.6,303.4 L871.6,303.5 L872.6,303.4 L873.6,303.5 L874.6,303.5 L875.6,303.4 L876.6,303.4 L877.6,303.4 L878.6,303.4 L879.6,303.4 L880.6,303.3 L881.6,303.4 L882.6,303.4 L883.6,303.4 L884.6,303.3 L885.6,303.4 L886.6,303.4 L887.6,303.4 L888.6,303.3 L889.6,303.4 L890.6,303.3 L891.6,303.3 L892.6,303.3 L893.6,303.2 L894.6,303.2 L895.6,303.3 L896.6,303.2 L897.6,303.2 L898.6,303.2 L899.6,303.2 L900.6,303.1 L901.6,303.1 L902.6,303.1 L903.6,303.1 L904.6,303.1 L905.5,303.0" fill="none" stroke="#800080" stroke-width="3.1" stroke-linejoin="round" />
<path d="M604.6,326.4 L605.6,326.3 L606.6,326.4 L607.6,326.4 L608.6,326.4 L609.6,326.4 L610.6,326.4 L611.6,326.3 L612.6,326.4 L613.6,326.3 L614.6,326.3 L615.6,326.4 L616.6,326.3 L617.6,326.4 L618.6,326.3 L619.6,326.4 L620.6,326.3 L621.6,326.3 L622.6,326.3 L623.6,326.4 L624.6,326.3 L625.6,326.3 L626.6,326.3 L627.6,326.3 L628.6,326.3 L629.6,326.3 L630.6,326.4 L631.6,326.3 L632.6,326.3 L633.6,326.3 L634.6,326.4 L635.6,326.3 L636.6,326.3 L637.6,326.3 L638.6,326.3 L639.6,326.4 L640.6,326.3 L641.6,326.3 L642.6,326.3 L643.6,326.3 L644.6,326.3 L645.6,326.3 L646.6,326.3 L647.6,326.3 L648.6,326.3 L649.6,326.3 L650.6,326.3 L651.6,326.3 L652.6,326.3 L653.6,326.4 L654.6,326.3 L655.6,326.3 L656.6,326.3 L657.6,326.2 L658.6,326.3 L659.6,326.3 L660.6,326.2 L661.6,326.2 L662.6,326.3 L663.6,326.2 L664.6,326.3 L665.6,326.3 L666.6,326.3 L667.6,326.2 L668.6,326.3 L669.6,326.2 L670.6,326.2 L671.6,326.3 L672.6,326.2 L673.6,326.2 L674.6,326.3 L675.6,326.2 L676.6,326.2 L677.6,326.2 L678.6,326.2 L679.6,326.2 L680.6,326.2 L681.6,326.2 L682.6,326.2 L683.6,326.2 L684.6,326.2 L685.6,326.2 L686.6,326.2 L687.6,326.2 L688.6,326.2 L689.6,326.1 L690.6,326.2 L691.6,326.2 L692.6,326.2 L693.6,326.1 L694.6,326.2 L695.6,326.2 L696.6,326.2 L697.6,326.1 L698.6,326.1 L699.6,326.1 L700.6,326.1 L701.6,326.1 L702.6,326.1 L703.6,326.1 L704.6,326.1 L705.6,326.0 L706.6,326.0 L707.6,326.0 L708.6,326.0 L709.6,326.0 L710.6,325.9 L711.6,325.8 L712.6,325.8 L713.6,325.8 L714.6,325.7 L715.6,325.7 L716.6,325.5 L717.6,325.5 L718.6,325.4 L719.6,325.3 L720.6,325.1 L721.6,325.0 L722.6,324.9 L723.6,324.7 L724.6,324.6 L725.6,324.4 L726.6,324.2 L727.6,324.1 L728.6,323.8 L729.6,323.5 L730.6,323.1 L731.6,322.9 L732.6,322.5 L733.6,322.2 L734.6,321.9 L735.6,321.3 L736.6,321.0 L737.6,320.5 L738.6,320.0 L739.6,319.6 L740.6,318.9 L741.6,318.4 L742.6,317.8 L743.6,317.0 L744.6,316.5 L745.6,315.9 L746.6,315.4 L747.6,314.8 L748.6,314.1 L749.6,313.4 L750.6,312.4 L751.6,312.1 L752.6,311.4 L753.6,311.0 L754.6,310.4 L755.6,310.0 L756.6,309.2 L757.6,308.8 L758.6,308.1 L759.6,307.8 L760.6,307.2 L761.6,307.1 L762.6,306.5 L763.6,306.4 L764.6,306.0 L765.6,305.8 L766.6,305.7 L767.6,305.4 L768.6,305.4 L769.6,305.1 L770.6,305.3 L771.6,305.0 L772.6,305.2 L773.6,305.3 L774.6,304.7 L775.6,305.0 L776.6,305.1 L777.6,305.4 L778.6,305.3 L779.6,305.6 L780.6,305.6 L781.6,305.9 L782.6,305.9 L783.6,306.4 L784.6,306.2 L785.6,306.6 L786.6,307.4 L787.6,307.5 L788.6,307.7 L789.6,308.4 L790.6,308.6 L791.6,308.9 L792.6,309.1 L793.6,309.6 L794.6,309.9 L795.6,310.0 L796.6,310.7 L797.6,310.9 L798.6,311.5 L799.6,311.9 L800.6,312.1 L801.6,312.5 L802.6,313.0 L803.6,313.5 L804.6,313.8 L805.6,314.2 L806.6,314.8 L807.6,315.2 L808.6,315.7 L809.6,316.0 L810.6,316.4 L811.6,316.7 L812.6,317.4 L813.6,317.8 L814.6,318.2 L815.6,318.6 L816.6,319.0 L817.6,319.5 L818.6,319.7 L819.6,320.3 L820.6,320.7 L821.6,321.2 L822.6,321.5 L823.6,321.9 L824.6,322.2 L825.6,322.6 L826.6,322.9 L827.6,323.2 L828.6,323.5 L829.6,323.9 L830.6,324.0 L831.6,324.2 L832.6,324.5 L833.6,324.8 L834.6,324.8 L835.6,325.2 L836.6,325.2 L837.6,325.4 L838.6,325.4 L839.6,325.5 L840.6,325.6 L841.6,325.7 L842.6,325.7 L843.6,325.9 L844.6,325.8 L845.6,325.9 L846.6,326.0 L847.6,326.0 L848.6,326.0 L849.6,326.0 L850.6,326.0 L851.6,326.1 L852.6,326.1 L853.6,326.1 L854.6,326.1 L855.6,326.1 L856.6,326.1 L857.6,326.2 L858.6,326.2 L859.6,326.1 L860.6,326.1 L861.6,326.1 L862.6,326.1 L863.6,326.1 L864.6,326.1 L865.6,326.1 L866.6,326.1 L867.6,326.2 L868.6,326.1 L869.6,326.1 L870.6,326.1 L871.6,326.1 L872.6,326.1 L873.6,326.1 L874.6,326.0 L875.6,326.1 L876.6,326.1 L877.6,326.0 L878.6,326.0 L879.6,326.0 L880.6,326.0 L881.6,326.1 L882.6,326.0 L883.6,326.0 L884.6,326.0 L885.6,326.0 L886.6,326.0 L887.6,326.0 L888.6,325.9 L889.6,326.0 L890.6,326.0 L891.6,325.9 L892.6,326.0 L893.6,325.9 L894.6,325.9 L895.6,325.9 L896.6,325.8 L897.6,325.8 L898.6,325.7 L899.6,325.8 L900.6,325.8 L901.6,325.8 L902.6,325.7 L903.6,325.7 L904.6,325.8 L905.5,325.7" fill="none" stroke="#800000" stroke-width="2.7" stroke-linejoin="round" />
<path d="M604.6,348.8 L605.6,348.8 L606.6,348.7 L607.6,348.8 L608.6,348.7 L609.6,348.8 L610.6,348.7 L611.6,348.7 L612.6,348.7 L613.6,348.8 L614.6,348.8 L615.6,348.8 L616.6,348.8 L617.6,348.8 L618.6,348.8 L619.6,348.7 L620.6,348.7 L621.6,348.7 L622.6,348.8 L623.6,348.7 L624.6,348.8 L625.6,348.8 L626.6,348.7 L627.6,348.7 L628.6,348.7 L629.6,348.7 L630.6,348.8 L631.6,348.8 L632.6,348.7 L633.6,348.7 L634.6,348.7 L635.6,348.8 L636.6,348.7 L637.6,348.7 L638.6,348.8 L639.6,348.7 L640.6,348.7 L641.6,348.7 L642.6,348.7 L643.6,348.8 L644.6,348.7 L645.6,348.7 L646.6,348.7 L647.6,348.7 L648.6,348.7 L649.6,348.7 L650.6,348.7 L651.6,348.6 L652.6,348.7 L653.6,348.7 L654.6,348.7 L655.6,348.7 L656.6,348.7 L657.6,348.6 L658.6,348.6 L659.6,348.7 L660.6,348.7 L661.6,348.6 L662.6,348.6 L663.6,348.7 L664.6,348.6 L665.6,348.6 L666.6,348.6 L667.6,348.6 L668.6,348.7 L669.6,348.6 L670.6,348.6 L671.6,348.6 L672.6,348.5 L673.6,348.6 L674.6,348.5 L675.6,348.6 L676.6,348.5 L677.6,348.6 L678.6,348.6 L679.6,348.5 L680.6,348.5 L681.6,348.5 L682.6,348.5 L683.6,348.5 L684.6,348.5 L685.6,348.5 L686.6,348.5 L687.6,348.4 L688.6,348.4 L689.6,348.5 L690.6,348.5 L691.6,348.4 L692.6,348.4 L693.6,348.5 L694.6,348.4 L695.6,348.4 L696.6,348.4 L697.6,348.4 L698.6,348.4 L699.6,348.3 L700.6,348.4 L701.6,348.3 L702.6,348.3 L703.6,348.4 L704.6,348.3 L705.6,348.2 L706.6,348.2 L707.6,348.2 L708.6,348.1 L709.6,348.1 L710.6,348.1 L711.6,348.1 L712.6,348.0 L713.6,347.9 L714.6,347.9 L715.6,347.9 L716.6,347.8 L717.6,347.7 L718.6,347.6 L719.6,347.6 L720.6,347.5 L721.6,347.3 L722.6,347.2 L723.6,347.2 L724.6,347.0 L725.6,346.9 L726.6,346.7 L727.6,346.6 L728.6,346.4 L729.6,346.1 L730.6,345.9 L731.6,345.7 L732.6,345.4 L733.6,345.1 L734.6,344.7 L735.6,344.5 L736.6,343.9 L737.6,343.4 L738.6,343.0 L739.6,342.4 L740.6,341.9 L741.6,341.3 L742.6,340.7 L743.6,340.0 L744.6,339.3 L745.6,338.8 L746.6,338.1 L747.6,337.6 L748.6,336.9 L749.6,336.2 L750.6,335.5 L751.6,335.1 L752.6,334.3 L753.6,333.6 L754.6,333.2 L755.6,332.3 L756.6,332.1 L757.6,331.7 L758.6,331.2 L759.6,331.0 L760.6,330.5 L761.6,330.1 L762.6,329.7 L763.6,329.5 L764.6,329.0 L765.6,328.8 L766.6,328.6 L767.6,328.4 L768.6,328.4 L769.6,327.9 L770.6,327.6 L771.6,327.7 L772.6,327.7 L773.6,327.5 L774.6,327.6 L775.6,327.6 L776.6,327.3 L777.6,327.4 L778.6,327.3 L779.6,327.6 L780.6,327.7 L781.6,327.8 L782.6,327.6 L783.6,327.8 L784.6,327.9 L785.6,328.0 L786.6,328.2 L787.6,328.3 L788.6,328.7 L789.6,328.9 L790.6,329.2 L791.6,329.3 L792.6,329.4 L793.6,329.7 L794.6,330.0 L795.6,330.1 L796.6,330.4 L797.6,330.6 L798.6,330.9 L799.6,331.2 L800.6,331.3 L801.6,331.9 L802.6,331.9 L803.6,332.5 L804.6,332.6 L805.6,333.3 L806.6,333.6 L807.6,333.7 L808.6,334.2 L809.6,334.5 L810.6,335.0 L811.6,335.5 L812.6,336.2 L813.6,336.2 L814.6,337.0 L815.6,337.2 L816.6,337.8 L817.6,338.3 L818.6,338.8 L819.6,339.2 L820.6,339.7 L821.6,340.2 L822.6,340.7 L823.6,341.2 L824.6,341.5 L825.6,342.0 L826.6,342.4 L827.6,342.9 L828.6,343.3 L829.6,343.8 L830.6,344.3 L831.6,344.6 L832.6,344.8 L833.6,345.2 L834.6,345.5 L835.6,345.8 L836.6,346.2 L837.6,346.4 L838.6,346.6 L839.6,346.8 L840.6,346.9 L841.6,347.1 L842.6,347.3 L843.6,347.5 L844.6,347.6 L845.6,347.7 L846.6,347.8 L847.6,347.9 L848.6,347.9 L849.6,348.0 L850.6,348.0 L851.6,348.1 L852.6,348.1 L853.6,348.1 L854.6,348.0 L855.6,348.1 L856.6,348.0 L857.6,348.0 L858.6,348.1 L859.6,348.1 L860.6,348.1 L861.6,348.1 L862.6,348.1 L863.6,348.2 L864.6,348.1 L865.6,348.1 L866.6,348.0 L867.6,348.1 L868.6,348.1 L869.6,348.1 L870.6,348.1 L871.6,348.0 L872.6,348.1 L873.6,348.0 L874.6,348.1 L875.6,348.1 L876.6,348.0 L877.6,348.0 L878.6,348.0 L879.6,348.0 L880.6,348.0 L881.6,348.0 L882.6,347.9 L883.6,348.0 L884.6,347.9 L885.6,348.0 L886.6,347.9 L887.6,347.9 L888.6,347.9 L889.6,347.9 L890.6,347.8 L891.6,347.8 L892.6,347.8 L893.6,347.8 L894.6,347.8 L895.6,347.7 L896.6,347.7 L897.6,347.7 L898.6,347.6 L899.6,347.6 L900.6,347.6 L901.6,347.6 L902.6,347.5 L903.6,347.5 L904.6,347.5 L905.5,347.4" fill="none" stroke="#008000" stroke-width="2.7" stroke-linejoin="round" />
<path d="M604.6,371.2 L605.6,371.2 L606.6,371.2 L607.6,371.3 L608.6,371.2 L609.6,371.2 L610.6,371.2 L611.6,371.2 L612.6,371.2 L613.6,371.2 L614.6,371.2 L615.6,371.2 L616.6,371.2 L617.6,371.3 L618.6,371.2 L619.6,371.2 L620.6,371.2 L621.6,371.2 L622.6,371.2 L623.6,371.2 L624.6,371.2 L625.6,371.2 L626.6,371.2 L627.6,371.2 L628.6,371.1 L629.6,371.2 L630.6,371.2 L631.6,371.2 L632.6,371.2 L633.6,371.2 L634.6,371.2 L635.6,371.2 L636.6,371.2 L637.6,371.2 L638.6,371.2 L639.6,371.1 L640.6,371.2 L641.6,371.2 L642.6,371.2 L643.6,371.2 L644.6,371.2 L645.6,371.2 L646.6,371.2 L647.6,371.1 L648.6,371.1 L649.6,371.1 L650.6,371.2 L651.6,371.1 L652.6,371.1 L653.6,371.1 L654.6,371.2 L655.6,371.2 L656.6,371.1 L657.6,371.2 L658.6,371.1 L659.6,371.1 L660.6,371.2 L661.6,371.1 L662.6,371.2 L663.6,371.1 L664.6,371.1 L665.6,371.2 L666.6,371.2 L667.6,371.2 L668.6,371.1 L669.6,371.1 L670.6,371.1 L671.6,371.1 L672.6,371.1 L673.6,371.0 L674.6,371.1 L675.6,371.1 L676.6,371.1 L677.6,371.1 L678.6,371.0 L679.6,371.1 L680.6,371.0 L681.6,371.1 L682.6,371.1 L683.6,371.1 L684.6,371.1 L685.6,371.0 L686.6,371.1 L687.6,371.1 L688.6,371.1 L689.6,371.0 L690.6,371.0 L691.6,371.0 L692.6,371.0 L693.6,371.1 L694.6,371.1 L695.6,371.0 L696.6,371.0 L697.6,371.0 L698.6,371.0 L699.6,371.0 L700.6,371.0 L701.6,370.9 L702.6,370.9 L703.6,370.9 L704.6,371.0 L705.6,370.9 L706.6,370.8 L707.6,370.9 L708.6,370.7 L709.6,370.8 L710.6,370.7 L711.6,370.7 L712.6,370.7 L713.6,370.6 L714.6,370.5 L715.6,370.6 L716.6,370.4 L717.6,370.4 L718.6,370.3 L719.6,370.3 L720.6,370.2 L721.6,370.1 L722.6,370.0 L723.6,369.9 L724.6,369.8 L725.6,369.7 L726.6,369.5 L727.6,369.4 L728.6,369.2 L729.6,369.0 L730.6,368.9 L731.6,368.6 L732.6,368.3 L733.6,368.0 L734.6,367.7 L735.6,367.4 L736.6,367.0 L737.6,366.6 L738.6,366.0 L739.6,365.6 L740.6,365.1 L741.6,364.6 L742.6,363.8 L743.6,363.3 L744.6,362.5 L745.6,361.9 L746.6,361.6 L747.6,360.6 L748.6,359.9 L749.6,359.2 L750.6,358.4 L751.6,357.7 L752.6,357.2 L753.6,356.6 L754.6,356.2 L755.6,355.2 L756.6,354.9 L757.6,354.5 L758.6,353.7 L759.6,353.5 L760.6,352.8 L761.6,352.7 L762.6,352.4 L763.6,351.9 L764.6,351.7 L765.6,351.3 L766.6,351.1 L767.6,351.0 L768.6,350.7 L769.6,350.5 L770.6,350.4 L771.6,350.4 L772.6,350.0 L773.6,350.2 L774.6,350.0 L775.6,350.2 L776.6,350.3 L777.6,350.2 L778.6,350.4 L779.6,350.2 L780.6,350.4 L781.6,350.5 L782.6,350.8 L783.6,351.0 L784.6,351.1 L785.6,351.2 L786.6,351.5 L787.6,351.7 L788.6,352.1 L789.6,352.2 L790.6,352.7 L791.6,352.8 L792.6,352.8 L793.6,353.3 L794.6,353.5 L795.6,354.1 L796.6,354.4 L797.6,354.6 L798.6,355.0 L799.6,355.1 L800.6,355.3 L801.6,355.9 L802.6,356.3 L803.6,356.5 L804.6,357.1 L805.6,357.5 L806.6,358.0 L807.6,358.5 L808.6,358.9 L809.6,359.2 L810.6,359.7 L811.6,360.2 L812.6,360.5 L813.6,361.2 L814.6,361.6 L815.6,362.0 L816.6,362.4 L817.6,363.3 L818.6,363.5 L819.6,363.9 L820.6,364.4 L821.6,364.8 L822.6,365.1 L823.6,365.6 L824.6,365.8 L825.6,366.3 L826.6,366.5 L827.6,367.0 L828.6,367.3 L829.6,367.5 L830.6,368.0 L831.6,368.1 L832.6,368.5 L833.6,368.6 L834.6,368.9 L835.6,369.1 L836.6,369.4 L837.6,369.5 L838.6,369.7 L839.6,369.8 L840.6,370.0 L841.6,370.1 L842.6,370.2 L843.6,370.3 L844.6,370.4 L845.6,370.4 L846.6,370.5 L847.6,370.6 L848.6,370.6 L849.6,370.6 L850.6,370.7 L851.6,370.7 L852.6,370.7 L853.6,370.7 L854.6,370.7 L855.6,370.7 L856.6,370.7 L857.6,370.8 L858.6,370.7 L859.6,370.7 L860.6,370.8 L861.6,370.7 L862.6,370.7 L863.6,370.8 L864.6,370.8 L865.6,370.8 L866.6,370.8 L867.6,370.8 L868.6,370.8 L869.6,370.7 L870.6,370.7 L871.6,370.7 L872.6,370.8 L873.6,370.8 L874.6,370.7 L875.6,370.8 L876.6,370.7 L877.6,370.8 L878.6,370.7 L879.6,370.8 L880.6,370.7 L881.6,370.7 L882.6,370.8 L883.6,370.8 L884.6,370.7 L885.6,370.7 L886.6,370.8 L887.6,370.7 L888.6,370.7 L889.6,370.7 L890.6,370.7 L891.6,370.7 L892.6,370.8 L893.6,370.7 L894.6,370.7 L895.6,370.7 L896.6,370.8 L897.6,370.8 L898.6,370.8 L899.6,370.8 L900.6,370.8 L901.6,370.8 L902.6,370.7 L903.6,370.7 L904.6,370.7 L905.5,370.7" fill="none" stroke="#008080" stroke-width="2.7" stroke-linejoin="round" />
<path d="M90.7,802.1 L91.7,802.0 L92.7,802.0 L93.7,802.0 L94.7,802.1 L95.7,802.0 L96.7,802.1 L97.7,802.0 L98.7,802.0 L99.7,801.9 L100.7,802.0 L101.7,801.9 L102.7,801.9 L103.7,802.0 L104.7,802.0 L105.7,802.0 L106.7,801.9 L107.7,801.9 L108.7,801.9 L109.7,801.9 L110.7,801.9 L111.7,801.9 L112.7,802.0 L113.7,801.8 L114.7,801.8 L115.7,801.9 L116.7,801.9 L117.7,801.8 L118.7,801.8 L119.7,801.8 L120.7,801.8 L121.7,801.8 L122.7,801.8 L123.7,801.7 L124.7,801.9 L125.7,801.8 L126.7,801.7 L127.7,801.8 L128.7,801.8 L129.7,801.8 L130.7,801.7 L131.7,801.8 L132.7,801.7 L133.7,801.6 L134.7,801.7 L135.7,801.7 L136.7,801.6 L137.7,801.6 L138.7,801.5 L139.7,801.7 L140.7,801.6 L141.7,801.6 L142.7,801.7 L143.7,801.6 L144.7,801.5 L145.7,801.5 L146.7,801.5 L147.7,801.6 L148.7,801.5 L149.7,801.4 L150.7,801.5 L151.7,801.4 L152.7,801.4 L153.7,801.5 L154.7,801.3 L155.7,801.4 L156.7,801.2 L157.7,801.3 L158.7,801.3 L159.7,801.3 L160.7,801.2 L161.7,801.3 L162.7,801.3 L163.7,801.2 L164.7,801.3 L165.7,801.1 L166.7,801.1 L167.7,801.1 L168.7,801.0 L169.7,801.1 L170.7,801.1 L171.7,801.0 L172.7,801.0 L173.7,801.0 L174.7,801.0 L175.7,800.8 L176.7,800.8 L177.7,800.7 L178.7,800.8 L179.7,800.6 L180.7,800.7 L181.7,800.7 L182.7,800.6 L183.7,800.5 L184.7,800.6 L185.7,800.5 L186.7,800.5 L187.7,800.5 L188.7,800.3 L189.7,800.3 L190.7,800.5 L191.7,800.3 L192.7,800.2 L193.7,800.2 L194.7,800.1 L195.7,800.0 L196.7,800.0 L197.7,800.0 L198.7,799.9 L199.7,799.9 L200.7,799.7 L201.7,799.7 L202.7,799.8 L203.7,799.6 L204.7,799.7 L205.7,799.5 L206.7,799.4 L207.7,799.4 L208.7,799.3 L209.7,799.3 L210.7,799.3 L211.7,799.3 L212.7,799.0 L213.7,799.0 L214.7,798.9 L215.7,798.9 L216.7,798.5 L217.7,798.6 L218.7,798.6 L219.7,798.5 L220.7,798.3 L221.7,798.4 L222.7,798.3 L223.7,798.1 L224.7,798.0 L225.7,797.9 L226.7,797.9 L227.7,797.8 L228.7,797.8 L229.7,797.5 L230.7,797.3 L231.7,797.2 L232.7,797.3 L233.7,797.1 L234.7,797.0 L235.7,796.9 L236.7,796.7 L237.7,796.6 L238.7,796.3 L239.7,796.2 L240.7,796.2 L241.7,796.1 L242.7,795.8 L243.7,795.7 L244.7,795.7 L245.7,795.4 L246.7,795.3 L247.7,795.1 L248.7,794.8 L249.7,794.6 L250.7,794.5 L251.7,794.3 L252.7,794.3 L253.7,793.9 L254.7,793.8 L255.7,793.7 L256.7,793.4 L257.7,793.3 L258.7,793.2 L259.7,792.6 L260.7,792.6 L261.7,792.3 L262.7,792.3 L263.7,791.9 L264.7,791.8 L265.7,791.7 L266.7,791.1 L267.7,790.9 L268.7,790.7 L269.7,790.4 L270.7,790.3 L271.7,790.0 L272.7,789.7 L273.7,789.3 L274.7,788.9 L275.7,788.6 L276.7,788.3 L277.7,787.7 L278.7,787.7 L279.7,787.5 L280.7,787.0 L281.7,786.5 L282.7,786.3 L283.7,785.9 L284.7,785.6 L285.7,785.5 L286.7,784.6 L287.7,784.4 L288.7,784.1 L289.7,783.5 L290.7,783.0 L291.7,782.4 L292.7,782.1 L293.7,781.9 L294.7,781.6 L295.7,780.7 L296.7,780.4 L297.7,779.9 L298.7,779.5 L299.7,778.9 L300.7,778.4 L301.7,778.0 L302.7,777.1 L303.7,776.8 L304.7,776.0 L305.7,775.5 L306.7,775.3 L307.7,774.7 L308.7,774.8 L309.7,774.7 L310.7,774.2 L311.7,774.2 L312.7,774.1 L313.7,774.2 L314.7,774.4 L315.7,774.7 L316.7,774.8 L317.7,775.1 L318.7,775.5 L319.7,776.2 L320.7,776.5 L321.7,777.4 L322.7,777.6 L323.7,778.6 L324.7,778.7 L325.7,779.5 L326.7,780.5 L327.7,781.2 L328.7,781.9 L329.7,783.1 L330.7,783.5 L331.7,784.3 L332.7,784.9 L333.7,786.1 L334.7,786.8 L335.7,787.5 L336.7,787.9 L337.7,789.0 L338.7,789.6 L339.7,790.4 L340.7,791.2 L341.7,791.7 L342.7,792.4 L343.7,793.2 L344.7,793.7 L345.7,794.2 L346.7,794.6 L347.7,795.2 L348.7,795.6 L349.7,796.3 L350.7,796.7 L351.7,797.0 L352.7,797.5 L353.7,797.7 L354.7,797.9 L355.7,798.5 L356.7,798.8 L357.7,798.9 L358.7,799.2 L359.7,799.5 L360.7,799.6 L361.7,799.8 L362.7,800.0 L363.7,800.1 L364.7,800.2 L365.7,800.4 L366.7,800.5 L367.7,800.6 L368.7,800.7 L369.7,800.7 L370.7,800.9 L371.7,800.8 L372.7,801.0 L373.7,801.0 L374.7,801.1 L375.7,801.1 L376.7,801.2 L377.7,801.1 L378.7,801.2 L379.7,801.2 L380.7,801.2 L381.7,801.2 L382.7,801.3 L383.7,801.2 L384.7,801.2 L385.7,801.3 L386.7,801.3 L387.7,801.3 L388.7,801.3 L389.7,801.3 L390.7,801.3 L391.7,801.3 L392.7,801.4 L393.7,801.3 L394.7,801.4 L395.7,801.3 L396.7,801.3 L397.7,801.3 L398.7,801.3 L399.7,801.2 L400.7,801.4 L401.7,801.3 L402.7,801.3 L403.7,801.4 L404.7,801.3 L405.7,801.4 L406.7,801.4 L407.7,801.4 L408.7,801.3 L409.7,801.4 L410.7,801.2 L411.7,801.3 L412.7,801.3 L413.7,801.3 L414.7,801.3 L415.7,801.2 L416.7,801.4 L417.7,801.4 L418.7,801.2 L419.7,801.3 L420.7,801.4 L421.7,801.3 L422.7,801.3 L423.7,801.3 L424.7,801.4 L425.7,801.4 L426.7,801.3 L427.7,801.3 L428.7,801.3 L429.7,801.3 L430.7,801.3 L431.7,801.3 L432.7,801.3 L433.7,801.4 L434.7,801.3 L435.7,801.3 L436.7,801.4 L437.7,801.3 L438.7,801.3 L439.7,801.4 L440.7,801.3 L441.7,801.4 L442.7,801.4 L443.7,801.4 L444.7,801.3 L445.7,801.3 L446.7,801.2 L447.7,801.3 L448.7,801.3 L449.7,801.4 L450.7,801.3 L451.7,801.3 L452.7,801.3 L453.7,801.3 L454.7,801.3 L455.7,801.4 L456.7,801.3 L457.7,801.3 L458.7,801.3 L459.7,801.3 L460.7,801.3 L461.7,801.2 L462.7,801.2 L463.7,801.3 L464.7,801.3 L465.7,801.3 L466.7,801.3 L467.7,801.4 L468.7,801.3 L469.7,801.4 L470.7,801.3 L471.7,801.3 L472.7,801.4 L473.7,801.2 L474.7,801.3 L475.7,801.3 L476.7,801.3 L477.7,801.3 L478.7,801.2 L479.7,801.3 L480.7,801.3 L481.7,801.5 L482.7,801.4 L483.7,801.3 L484.7,801.3 L485.7,801.3 L486.7,801.3 L486.9,801.3" fill="none" stroke="#000000" stroke-width="4.0" stroke-linejoin="round" />
<path d="M90.7,772.7 L91.7,772.6 L92.7,772.7 L93.7,772.6 L94.7,772.6 L95.7,772.7 L96.7,772.7 L97.7,772.6 L98.7,772.6 L99.7,772.6 L100.7,772.6 L101.7,772.7 L102.7,772.7 L103.7,772.6 L104.7,772.6 L105.7,772.7 L106.7,772.7 L107.7,772.6 L108.7,772.7 L109.7,772.5 L110.7,772.6 L111.7,772.6 L112.7,772.6 L113.7,772.5 L114.7,772.6 L115.7,772.6 L116.7,772.6 L117.7,772.5 L118.7,772.7 L119.7,772.5 L120.7,772.6 L121.7,772.5 L122.7,772.6 L123.7,772.5 L124.7,772.5 L125.7,772.5 L126.7,772.5 L127.7,772.5 L128.7,772.5 L129.7,772.6 L130.7,772.5 L131.7,772.5 L132.7,772.5 L133.7,772.5 L134.7,772.4 L135.7,772.5 L136.7,772.5 L137.7,772.4 L138.7,772.4 L139.7,772.5 L140.7,772.4 L141.7,772.4 L142.7,772.5 L143.7,772.4 L144.7,772.4 L145.7,772.3 L146.7,772.3 L147.7,772.3 L148.7,772.4 L149.7,772.4 L150.7,772.3 L151.7,772.4 L152.7,772.4 L153.7,772.3 L154.7,772.3 L155.7,772.3 L156.7,772.2 L157.7,772.2 L158.7,772.2 L159.7,772.2 L160.7,772.2 L161.7,772.2 L162.7,772.2 L163.7,772.1 L164.7,772.2 L165.7,772.1 L166.7,772.1 L167.7,772.0 L168.7,772.1 L169.7,772.0 L170.7,772.0 L171.7,772.0 L172.7,772.0 L173.7,772.0 L174.7,772.0 L175.7,771.9 L176.7,771.9 L177.7,771.8 L178.7,771.8 L179.7,771.9 L180.7,771.9 L181.7,771.9 L182.7,771.8 L183.7,771.8 L184.7,771.8 L185.7,771.6 L186.7,771.6 L187.7,771.7 L188.7,771.7 L189.7,771.6 L190.7,771.5 L191.7,771.5 L192.7,771.4 L193.7,771.4 L194.7,771.3 L195.7,771.4 L196.7,771.3 L197.7,771.3 L198.7,771.4 L199.7,771.2 L200.7,771.1 L201.7,771.2 L202.7,771.0 L203.7,771.1 L204.7,771.0 L205.7,770.9 L206.7,770.9 L207.7,770.9 L208.7,770.7 L209.7,770.6 L210.7,770.8 L211.7,770.6 L212.7,770.6 L213.7,770.4 L214.7,770.4 L215.7,770.3 L216.7,770.3 L217.7,770.2 L218.7,770.1 L219.7,770.2 L220.7,770.0 L221.7,769.7 L222.7,769.8 L223.7,769.7 L224.7,769.6 L225.7,769.5 L226.7,769.4 L227.7,769.4 L228.7,769.2 L229.7,769.0 L230.7,769.0 L231.7,769.0 L232.7,768.7 L233.7,768.8 L234.7,768.7 L235.7,768.5 L236.7,768.4 L237.7,768.2 L238.7,768.1 L239.7,767.9 L240.7,767.9 L241.7,767.9 L242.7,767.5 L243.7,767.6 L244.7,767.1 L245.7,767.1 L246.7,766.9 L247.7,767.0 L248.7,766.6 L249.7,766.5 L250.7,766.1 L251.7,766.1 L252.7,766.0 L253.7,765.7 L254.7,765.2 L255.7,765.3 L256.7,765.2 L257.7,765.0 L258.7,764.7 L259.7,764.2 L260.7,764.2 L261.7,764.0 L262.7,763.6 L263.7,763.5 L264.7,763.1 L265.7,762.9 L266.7,762.7 L267.7,762.2 L268.7,762.4 L269.7,761.7 L270.7,761.4 L271.7,761.0 L272.7,760.7 L273.7,760.3 L274.7,759.8 L275.7,759.4 L276.7,759.3 L277.7,758.9 L278.7,758.1 L279.7,757.7 L280.7,757.6 L281.7,757.3 L282.7,756.9 L283.7,756.1 L284.7,756.0 L285.7,755.4 L286.7,754.8 L287.7,754.4 L288.7,754.1 L289.7,753.5 L290.7,753.0 L291.7,752.2 L292.7,751.7 L293.7,750.9 L294.7,750.5 L295.7,749.9 L296.7,749.3 L297.7,748.9 L298.7,748.2 L299.7,747.7 L300.7,746.9 L301.7,746.5 L302.7,745.8 L303.7,745.4 L304.7,744.9 L305.7,744.6 L306.7,744.1 L307.7,743.7 L308.7,743.6 L309.7,744.3 L310.7,744.2 L311.7,744.4 L312.7,744.6 L313.7,745.0 L314.7,746.2 L315.7,746.0 L316.7,746.8 L317.7,747.5 L318.7,748.1 L319.7,748.9 L320.7,749.8 L321.7,750.8 L322.7,751.7 L323.7,752.9 L324.7,753.4 L325.7,754.7 L326.7,755.9 L327.7,756.7 L328.7,757.3 L329.7,757.9 L330.7,759.4 L331.7,760.2 L332.7,760.9 L333.7,762.0 L334.7,762.5 L335.7,763.3 L336.7,763.9 L337.7,764.7 L338.7,765.3 L339.7,765.8 L340.7,766.5 L341.7,766.9 L342.7,767.2 L343.7,767.9 L344.7,768.3 L345.7,768.5 L346.7,768.8 L347.7,769.1 L348.7,769.4 L349.7,769.6 L350.7,769.9 L351.7,770.0 L352.7,770.3 L353.7,770.3 L354.7,770.4 L355.7,770.7 L356.7,770.8 L357.7,770.8 L358.7,770.8 L359.7,770.8 L360.7,771.0 L361.7,771.0 L362.7,771.0 L363.7,771.1 L364.7,771.2 L365.7,771.2 L366.7,771.3 L367.7,771.2 L368.7,771.2 L369.7,771.2 L370.7,771.2 L371.7,771.3 L372.7,771.3 L373.7,771.3 L374.7,771.2 L375.7,771.3 L376.7,771.3 L377.7,771.2 L378.7,771.1 L379.7,771.3 L380.7,771.3 L381.7,771.2 L382.7,771.2 L383.7,771.2 L384.7,771.1 L385.7,771.2 L386.7,771.1 L387.7,771.2 L388.7,771.2 L389.7,771.3 L390.7,771.2 L391.7,771.3 L392.7,771.2 L393.7,771.2 L394.7,771.1 L395.7,771.3 L396.7,771.2 L397.7,771.2 L398.7,771.2 L399.7,771.2 L400.7,771.2 L401.7,771.3 L402.7,771.3 L403.7,771.2 L404.7,771.1 L405.7,771.2 L406.7,771.3 L407.7,771.2 L408.7,771.3 L409.7,771.2 L410.7,771.3 L411.7,771.2 L412.7,771.1 L413.7,771.2 L414.7,771.4 L415.7,771.2 L416.7,771.3 L417.7,771.2 L418.7,771.2 L419.7,771.3 L420.7,771.3 L421.7,771.4 L422.7,771.2 L423.7,771.2 L424.7,771.2 L425.7,771.2 L426.7,771.1 L427.7,771.3 L428.7,771.1 L429.7,771.3 L430.7,771.3 L431.7,771.2 L432.7,771.2 L433.7,771.2 L434.7,771.2 L435.7,771.3 L436.7,771.2 L437.7,771.2 L438.7,771.2 L439.7,771.2 L440.7,771.2 L441.7,771.1 L442.7,771.1 L443.7,771.2 L444.7,771.2 L445.7,771.3 L446.7,771.4 L447.7,771.3 L448.7,771.3 L449.7,771.4 L450.7,771.2 L451.7,771.2 L452.7,771.4 L453.7,771.2 L454.7,771.2 L455.7,771.2 L456.7,771.3 L457.7,771.2 L458.7,771.3 L459.7,771.2 L460.7,771.2 L461.7,771.3 L462.7,771.2 L463.7,771.2 L464.7,771.2 L465.7,771.2 L466.7,771.3 L467.7,771.3 L468.7,771.3 L469.7,771.3 L470.7,771.2 L471.7,771.3 L472.7,771.2 L473.7,771.2 L474.7,771.2 L475.7,771.2 L476.7,771.2 L477.7,771.3 L478.7,771.1 L479.7,771.2 L480.7,771.3 L481.7,771.2 L482.7,771.3 L483.7,771.2 L484.7,771.2 L485.7,771.3 L486.7,771.2 L486.9,771.3" fill="none" stroke="#ff0000" stroke-width="4.0" stroke-linejoin="round" />
<path d="M90.7,743.1 L91.7,743.1 L92.7,743.1 L93.7,743.1 L94.7,743.1 L95.7,743.1 L96.7,743.0 L97.7,743.2 L98.7,743.2 L99.7,743.2 L100.7,743.1 L101.7,743.0 L102.7,743.1 L103.7,743.1 L104.7,743.1 L105.7,743.1 L106.7,743.1 L107.7,743.1 L108.7,743.0 L109.7,743.2 L110.7,743.0 L111.7,743.1 L112.7,743.1 L113.7,743.0 L114.7,743.1 L115.7,743.1 L116.7,743.0 L117.7,743.1 L118.7,743.1 L119.7,743.0 L120.7,743.1 L121.7,743.0 L122.7,743.0 L123.7,743.1 L124.7,743.0 L125.7,743.0 L126.7,742.9 L127.7,743.0 L128.7,743.0 L129.7,743.0 L130.7,743.0 L131.7,742.9 L132.7,742.9 L133.7,743.0 L134.7,743.0 L135.7,742.9 L136.7,743.0 L137.7,742.9 L138.7,743.0 L139.7,742.8 L140.7,742.9 L141.7,742.8 L142.7,742.9 L143.7,742.9 L144.7,742.8 L145.7,742.8 L146.7,742.8 L147.7,742.7 L148.7,742.8 L149.7,742.8 L150.7,742.8 L151.7,742.8 L152.7,742.7 L153.7,742.7 L154.7,742.7 L155.7,742.7 L156.7,742.7 L157.7,742.7 L158.7,742.7 L159.7,742.7 L160.7,742.6 L161.7,742.7 L162.7,742.6 L163.7,742.6 L164.7,742.5 L165.7,742.5 L166.7,742.6 L167.7,742.5 L168.7,742.5 L169.7,742.5 L170.7,742.4 L171.7,742.3 L172.7,742.5 L173.7,742.4 L174.7,742.5 L175.7,742.4 L176.7,742.3 L177.7,742.3 L178.7,742.3 L179.7,742.3 L180.7,742.2 L181.7,742.2 L182.7,742.2 L183.7,742.1 L184.7,742.2 L185.7,742.0 L186.7,742.1 L187.7,741.9 L188.7,741.9 L189.7,742.1 L190.7,742.0 L191.7,741.9 L192.7,741.7 L193.7,741.8 L194.7,741.8 L195.7,741.7 L196.7,741.7 L197.7,741.6 L198.7,741.6 L199.7,741.5 L200.7,741.5 L201.7,741.5 L202.7,741.3 L203.7,741.3 L204.7,741.3 L205.7,741.2 L206.7,741.2 L207.7,741.1 L208.7,741.1 L209.7,740.9 L210.7,740.9 L211.7,740.9 L212.7,740.8 L213.7,740.7 L214.7,740.6 L215.7,740.7 L216.7,740.5 L217.7,740.4 L218.7,740.4 L219.7,740.4 L220.7,740.3 L221.7,740.2 L222.7,740.1 L223.7,740.0 L224.7,739.8 L225.7,739.7 L226.7,739.6 L227.7,739.6 L228.7,739.5 L229.7,739.4 L230.7,739.3 L231.7,739.2 L232.7,738.9 L233.7,738.9 L234.7,738.7 L235.7,738.5 L236.7,738.6 L237.7,738.3 L238.7,738.2 L239.7,738.1 L240.7,738.1 L241.7,737.8 L242.7,737.8 L243.7,737.6 L244.7,737.4 L245.7,737.3 L246.7,737.1 L247.7,736.9 L248.7,736.6 L249.7,736.5 L250.7,736.2 L251.7,736.2 L252.7,736.0 L253.7,735.9 L254.7,735.7 L255.7,735.4 L256.7,735.3 L257.7,734.9 L258.7,735.0 L259.7,734.6 L260.7,734.5 L261.7,734.0 L262.7,733.7 L263.7,733.6 L264.7,733.2 L265.7,732.9 L266.7,732.5 L267.7,732.4 L268.7,732.0 L269.7,731.8 L270.7,731.3 L271.7,730.8 L272.7,730.8 L273.7,730.5 L274.7,729.8 L275.7,729.5 L276.7,729.2 L277.7,728.8 L278.7,728.2 L279.7,728.4 L280.7,727.8 L281.7,727.1 L282.7,726.4 L283.7,726.4 L284.7,726.2 L285.7,725.5 L286.7,725.1 L287.7,724.2 L288.7,723.9 L289.7,723.1 L290.7,723.2 L291.7,722.4 L292.7,721.3 L293.7,720.8 L294.7,720.7 L295.7,720.0 L296.7,719.3 L297.7,718.9 L298.7,718.6 L299.7,717.7 L300.7,716.7 L301.7,716.5 L302.7,715.8 L303.7,715.5 L304.7,715.4 L305.7,715.1 L306.7,714.8 L307.7,715.1 L308.7,715.1 L309.7,715.6 L310.7,715.9 L311.7,716.6 L312.7,717.1 L313.7,718.0 L314.7,718.7 L315.7,719.7 L316.7,720.5 L317.7,721.7 L318.7,722.4 L319.7,724.4 L320.7,724.9 L321.7,726.2 L322.7,727.2 L323.7,728.3 L324.7,729.5 L325.7,730.5 L326.7,731.5 L327.7,732.3 L328.7,733.3 L329.7,734.2 L330.7,735.3 L331.7,735.7 L332.7,736.4 L333.7,737.2 L334.7,737.9 L335.7,738.1 L336.7,738.6 L337.7,739.2 L338.7,739.5 L339.7,739.7 L340.7,740.0 L341.7,740.3 L342.7,740.7 L343.7,740.8 L344.7,741.0 L345.7,741.1 L346.7,741.2 L347.7,741.3 L348.7,741.4 L349.7,741.5 L350.7,741.4 L351.7,741.5 L352.7,741.6 L353.7,741.6 L354.7,741.6 L355.7,741.7 L356.7,741.7 L357.7,741.7 L358.7,741.7 L359.7,741.8 L360.7,741.9 L361.7,741.7 L362.7,741.6 L363.7,741.7 L364.7,741.7 L365.7,741.7 L366.7,741.7 L367.7,741.8 L368.7,741.8 L369.7,741.8 L370.7,741.8 L371.7,741.7 L372.7,741.8 L373.7,741.7 L374.7,741.7 L375.7,741.7 L376.7,741.8 L377.7,741.8 L378.7,741.7 L379.7,741.7 L380.7,741.7 L381.7,741.8 L382.7,741.8 L383.7,741.7 L384.7,741.8 L385.7,741.7 L386.7,741.7 L387.7,741.6 L388.7,741.9 L389.7,741.8 L390.7,741.8 L391.7,741.8 L392.7,741.9 L393.7,741.8 L394.7,741.6 L395.7,741.7 L396.7,741.6 L397.7,741.7 L398.7,741.7 L399.7,741.7 L400.7,741.8 L401.7,741.7 L402.7,741.7 L403.7,741.8 L404.7,741.7 L405.7,741.7 L406.7,741.6 L407.7,741.7 L408.7,741.8 L409.7,741.8 L410.7,741.7 L411.7,741.7 L412.7,741.8 L413.7,741.7 L414.7,741.8 L415.7,741.7 L416.7,741.7 L417.7,741.7 L418.7,741.9 L419.7,741.7 L420.7,741.7 L421.7,741.8 L422.7,741.7 L423.7,741.8 L424.7,741.6 L425.7,741.8 L426.7,741.7 L427.7,741.7 L428.7,741.8 L429.7,741.7 L430.7,741.7 L431.7,741.7 L432.7,741.6 L433.7,741.7 L434.7,741.6 L435.7,741.8 L436.7,741.8 L437.7,741.7 L438.7,741.6 L439.7,741.7 L440.7,741.7 L441.7,741.8 L442.7,741.8 L443.7,741.7 L444.7,741.7 L445.7,741.8 L446.7,741.8 L447.7,741.7 L448.7,741.8 L449.7,741.7 L450.7,741.7 L451.7,741.8 L452.7,741.8 L453.7,741.8 L454.7,741.8 L455.7,741.7 L456.7,741.7 L457.7,741.9 L458.7,741.8 L459.7,741.8 L460.7,741.8 L461.7,741.8 L462.7,741.7 L463.7,741.8 L464.7,741.7 L465.7,741.8 L466.7,741.7 L467.7,741.9 L468.7,741.7 L469.7,741.8 L470.7,741.8 L471.7,741.7 L472.7,741.8 L473.7,741.7 L474.7,741.7 L475.7,741.7 L476.7,741.7 L477.7,741.8 L478.7,741.8 L479.7,741.8 L480.7,741.7 L481.7,741.8 L482.7,741.7 L483.7,741.7 L484.7,741.8 L485.7,741.8 L486.7,741.7 L486.9,741.8" fill="none" stroke="#0000ff" stroke-width="4.0" stroke-linejoin="round" />
<path d="M90.7,713.7 L91.7,713.8 L92.7,713.6 L93.7,713.7 L94.7,713.6 L95.7,713.6 L96.7,713.7 L97.7,713.6 L98.7,713.5 L99.7,713.6 L100.7,713.6 L101.7,713.7 L102.7,713.6 L103.7,713.6 L104.7,713.5 L105.7,713.6 L106.7,713.6 L107.7,713.6 L108.7,713.5 L109.7,713.6 L110.7,713.5 L111.7,713.6 L112.7,713.5 L113.7,713.5 L114.7,713.7 L115.7,713.6 L116.7,713.6 L117.7,713.6 L118.7,713.5 L119.7,713.6 L120.7,713.5 L121.7,713.7 L122.7,713.6 L123.7,713.5 L124.7,713.6 L125.7,713.7 L126.7,713.5 L127.7,713.6 L128.7,713.5 L129.7,713.5 L130.7,713.4 L131.7,713.6 L132.7,713.5 L133.7,713.5 L134.7,713.4 L135.7,713.4 L136.7,713.5 L137.7,713.5 L138.7,713.4 L139.7,713.4 L140.7,713.5 L141.7,713.5 L142.7,713.4 L143.7,713.4 L144.7,713.4 L145.7,713.5 L146.7,713.4 L147.7,713.4 L148.7,713.5 L149.7,713.4 L150.7,713.3 L151.7,713.3 L152.7,713.3 L153.7,713.4 L154.7,713.3 L155.7,713.3 L156.7,713.3 L157.7,713.3 L158.7,713.2 L159.7,713.3 L160.7,713.3 L161.7,713.2 L162.7,713.1 L163.7,713.2 L164.7,713.2 L165.7,713.1 L166.7,713.3 L167.7,713.1 L168.7,713.0 L169.7,713.1 L170.7,713.1 L171.7,713.1 L172.7,713.0 L173.7,713.1 L174.7,712.9 L175.7,713.0 L176.7,712.9 L177.7,712.9 L178.7,712.9 L179.7,712.8 L180.7,712.8 L181.7,712.8 L182.7,712.8 L183.7,712.8 L184.7,712.8 L185.7,712.7 L186.7,712.7 L187.7,712.6 L188.7,712.5 L189.7,712.5 L190.7,712.5 L191.7,712.4 L192.7,712.5 L193.7,712.3 L194.7,712.4 L195.7,712.4 L196.7,712.3 L197.7,712.4 L198.7,712.2 L199.7,712.1 L200.7,712.2 L201.7,712.0 L202.7,711.9 L203.7,711.9 L204.7,711.9 L205.7,711.9 L206.7,711.8 L207.7,711.6 L208.7,711.7 L209.7,711.8 L210.7,711.5 L211.7,711.5 L212.7,711.5 L213.7,711.4 L214.7,711.2 L215.7,711.1 L216.7,711.1 L217.7,711.1 L218.7,711.0 L219.7,710.7 L220.7,710.6 L221.7,710.6 L222.7,710.5 L223.7,710.6 L224.7,710.5 L225.7,710.5 L226.7,710.3 L227.7,710.2 L228.7,710.1 L229.7,709.9 L230.7,709.7 L231.7,709.7 L232.7,709.7 L233.7,709.3 L234.7,709.4 L235.7,709.3 L236.7,709.0 L237.7,708.9 L238.7,708.7 L239.7,708.6 L240.7,708.6 L241.7,708.2 L242.7,708.3 L243.7,708.1 L244.7,707.9 L245.7,707.4 L246.7,707.3 L247.7,707.4 L248.7,707.0 L249.7,706.8 L250.7,706.6 L251.7,706.3 L252.7,706.2 L253.7,706.0 L254.7,705.7 L255.7,705.6 L256.7,705.2 L257.7,705.2 L258.7,704.5 L259.7,704.9 L260.7,704.1 L261.7,704.1 L262.7,703.8 L263.7,703.4 L264.7,703.2 L265.7,702.8 L266.7,702.2 L267.7,702.2 L268.7,702.0 L269.7,701.4 L270.7,700.8 L271.7,700.6 L272.7,700.4 L273.7,700.0 L274.7,699.7 L275.7,699.2 L276.7,698.8 L277.7,697.9 L278.7,698.2 L279.7,697.3 L280.7,697.0 L281.7,696.3 L282.7,695.8 L283.7,695.3 L284.7,695.1 L285.7,694.5 L286.7,693.8 L287.7,693.5 L288.7,692.4 L289.7,692.0 L290.7,691.2 L291.7,690.9 L292.7,690.0 L293.7,689.6 L294.7,689.1 L295.7,687.7 L296.7,688.0 L297.7,687.1 L298.7,686.4 L299.7,685.6 L300.7,685.6 L301.7,685.0 L302.7,685.3 L303.7,685.2 L304.7,685.8 L305.7,685.6 L306.7,686.2 L307.7,686.7 L308.7,687.5 L309.7,687.7 L310.7,688.7 L311.7,689.1 L312.7,690.1 L313.7,691.3 L314.7,692.4 L315.7,693.2 L316.7,694.5 L317.7,695.8 L318.7,696.7 L319.7,697.8 L320.7,698.8 L321.7,700.2 L322.7,701.3 L323.7,702.1 L324.7,703.0 L325.7,704.1 L326.7,704.8 L327.7,705.5 L328.7,706.1 L329.7,706.9 L330.7,707.9 L331.7,708.2 L332.7,709.0 L333.7,709.2 L334.7,709.6 L335.7,710.2 L336.7,710.4 L337.7,710.7 L338.7,710.9 L339.7,711.1 L340.7,711.4 L341.7,711.6 L342.7,711.7 L343.7,711.7 L344.7,712.0 L345.7,712.1 L346.7,712.2 L347.7,712.2 L348.7,712.2 L349.7,712.4 L350.7,712.4 L351.7,712.4 L352.7,712.5 L353.7,712.5 L354.7,712.5 L355.7,712.5 L356.7,712.5 L357.7,712.6 L358.7,712.6 L359.7,712.5 L360.7,712.6 L361.7,712.6 L362.7,712.6 L363.7,712.6 L364.7,712.6 L365.7,712.6 L366.7,712.6 L367.7,712.6 L368.7,712.5 L369.7,712.5 L370.7,712.5 L371.7,712.6 L372.7,712.6 L373.7,712.5 L374.7,712.5 L375.7,712.5 L376.7,712.6 L377.7,712.6 L378.7,712.5 L379.7,712.6 L380.7,712.5 L381.7,712.6 L382.7,712.5 L383.7,712.5 L384.7,712.5 L385.7,712.6 L386.7,712.7 L387.7,712.5 L388.7,712.6 L389.7,712.6 L390.7,712.7 L391.7,712.5 L392.7,712.5 L393.7,712.6 L394.7,712.7 L395.7,712.6 L396.7,712.6 L397.7,712.7 L398.7,712.4 L399.7,712.4 L400.7,712.6 L401.7,712.6 L402.7,712.5 L403.7,712.6 L404.7,712.6 L405.7,712.6 L406.7,712.5 L407.7,712.5 L408.7,712.5 L409.7,712.6 L410.7,712.5 L411.7,712.7 L412.7,712.6 L413.7,712.5 L414.7,712.6 L415.7,712.6 L416.7,712.6 L417.7,712.6 L418.7,712.5 L419.7,712.6 L420.7,712.5 L421.7,712.6 L422.7,712.5 L423.7,712.6 L424.7,712.5 L425.7,712.4 L426.7,712.6 L427.7,712.5 L428.7,712.6 L429.7,712.6 L430.7,712.5 L431.7,712.5 L432.7,712.6 L433.7,712.6 L434.7,712.6 L435.7,712.7 L436.7,712.5 L437.7,712.6 L438.7,712.6 L439.7,712.5 L440.7,712.5 L441.7,712.5 L442.7,712.6 L443.7,712.5 L444.7,712.6 L445.7,712.5 L446.7,712.6 L447.7,712.5 L448.7,712.5 L449.7,712.6 L450.7,712.6 L451.7,712.6 L452.7,712.5 L453.7,712.6 L454.7,712.6 L455.7,712.6 L456.7,712.5 L457.7,712.5 L458.7,712.5 L459.7,712.6 L460.7,712.6 L461.7,712.6 L462.7,712.6 L463.7,712.5 L464.7,712.5 L465.7,712.5 L466.7,712.5 L467.7,712.5 L468.7,712.6 L469.7,712.7 L470.7,712.6 L471.7,712.6 L472.7,712.6 L473.7,712.5 L474.7,712.6 L475.7,712.6 L476.7,712.6 L477.7,712.6 L478.7,712.5 L479.7,712.5 L480.7,712.5 L481.7,712.5 L482.7,712.6 L483.7,712.5 L484.7,712.6 L485.7,712.5 L486.7,712.6 L486.9,712.5" fill="none" stroke="#008080" stroke-width="4.0" stroke-linejoin="round" />
<path d="M90.7,684.1 L91.7,684.1 L92.7,684.1 L93.7,684.2 L94.7,684.2 L95.7,684.1 L96.7,684.2 L97.7,684.2 L98.7,684.1 L99.7,684.1 L100.7,684.0 L101.7,684.1 L102.7,684.0 L103.7,684.1 L104.7,684.1 L105.7,684.1 L106.7,684.1 L107.7,684.2 L108.7,684.1 L109.7,684.1 L110.7,684.2 L111.7,684.2 L112.7,684.2 L113.7,684.1 L114.7,684.1 L115.7,684.1 L116.7,684.1 L117.7,684.1 L118.7,684.1 L119.7,684.1 L120.7,684.1 L121.7,684.2 L122.7,684.1 L123.7,684.0 L124.7,684.1 L125.7,683.9 L126.7,684.1 L127.7,684.1 L128.7,684.1 L129.7,684.0 L130.7,684.2 L131.7,684.0 L132.7,684.0 L133.7,684.1 L134.7,684.0 L135.7,684.0 L136.7,684.0 L137.7,683.9 L138.7,684.0 L139.7,684.0 L140.7,684.0 L141.7,683.9 L142.7,684.0 L143.7,684.0 L144.7,684.0 L145.7,683.9 L146.7,684.0 L147.7,683.9 L148.7,683.9 L149.7,683.8 L150.7,683.9 L151.7,683.9 L152.7,683.8 L153.7,683.8 L154.7,683.8 L155.7,683.9 L156.7,683.8 L157.7,683.8 L158.7,683.8 L159.7,683.8 L160.7,683.8 L161.7,683.7 L162.7,683.8 L163.7,683.7 L164.7,683.7 L165.7,683.6 L166.7,683.7 L167.7,683.6 L168.7,683.6 L169.7,683.6 L170.7,683.5 L171.7,683.5 L172.7,683.6 L173.7,683.6 L174.7,683.5 L175.7,683.5 L176.7,683.5 L177.7,683.4 L178.7,683.3 L179.7,683.3 L180.7,683.4 L181.7,683.3 L182.7,683.2 L183.7,683.2 L184.7,683.2 L185.7,683.2 L186.7,683.2 L187.7,683.3 L188.7,683.1 L189.7,683.1 L190.7,683.0 L191.7,683.0 L192.7,682.9 L193.7,682.9 L194.7,682.8 L195.7,682.9 L196.7,682.8 L197.7,682.7 L198.7,682.8 L199.7,682.6 L200.7,682.6 L201.7,682.7 L202.7,682.5 L203.7,682.6 L204.7,682.5 L205.7,682.4 L206.7,682.2 L207.7,682.3 L208.7,682.2 L209.7,682.1 L210.7,682.2 L211.7,681.9 L212.7,682.0 L213.7,681.8 L214.7,681.8 L215.7,681.6 L216.7,681.6 L217.7,681.5 L218.7,681.4 L219.7,681.4 L220.7,681.3 L221.7,681.2 L222.7,681.2 L223.7,681.0 L224.7,680.8 L225.7,680.8 L226.7,680.8 L227.7,680.7 L228.7,680.6 L229.7,680.5 L230.7,680.3 L231.7,680.3 L232.7,680.0 L233.7,680.1 L234.7,679.9 L235.7,679.8 L236.7,679.5 L237.7,679.4 L238.7,679.2 L239.7,679.2 L240.7,678.9 L241.7,678.9 L242.7,678.7 L243.7,678.7 L244.7,678.3 L245.7,678.1 L246.7,678.0 L247.7,677.8 L248.7,677.6 L249.7,677.3 L250.7,677.1 L251.7,676.9 L252.7,676.7 L253.7,676.4 L254.7,676.2 L255.7,676.0 L256.7,675.9 L257.7,675.6 L258.7,675.4 L259.7,675.2 L260.7,674.9 L261.7,674.5 L262.7,674.2 L263.7,673.7 L264.7,673.5 L265.7,673.4 L266.7,672.8 L267.7,672.9 L268.7,672.5 L269.7,671.9 L270.7,671.7 L271.7,671.0 L272.7,670.7 L273.7,670.4 L274.7,670.0 L275.7,669.6 L276.7,669.0 L277.7,669.1 L278.7,668.3 L279.7,667.9 L280.7,667.5 L281.7,666.9 L282.7,666.3 L283.7,665.7 L284.7,664.9 L285.7,665.0 L286.7,664.0 L287.7,663.3 L288.7,662.8 L289.7,662.1 L290.7,662.2 L291.7,661.3 L292.7,660.8 L293.7,660.2 L294.7,659.4 L295.7,658.8 L296.7,657.9 L297.7,657.5 L298.7,656.9 L299.7,656.6 L300.7,656.0 L301.7,656.2 L302.7,656.0 L303.7,655.8 L304.7,655.6 L305.7,656.4 L306.7,656.8 L307.7,657.1 L308.7,657.5 L309.7,658.6 L310.7,659.6 L311.7,659.9 L312.7,661.4 L313.7,662.0 L314.7,663.4 L315.7,664.9 L316.7,665.7 L317.7,666.9 L318.7,667.9 L319.7,669.1 L320.7,670.6 L321.7,671.5 L322.7,672.3 L323.7,673.2 L324.7,674.2 L325.7,675.4 L326.7,676.0 L327.7,676.8 L328.7,677.4 L329.7,677.9 L330.7,678.8 L331.7,679.2 L332.7,679.6 L333.7,680.0 L334.7,680.4 L335.7,680.8 L336.7,681.0 L337.7,681.4 L338.7,681.6 L339.7,681.8 L340.7,681.9 L341.7,682.1 L342.7,682.2 L343.7,682.4 L344.7,682.4 L345.7,682.5 L346.7,682.5 L347.7,682.5 L348.7,682.6 L349.7,682.6 L350.7,682.6 L351.7,682.6 L352.7,682.8 L353.7,682.7 L354.7,682.6 L355.7,682.7 L356.7,682.7 L357.7,682.8 L358.7,682.8 L359.7,682.7 L360.7,682.8 L361.7,682.7 L362.7,682.8 L363.7,682.8 L364.7,682.8 L365.7,682.8 L366.7,682.8 L367.7,682.7 L368.7,682.7 L369.7,682.8 L370.7,682.8 L371.7,682.7 L372.7,682.8 L373.7,682.8 L374.7,682.7 L375.7,682.7 L376.7,682.8 L377.7,682.8 L378.7,682.9 L379.7,682.7 L380.7,682.7 L381.7,682.8 L382.7,682.8 L383.7,682.7 L384.7,682.8 L385.7,682.8 L386.7,682.8 L387.7,682.8 L388.7,682.8 L389.7,682.7 L390.7,682.8 L391.7,682.8 L392.7,682.9 L393.7,682.7 L394.7,682.7 L395.7,682.7 L396.7,682.8 L397.7,682.6 L398.7,682.7 L399.7,682.9 L400.7,682.8 L401.7,682.7 L402.7,682.8 L403.7,682.8 L404.7,682.8 L405.7,682.8 L406.7,682.7 L407.7,682.8 L408.7,682.8 L409.7,682.8 L410.7,682.8 L411.7,682.7 L412.7,682.9 L413.7,682.7 L414.7,682.8 L415.7,682.7 L416.7,682.8 L417.7,682.7 L418.7,682.7 L419.7,682.8 L420.7,682.8 L421.7,682.9 L422.7,682.9 L423.7,682.8 L424.7,682.9 L425.7,682.8 L426.7,682.9 L427.7,682.7 L428.7,682.9 L429.7,682.7 L430.7,682.8 L431.7,682.7 L432.7,682.8 L433.7,682.7 L434.7,682.6 L435.7,682.7 L436.7,682.8 L437.7,682.8 L438.7,682.6 L439.7,682.7 L440.7,682.7 L441.7,682.8 L442.7,682.8 L443.7,682.7 L444.7,682.7 L445.7,682.8 L446.7,682.7 L447.7,682.8 L448.7,682.7 L449.7,682.8 L450.7,682.7 L451.7,682.8 L452.7,682.8 L453.7,682.8 L454.7,682.7 L455.7,682.8 L456.7,682.7 L457.7,682.8 L458.7,682.8 L459.7,683.0 L460.7,682.8 L461.7,682.8 L462.7,682.8 L463.7,682.8 L464.7,682.8 L465.7,682.8 L466.7,682.8 L467.7,682.9 L468.7,682.9 L469.7,682.7 L470.7,682.8 L471.7,682.8 L472.7,682.6 L473.7,682.7 L474.7,682.7 L475.7,682.7 L476.7,682.8 L477.7,682.7 L478.7,682.8 L479.7,682.8 L480.7,682.8 L481.7,682.7 L482.7,682.8 L483.7,682.7 L484.7,682.8 L485.7,682.8 L486.7,682.9 L486.9,682.7" fill="none" stroke="#ff00ff" stroke-width="4.0" stroke-linejoin="round" />
<path d="M90.7,654.7 L91.7,654.6 L92.7,654.6 L93.7,654.6 L94.7,654.7 L95.7,654.6 L96.7,654.7 L97.7,654.7 L98.7,654.6 L99.7,654.6 L100.7,654.7 L101.7,654.6 L102.7,654.6 L103.7,654.6 L104.7,654.6 L105.7,654.6 L106.7,654.6 L107.7,654.6 L108.7,654.6 L109.7,654.6 L110.7,654.6 L111.7,654.6 L112.7,654.5 L113.7,654.6 L114.7,654.6 L115.7,654.6 L116.7,654.5 L117.7,654.6 L118.7,654.5 L119.7,654.6 L120.7,654.5 L121.7,654.5 L122.7,654.5 L123.7,654.4 L124.7,654.6 L125.7,654.4 L126.7,654.4 L127.7,654.4 L128.7,654.4 L129.7,654.5 L130.7,654.5 L131.7,654.5 L132.7,654.5 L133.7,654.3 L134.7,654.4 L135.7,654.3 L136.7,654.4 L137.7,654.4 L138.7,654.3 L139.7,654.4 L140.7,654.3 L141.7,654.4 L142.7,654.4 L143.7,654.4 L144.7,654.3 L145.7,654.3 L146.7,654.3 L147.7,654.4 L148.7,654.2 L149.7,654.3 L150.7,654.2 L151.7,654.2 L152.7,654.2 L153.7,654.1 L154.7,654.2 L155.7,654.2 L156.7,654.1 L157.7,654.2 L158.7,654.0 L159.7,654.0 L160.7,654.0 L161.7,654.0 L162.7,654.2 L163.7,654.0 L164.7,654.0 L165.7,654.0 L166.7,654.1 L167.7,653.9 L168.7,653.9 L169.7,653.9 L170.7,653.8 L171.7,653.8 L172.7,653.7 L173.7,653.8 L174.7,653.8 L175.7,653.7 L176.7,653.7 L177.7,653.6 L178.7,653.6 L179.7,653.6 L180.7,653.6 L181.7,653.6 L182.7,653.4 L183.7,653.5 L184.7,653.5 L185.7,653.3 L186.7,653.3 L187.7,653.3 L188.7,653.3 L189.7,653.3 L190.7,653.2 L191.7,653.2 L192.7,653.2 L193.7,653.1 L194.7,653.1 L195.7,653.0 L196.7,652.8 L197.7,652.8 L198.7,652.8 L199.7,652.7 L200.7,652.7 L201.7,652.6 L202.7,652.7 L203.7,652.6 L204.7,652.5 L205.7,652.3 L206.7,652.3 L207.7,652.3 L208.7,652.2 L209.7,652.1 L210.7,652.0 L211.7,651.9 L212.7,652.0 L213.7,651.9 L214.7,651.6 L215.7,651.6 L216.7,651.5 L217.7,651.5 L218.7,651.3 L219.7,651.1 L220.7,651.2 L221.7,651.0 L222.7,651.0 L223.7,650.9 L224.7,650.8 L225.7,650.7 L226.7,650.6 L227.7,650.3 L228.7,650.4 L229.7,650.2 L230.7,649.9 L231.7,649.8 L232.7,649.7 L233.7,649.6 L234.7,649.5 L235.7,649.2 L236.7,649.2 L237.7,649.0 L238.7,648.7 L239.7,648.8 L240.7,648.4 L241.7,648.2 L242.7,648.2 L243.7,648.1 L244.7,647.7 L245.7,647.7 L246.7,647.5 L247.7,647.1 L248.7,647.2 L249.7,646.8 L250.7,646.6 L251.7,646.0 L252.7,646.2 L253.7,645.8 L254.7,645.6 L255.7,645.1 L256.7,645.2 L257.7,645.0 L258.7,644.8 L259.7,643.8 L260.7,644.0 L261.7,643.7 L262.7,642.9 L263.7,642.9 L264.7,642.7 L265.7,642.6 L266.7,641.9 L267.7,641.7 L268.7,641.3 L269.7,641.0 L270.7,640.5 L271.7,640.3 L272.7,640.0 L273.7,639.1 L274.7,639.2 L275.7,638.4 L276.7,638.0 L277.7,637.8 L278.7,637.2 L279.7,636.8 L280.7,636.3 L281.7,635.8 L282.7,635.1 L283.7,634.5 L284.7,634.3 L285.7,633.7 L286.7,633.1 L287.7,632.4 L288.7,632.1 L289.7,631.3 L290.7,630.5 L291.7,630.2 L292.7,629.7 L293.7,629.2 L294.7,628.3 L295.7,627.8 L296.7,627.6 L297.7,627.0 L298.7,626.7 L299.7,626.7 L300.7,626.4 L301.7,626.6 L302.7,626.4 L303.7,626.9 L304.7,627.1 L305.7,627.9 L306.7,627.9 L307.7,628.6 L308.7,629.7 L309.7,630.2 L310.7,631.2 L311.7,632.4 L312.7,633.5 L313.7,634.2 L314.7,635.7 L315.7,636.8 L316.7,638.0 L317.7,639.2 L318.7,640.3 L319.7,641.6 L320.7,642.6 L321.7,643.5 L322.7,644.6 L323.7,645.6 L324.7,646.5 L325.7,647.3 L326.7,647.9 L327.7,648.7 L328.7,649.5 L329.7,649.9 L330.7,650.5 L331.7,650.9 L332.7,651.2 L333.7,651.5 L334.7,652.0 L335.7,652.2 L336.7,652.5 L337.7,652.6 L338.7,653.0 L339.7,653.1 L340.7,653.2 L341.7,653.4 L342.7,653.4 L343.7,653.5 L344.7,653.6 L345.7,653.6 L346.7,653.5 L347.7,653.8 L348.7,653.8 L349.7,653.8 L350.7,653.9 L351.7,653.7 L352.7,653.7 L353.7,653.9 L354.7,653.9 L355.7,653.8 L356.7,653.8 L357.7,653.9 L358.7,653.8 L359.7,653.9 L360.7,654.0 L361.7,653.9 L362.7,653.9 L363.7,653.9 L364.7,653.8 L365.7,653.9 L366.7,653.9 L367.7,653.8 L368.7,653.8 L369.7,654.0 L370.7,653.9 L371.7,653.8 L372.7,653.8 L373.7,654.0 L374.7,654.0 L375.7,653.8 L376.7,653.9 L377.7,653.9 L378.7,653.9 L379.7,653.8 L380.7,653.8 L381.7,653.9 L382.7,653.8 L383.7,653.8 L384.7,653.9 L385.7,653.9 L386.7,653.9 L387.7,653.9 L388.7,654.0 L389.7,653.8 L390.7,653.9 L391.7,653.8 L392.7,653.9 L393.7,653.9 L394.7,653.8 L395.7,653.8 L396.7,654.0 L397.7,653.9 L398.7,653.9 L399.7,653.9 L400.7,653.8 L401.7,653.8 L402.7,653.8 L403.7,653.8 L404.7,653.8 L405.7,653.9 L406.7,653.9 L407.7,653.9 L408.7,654.0 L409.7,653.8 L410.7,653.9 L411.7,653.9 L412.7,653.8 L413.7,653.9 L414.7,653.9 L415.7,653.8 L416.7,653.9 L417.7,653.9 L418.7,653.8 L419.7,653.7 L420.7,653.9 L421.7,653.8 L422.7,653.9 L423.7,653.8 L424.7,653.9 L425.7,653.9 L426.7,653.9 L427.7,653.9 L428.7,653.8 L429.7,653.7 L430.7,653.7 L431.7,653.8 L432.7,653.9 L433.7,653.8 L434.7,653.8 L435.7,653.8 L436.7,653.8 L437.7,653.8 L438.7,653.9 L439.7,653.8 L440.7,653.9 L441.7,653.8 L442.7,653.9 L443.7,653.9 L444.7,653.9 L445.7,653.9 L446.7,653.8 L447.7,653.8 L448.7,653.8 L449.7,653.8 L450.7,653.9 L451.7,653.9 L452.7,653.9 L453.7,653.9 L454.7,653.8 L455.7,653.9 L456.7,653.8 L457.7,653.9 L458.7,653.9 L459.7,653.8 L460.7,653.8 L461.7,653.9 L462.7,653.8 L463.7,653.8 L464.7,653.8 L465.7,653.9 L466.7,653.8 L467.7,653.9 L468.7,653.9 L469.7,653.9 L470.7,653.9 L471.7,653.8 L472.7,653.8 L473.7,653.8 L474.7,653.9 L475.7,653.8 L476.7,653.9 L477.7,653.9 L478.7,653.9 L479.7,653.7 L480.7,653.8 L481.7,653.8 L482.7,653.9 L483.7,653.9 L484.7,653.9 L485.7,654.0 L486.7,653.9 L486.9,653.9" fill="none" stroke="#808000" stroke-width="4.0" stroke-linejoin="round" />
<path d="M90.7,625.0 L91.7,625.0 L92.7,625.0 L93.7,625.0 L94.7,625.0 L95.7,625.0 L96.7,625.1 L97.7,624.9 L98.7,624.9 L99.7,625.0 L100.7,625.0 L101.7,624.9 L102.7,624.9 L103.7,625.1 L104.7,624.9 L105.7,624.8 L106.7,624.9 L107.7,624.9 L108.7,624.9 L109.7,624.9 L110.7,624.9 L111.7,624.8 L112.7,624.9 L113.7,624.8 L114.7,624.8 L115.7,624.8 L116.7,624.7 L117.7,624.8 L118.7,624.7 L119.7,624.8 L120.7,624.7 L121.7,624.7 L122.7,624.7 L123.7,624.8 L124.7,624.7 L125.7,624.7 L126.7,624.6 L127.7,624.6 L128.7,624.6 L129.7,624.6 L130.7,624.7 L131.7,624.6 L132.7,624.6 L133.7,624.6 L134.7,624.5 L135.7,624.6 L136.7,624.5 L137.7,624.5 L138.7,624.5 L139.7,624.5 L140.7,624.4 L141.7,624.4 L142.7,624.4 L143.7,624.4 L144.7,624.3 L145.7,624.2 L146.7,624.3 L147.7,624.3 L148.7,624.3 L149.7,624.2 L150.7,624.3 L151.7,624.1 L152.7,624.1 L153.7,624.2 L154.7,624.1 L155.7,624.1 L156.7,624.1 L157.7,623.9 L158.7,624.0 L159.7,624.0 L160.7,623.9 L161.7,623.8 L162.7,623.9 L163.7,623.8 L164.7,623.8 L165.7,623.8 L166.7,623.7 L167.7,623.6 L168.7,623.6 L169.7,623.6 L170.7,623.5 L171.7,623.5 L172.7,623.5 L173.7,623.4 L174.7,623.4 L175.7,623.3 L176.7,623.3 L177.7,623.3 L178.7,623.2 L179.7,623.1 L180.7,623.1 L181.7,623.0 L182.7,623.0 L183.7,623.0 L184.7,623.0 L185.7,622.9 L186.7,622.8 L187.7,622.7 L188.7,622.7 L189.7,622.6 L190.7,622.5 L191.7,622.4 L192.7,622.4 L193.7,622.3 L194.7,622.4 L195.7,622.2 L196.7,622.1 L197.7,622.1 L198.7,621.9 L199.7,621.9 L200.7,621.8 L201.7,621.9 L202.7,621.5 L203.7,621.5 L204.7,621.4 L205.7,621.4 L206.7,621.3 L207.7,621.1 L208.7,621.0 L209.7,621.0 L210.7,620.9 L211.7,620.6 L212.7,620.5 L213.7,620.6 L214.7,620.5 L215.7,620.4 L216.7,620.1 L217.7,620.0 L218.7,619.9 L219.7,619.8 L220.7,619.6 L221.7,619.5 L222.7,619.5 L223.7,619.2 L224.7,619.0 L225.7,618.9 L226.7,618.7 L227.7,618.6 L228.7,618.4 L229.7,618.2 L230.7,618.3 L231.7,618.0 L232.7,617.7 L233.7,617.7 L234.7,617.3 L235.7,617.2 L236.7,617.0 L237.7,616.7 L238.7,616.6 L239.7,616.4 L240.7,616.0 L241.7,615.9 L242.7,615.8 L243.7,615.6 L244.7,615.3 L245.7,615.4 L246.7,614.9 L247.7,614.5 L248.7,614.3 L249.7,614.0 L250.7,613.8 L251.7,613.5 L252.7,613.4 L253.7,612.8 L254.7,612.7 L255.7,612.4 L256.7,611.9 L257.7,611.8 L258.7,611.5 L259.7,611.0 L260.7,611.1 L261.7,610.5 L262.7,610.0 L263.7,609.6 L264.7,609.2 L265.7,609.1 L266.7,608.6 L267.7,608.0 L268.7,607.7 L269.7,607.3 L270.7,607.0 L271.7,606.6 L272.7,606.1 L273.7,606.0 L274.7,605.6 L275.7,605.0 L276.7,604.1 L277.7,604.1 L278.7,603.8 L279.7,603.2 L280.7,602.8 L281.7,602.4 L282.7,601.6 L283.7,601.0 L284.7,601.1 L285.7,600.5 L286.7,600.2 L287.7,599.7 L288.7,599.3 L289.7,599.2 L290.7,598.3 L291.7,598.2 L292.7,597.7 L293.7,597.6 L294.7,597.5 L295.7,597.3 L296.7,597.0 L297.7,596.7 L298.7,596.9 L299.7,597.1 L300.7,597.3 L301.7,597.7 L302.7,597.7 L303.7,597.8 L304.7,598.5 L305.7,599.2 L306.7,600.1 L307.7,600.5 L308.7,601.7 L309.7,602.6 L310.7,603.3 L311.7,604.6 L312.7,605.4 L313.7,606.6 L314.7,607.6 L315.7,608.8 L316.7,609.6 L317.7,610.9 L318.7,611.6 L319.7,612.8 L320.7,613.8 L321.7,615.0 L322.7,615.7 L323.7,616.4 L324.7,617.2 L325.7,618.0 L326.7,618.6 L327.7,619.5 L328.7,619.7 L329.7,620.4 L330.7,620.7 L331.7,621.4 L332.7,621.7 L333.7,622.2 L334.7,622.4 L335.7,622.7 L336.7,622.9 L337.7,623.2 L338.7,623.3 L339.7,623.3 L340.7,623.6 L341.7,623.7 L342.7,623.9 L343.7,624.0 L344.7,624.0 L345.7,624.1 L346.7,624.1 L347.7,624.1 L348.7,624.3 L349.7,624.3 L350.7,624.3 L351.7,624.2 L352.7,624.3 L353.7,624.3 L354.7,624.3 L355.7,624.3 L356.7,624.3 L357.7,624.3 L358.7,624.4 L359.7,624.3 L360.7,624.3 L361.7,624.3 L362.7,624.4 L363.7,624.4 L364.7,624.4 L365.7,624.3 L366.7,624.4 L367.7,624.4 L368.7,624.4 L369.7,624.3 L370.7,624.3 L371.7,624.4 L372.7,624.4 L373.7,624.4 L374.7,624.4 L375.7,624.3 L376.7,624.5 L377.7,624.3 L378.7,624.4 L379.7,624.4 L380.7,624.4 L381.7,624.4 L382.7,624.4 L383.7,624.4 L384.7,624.4 L385.7,624.4 L386.7,624.5 L387.7,624.3 L388.7,624.3 L389.7,624.3 L390.7,624.4 L391.7,624.4 L392.7,624.4 L393.7,624.4 L394.7,624.4 L395.7,624.4 L396.7,624.3 L397.7,624.3 L398.7,624.4 L399.7,624.4 L400.7,624.4 L401.7,624.4 L402.7,624.4 L403.7,624.2 L404.7,624.5 L405.7,624.4 L406.7,624.4 L407.7,624.3 L408.7,624.4 L409.7,624.5 L410.7,624.5 L411.7,624.4 L412.7,624.3 L413.7,624.4 L414.7,624.4 L415.7,624.4 L416.7,624.3 L417.7,624.4 L418.7,624.4 L419.7,624.3 L420.7,624.4 L421.7,624.3 L422.7,624.3 L423.7,624.4 L424.7,624.4 L425.7,624.4 L426.7,624.3 L427.7,624.4 L428.7,624.4 L429.7,624.3 L430.7,624.4 L431.7,624.4 L432.7,624.4 L433.7,624.4 L434.7,624.3 L435.7,624.3 L436.7,624.4 L437.7,624.4 L438.7,624.4 L439.7,624.3 L440.7,624.4 L441.7,624.4 L442.7,624.4 L443.7,624.4 L444.7,624.5 L445.7,624.4 L446.7,624.4 L447.7,624.4 L448.7,624.3 L449.7,624.4 L450.7,624.4 L451.7,624.4 L452.7,624.4 L453.7,624.4 L454.7,624.3 L455.7,624.4 L456.7,624.4 L457.7,624.4 L458.7,624.2 L459.7,624.4 L460.7,624.4 L461.7,624.4 L462.7,624.4 L463.7,624.4 L464.7,624.4 L465.7,624.4 L466.7,624.4 L467.7,624.3 L468.7,624.3 L469.7,624.4 L470.7,624.3 L471.7,624.4 L472.7,624.3 L473.7,624.4 L474.7,624.4 L475.7,624.3 L476.7,624.3 L477.7,624.3 L478.7,624.3 L479.7,624.4 L480.7,624.4 L481.7,624.4 L482.7,624.3 L483.7,624.4 L484.7,624.4 L485.7,624.5 L486.7,624.3 L486.9,624.4" fill="none" stroke="#000080" stroke-width="4.0" stroke-linejoin="round" />
<path d="M90.7,595.5 L91.7,595.5 L92.7,595.4 L93.7,595.4 L94.7,595.5 L95.7,595.5 L96.7,595.4 L97.7,595.5 L98.7,595.5 L99.7,595.3 L100.7,595.3 L101.7,595.4 L102.7,595.4 L103.7,595.4 L104.7,595.3 L105.7,595.4 L106.7,595.3 L107.7,595.4 L108.7,595.2 L109.7,595.2 L110.7,595.3 L111.7,595.3 L112.7,595.2 L113.7,595.2 L114.7,595.2 L115.7,595.2 L116.7,595.2 L117.7,595.1 L118.7,595.1 L119.7,595.1 L120.7,595.2 L121.7,595.1 L122.7,595.1 L123.7,595.2 L124.7,595.1 L125.7,595.0 L126.7,595.1 L127.7,595.0 L128.7,595.0 L129.7,595.1 L130.7,594.9 L131.7,594.9 L132.7,595.0 L133.7,594.9 L134.7,594.9 L135.7,594.9 L136.7,594.9 L137.7,594.8 L138.7,594.9 L139.7,594.8 L140.7,594.8 L141.7,594.7 L142.7,594.7 L143.7,594.7 L144.7,594.8 L145.7,594.7 L146.7,594.7 L147.7,594.6 L148.7,594.6 L149.7,594.6 L150.7,594.6 L151.7,594.5 L152.7,594.5 L153.7,594.4 L154.7,594.4 L155.7,594.2 L156.7,594.4 L157.7,594.4 L158.7,594.4 L159.7,594.3 L160.7,594.2 L161.7,594.2 L162.7,594.1 L163.7,594.1 L164.7,594.1 L165.7,593.9 L166.7,594.1 L167.7,594.0 L168.7,594.0 L169.7,593.8 L170.7,593.9 L171.7,593.8 L172.7,593.6 L173.7,593.6 L174.7,593.7 L175.7,593.6 L176.7,593.6 L177.7,593.5 L178.7,593.6 L179.7,593.3 L180.7,593.3 L181.7,593.2 L182.7,593.2 L183.7,593.2 L184.7,593.1 L185.7,593.0 L186.7,593.0 L187.7,593.0 L188.7,593.0 L189.7,593.0 L190.7,592.8 L191.7,592.7 L192.7,592.7 L193.7,592.6 L194.7,592.6 L195.7,592.4 L196.7,592.2 L197.7,592.1 L198.7,592.2 L199.7,592.1 L200.7,592.0 L201.7,592.0 L202.7,591.7 L203.7,591.7 L204.7,591.7 L205.7,591.5 L206.7,591.4 L207.7,591.5 L208.7,591.3 L209.7,591.1 L210.7,591.0 L211.7,590.8 L212.7,590.8 L213.7,590.7 L214.7,590.4 L215.7,590.6 L216.7,590.5 L217.7,590.3 L218.7,590.2 L219.7,590.1 L220.7,589.8 L221.7,589.8 L222.7,589.6 L223.7,589.3 L224.7,589.2 L225.7,589.1 L226.7,589.1 L227.7,588.8 L228.7,588.8 L229.7,588.4 L230.7,588.2 L231.7,588.4 L232.7,588.3 L233.7,587.9 L234.7,587.6 L235.7,587.6 L236.7,587.1 L237.7,587.0 L238.7,586.7 L239.7,586.7 L240.7,586.5 L241.7,586.2 L242.7,586.0 L243.7,585.6 L244.7,585.5 L245.7,585.5 L246.7,585.1 L247.7,585.1 L248.7,584.5 L249.7,584.4 L250.7,584.1 L251.7,583.8 L252.7,583.7 L253.7,583.0 L254.7,583.2 L255.7,582.9 L256.7,582.5 L257.7,582.2 L258.7,581.8 L259.7,581.7 L260.7,581.3 L261.7,580.8 L262.7,580.6 L263.7,580.4 L264.7,580.0 L265.7,579.6 L266.7,579.2 L267.7,578.7 L268.7,578.4 L269.7,577.7 L270.7,577.7 L271.7,577.5 L272.7,576.8 L273.7,576.3 L274.7,576.2 L275.7,575.7 L276.7,575.3 L277.7,574.9 L278.7,574.5 L279.7,573.9 L280.7,573.3 L281.7,573.3 L282.7,572.6 L283.7,571.9 L284.7,571.7 L285.7,571.4 L286.7,570.5 L287.7,570.5 L288.7,569.8 L289.7,569.8 L290.7,569.2 L291.7,568.7 L292.7,568.6 L293.7,568.3 L294.7,567.7 L295.7,567.7 L296.7,567.4 L297.7,567.6 L298.7,567.2 L299.7,567.6 L300.7,567.4 L301.7,568.3 L302.7,568.2 L303.7,568.9 L304.7,569.8 L305.7,570.4 L306.7,571.1 L307.7,571.9 L308.7,572.9 L309.7,573.6 L310.7,575.0 L311.7,576.1 L312.7,577.2 L313.7,578.1 L314.7,579.4 L315.7,580.3 L316.7,581.4 L317.7,582.3 L318.7,583.2 L319.7,584.1 L320.7,584.8 L321.7,586.1 L322.7,586.8 L323.7,587.8 L324.7,588.1 L325.7,589.1 L326.7,589.6 L327.7,590.3 L328.7,590.7 L329.7,591.3 L330.7,591.7 L331.7,592.2 L332.7,592.5 L333.7,592.8 L334.7,593.2 L335.7,593.4 L336.7,593.6 L337.7,593.8 L338.7,593.9 L339.7,594.1 L340.7,594.2 L341.7,594.3 L342.7,594.2 L343.7,594.5 L344.7,594.5 L345.7,594.7 L346.7,594.8 L347.7,594.6 L348.7,594.8 L349.7,594.8 L350.7,594.8 L351.7,594.7 L352.7,594.8 L353.7,594.8 L354.7,594.9 L355.7,595.0 L356.7,594.9 L357.7,594.8 L358.7,595.0 L359.7,594.9 L360.7,594.9 L361.7,594.9 L362.7,594.9 L363.7,594.9 L364.7,594.9 L365.7,594.9 L366.7,595.0 L367.7,595.0 L368.7,594.9 L369.7,594.9 L370.7,594.9 L371.7,594.9 L372.7,594.9 L373.7,594.9 L374.7,594.9 L375.7,594.9 L376.7,594.9 L377.7,594.9 L378.7,594.9 L379.7,594.9 L380.7,594.9 L381.7,594.9 L382.7,594.9 L383.7,594.9 L384.7,594.9 L385.7,594.9 L386.7,594.9 L387.7,594.9 L388.7,594.9 L389.7,595.0 L390.7,594.9 L391.7,594.8 L392.7,594.9 L393.7,594.9 L394.7,594.9 L395.7,594.8 L396.7,594.9 L397.7,594.8 L398.7,594.9 L399.7,595.0 L400.7,594.9 L401.7,594.8 L402.7,594.8 L403.7,594.8 L404.7,594.8 L405.7,594.8 L406.7,594.9 L407.7,594.8 L408.7,594.9 L409.7,594.9 L410.7,594.9 L411.7,595.0 L412.7,594.9 L413.7,594.9 L414.7,595.0 L415.7,595.0 L416.7,594.8 L417.7,594.9 L418.7,594.9 L419.7,594.8 L420.7,595.0 L421.7,595.0 L422.7,594.8 L423.7,594.9 L424.7,594.8 L425.7,594.9 L426.7,594.9 L427.7,594.9 L428.7,595.0 L429.7,594.9 L430.7,594.9 L431.7,594.9 L432.7,594.9 L433.7,594.9 L434.7,594.9 L435.7,594.9 L436.7,594.9 L437.7,594.9 L438.7,594.8 L439.7,595.0 L440.7,594.9 L441.7,595.0 L442.7,594.9 L443.7,594.9 L444.7,594.9 L445.7,594.9 L446.7,594.9 L447.7,594.9 L448.7,594.8 L449.7,594.9 L450.7,594.9 L451.7,594.9 L452.7,594.8 L453.7,594.9 L454.7,594.8 L455.7,595.0 L456.7,594.9 L457.7,595.0 L458.7,594.9 L459.7,594.9 L460.7,594.9 L461.7,594.9 L462.7,594.9 L463.7,594.8 L464.7,594.9 L465.7,594.8 L466.7,594.9 L467.7,594.7 L468.7,594.9 L469.7,594.9 L470.7,594.9 L471.7,594.9 L472.7,594.9 L473.7,594.9 L474.7,595.0 L475.7,594.9 L476.7,594.9 L477.7,594.9 L478.7,594.9 L479.7,594.9 L480.7,594.9 L481.7,594.9 L482.7,595.0 L483.7,594.9 L484.7,595.0 L485.7,594.9 L486.7,594.8 L486.9,594.9" fill="none" stroke="#800000" stroke-width="4.0" stroke-linejoin="round" />
<path d="M90.7,566.0 L91.7,566.0 L92.7,565.9 L93.7,565.9 L94.7,565.9 L95.7,565.9 L96.7,565.9 L97.7,565.9 L98.7,566.0 L99.7,565.9 L100.7,565.9 L101.7,565.8 L102.7,565.8 L103.7,565.8 L104.7,565.9 L105.7,565.7 L106.7,565.7 L107.7,565.8 L108.7,565.8 L109.7,565.7 L110.7,565.7 L111.7,565.7 L112.7,565.8 L113.7,565.7 L114.7,565.7 L115.7,565.7 L116.7,565.6 L117.7,565.7 L118.7,565.6 L119.7,565.6 L120.7,565.5 L121.7,565.6 L122.7,565.5 L123.7,565.6 L124.7,565.4 L125.7,565.5 L126.7,565.5 L127.7,565.5 L128.7,565.4 L129.7,565.4 L130.7,565.4 L131.7,565.4 L132.7,565.4 L133.7,565.3 L134.7,565.3 L135.7,565.3 L136.7,565.3 L137.7,565.2 L138.7,565.2 L139.7,565.3 L140.7,565.3 L141.7,565.1 L142.7,565.1 L143.7,565.2 L144.7,565.0 L145.7,565.0 L146.7,565.0 L147.7,565.0 L148.7,565.0 L149.7,564.9 L150.7,564.9 L151.7,564.8 L152.7,564.9 L153.7,564.8 L154.7,564.7 L155.7,564.6 L156.7,564.6 L157.7,564.6 L158.7,564.3 L159.7,564.6 L160.7,564.5 L161.7,564.4 L162.7,564.4 L163.7,564.3 L164.7,564.3 L165.7,564.2 L166.7,564.2 L167.7,564.2 L168.7,564.1 L169.7,563.9 L170.7,564.0 L171.7,563.8 L172.7,563.9 L173.7,563.9 L174.7,563.8 L175.7,563.7 L176.7,563.6 L177.7,563.5 L178.7,563.5 L179.7,563.4 L180.7,563.3 L181.7,563.1 L182.7,563.2 L183.7,563.1 L184.7,563.0 L185.7,563.1 L186.7,562.8 L187.7,562.7 L188.7,562.8 L189.7,562.6 L190.7,562.6 L191.7,562.5 L192.7,562.4 L193.7,562.2 L194.7,562.3 L195.7,562.2 L196.7,561.9 L197.7,561.9 L198.7,561.9 L199.7,561.7 L200.7,561.5 L201.7,561.4 L202.7,561.4 L203.7,561.1 L204.7,561.1 L205.7,561.0 L206.7,560.8 L207.7,560.8 L208.7,560.6 L209.7,560.5 L210.7,560.4 L211.7,560.0 L212.7,560.1 L213.7,559.9 L214.7,559.8 L215.7,559.4 L216.7,559.5 L217.7,559.2 L218.7,558.9 L219.7,559.0 L220.7,558.6 L221.7,558.4 L222.7,558.4 L223.7,558.1 L224.7,558.0 L225.7,557.7 L226.7,557.6 L227.7,557.4 L228.7,557.1 L229.7,557.0 L230.7,556.8 L231.7,556.3 L232.7,556.3 L233.7,556.0 L234.7,555.7 L235.7,555.6 L236.7,555.5 L237.7,555.1 L238.7,554.5 L239.7,554.5 L240.7,554.1 L241.7,553.8 L242.7,553.6 L243.7,553.2 L244.7,553.2 L245.7,552.7 L246.7,552.4 L247.7,552.2 L248.7,551.9 L249.7,551.6 L250.7,551.2 L251.7,550.7 L252.7,550.4 L253.7,549.6 L254.7,549.4 L255.7,549.5 L256.7,548.9 L257.7,548.9 L258.7,548.5 L259.7,547.5 L260.7,547.4 L261.7,547.6 L262.7,546.4 L263.7,546.3 L264.7,545.7 L265.7,545.3 L266.7,544.9 L267.7,544.5 L268.7,544.3 L269.7,543.6 L270.7,543.4 L271.7,542.8 L272.7,542.6 L273.7,542.1 L274.7,541.5 L275.7,541.3 L276.7,540.8 L277.7,540.4 L278.7,540.4 L279.7,539.5 L280.7,539.7 L281.7,539.4 L282.7,538.9 L283.7,539.0 L284.7,538.8 L285.7,538.2 L286.7,538.4 L287.7,538.3 L288.7,538.0 L289.7,538.2 L290.7,538.3 L291.7,538.1 L292.7,538.0 L293.7,538.7 L294.7,538.7 L295.7,538.8 L296.7,539.4 L297.7,539.5 L298.7,540.3 L299.7,541.2 L300.7,540.9 L301.7,542.1 L302.7,542.5 L303.7,543.3 L304.7,543.9 L305.7,544.9 L306.7,545.5 L307.7,546.1 L308.7,546.7 L309.7,547.7 L310.7,548.8 L311.7,549.1 L312.7,550.2 L313.7,550.9 L314.7,551.3 L315.7,552.6 L316.7,553.1 L317.7,554.2 L318.7,554.8 L319.7,555.2 L320.7,555.9 L321.7,556.4 L322.7,557.0 L323.7,557.8 L324.7,558.3 L325.7,558.8 L326.7,559.3 L327.7,559.9 L328.7,560.4 L329.7,560.7 L330.7,561.1 L331.7,561.5 L332.7,562.0 L333.7,562.0 L334.7,562.4 L335.7,562.8 L336.7,563.0 L337.7,563.3 L338.7,563.6 L339.7,563.8 L340.7,563.8 L341.7,564.1 L342.7,564.2 L343.7,564.4 L344.7,564.4 L345.7,564.6 L346.7,564.6 L347.7,564.7 L348.7,564.8 L349.7,564.9 L350.7,564.9 L351.7,564.9 L352.7,565.1 L353.7,565.1 L354.7,565.2 L355.7,565.1 L356.7,565.1 L357.7,565.2 L358.7,565.2 L359.7,565.3 L360.7,565.4 L361.7,565.4 L362.7,565.4 L363.7,565.4 L364.7,565.3 L365.7,565.3 L366.7,565.4 L367.7,565.3 L368.7,565.3 L369.7,565.4 L370.7,565.4 L371.7,565.4 L372.7,565.3 L373.7,565.4 L374.7,565.4 L375.7,565.4 L376.7,565.3 L377.7,565.3 L378.7,565.3 L379.7,565.5 L380.7,565.3 L381.7,565.4 L382.7,565.4 L383.7,565.4 L384.7,565.4 L385.7,565.4 L386.7,565.4 L387.7,565.4 L388.7,565.4 L389.7,565.3 L390.7,565.3 L391.7,565.5 L392.7,565.3 L393.7,565.3 L394.7,565.5 L395.7,565.3 L396.7,565.4 L397.7,565.4 L398.7,565.4 L399.7,565.4 L400.7,565.3 L401.7,565.3 L402.7,565.4 L403.7,565.4 L404.7,565.4 L405.7,565.4 L406.7,565.4 L407.7,565.3 L408.7,565.4 L409.7,565.4 L410.7,565.4 L411.7,565.5 L412.7,565.4 L413.7,565.4 L414.7,565.3 L415.7,565.4 L416.7,565.4 L417.7,565.4 L418.7,565.4 L419.7,565.3 L420.7,565.4 L421.7,565.4 L422.7,565.5 L423.7,565.3 L424.7,565.4 L425.7,565.5 L426.7,565.4 L427.7,565.4 L428.7,565.5 L429.7,565.5 L430.7,565.4 L431.7,565.4 L432.7,565.4 L433.7,565.4 L434.7,565.4 L435.7,565.4 L436.7,565.4 L437.7,565.4 L438.7,565.4 L439.7,565.4 L440.7,565.3 L441.7,565.4 L442.7,565.4 L443.7,565.4 L444.7,565.4 L445.7,565.4 L446.7,565.4 L447.7,565.4 L448.7,565.4 L449.7,565.5 L450.7,565.4 L451.7,565.4 L452.7,565.3 L453.7,565.4 L454.7,565.4 L455.7,565.4 L456.7,565.4 L457.7,565.4 L458.7,565.4 L459.7,565.4 L460.7,565.3 L461.7,565.4 L462.7,565.4 L463.7,565.3 L464.7,565.4 L465.7,565.4 L466.7,565.4 L467.7,565.4 L468.7,565.4 L469.7,565.5 L470.7,565.4 L471.7,565.4 L472.7,565.4 L473.7,565.4 L474.7,565.3 L475.7,565.4 L476.7,565.3 L477.7,565.4 L478.7,565.3 L479.7,565.3 L480.7,565.4 L481.7,565.4 L482.7,565.3 L483.7,565.4 L484.7,565.5 L485.7,565.4 L486.7,565.4 L486.9,565.2" fill="none" stroke="#ff0080" stroke-width="4.0" stroke-linejoin="round" />
<path d="M90.7,535.9 L91.7,536.0 L92.7,536.0 L93.7,536.0 L94.7,536.0 L95.7,535.9 L96.7,535.9 L97.7,535.8 L98.7,536.0 L99.7,535.8 L100.7,535.8 L101.7,535.9 L102.7,535.8 L103.7,535.8 L104.7,535.7 L105.7,535.7 L106.7,535.7 L107.7,535.6 L108.7,535.6 L109.7,535.6 L110.7,535.6 L111.7,535.5 L112.7,535.5 L113.7,535.6 L114.7,535.5 L115.7,535.5 L116.7,535.5 L117.7,535.4 L118.7,535.3 L119.7,535.4 L120.7,535.3 L121.7,535.4 L122.7,535.4 L123.7,535.4 L124.7,535.2 L125.7,535.1 L126.7,535.2 L127.7,535.1 L128.7,535.2 L129.7,535.1 L130.7,535.0 L131.7,535.0 L132.7,535.0 L133.7,534.9 L134.7,534.9 L135.7,534.8 L136.7,534.8 L137.7,534.7 L138.7,534.8 L139.7,534.7 L140.7,534.7 L141.7,534.7 L142.7,534.5 L143.7,534.4 L144.7,534.4 L145.7,534.4 L146.7,534.4 L147.7,534.3 L148.7,534.4 L149.7,534.3 L150.7,534.2 L151.7,534.1 L152.7,534.1 L153.7,534.0 L154.7,534.0 L155.7,533.8 L156.7,533.8 L157.7,533.7 L158.7,533.8 L159.7,533.7 L160.7,533.6 L161.7,533.6 L162.7,533.5 L163.7,533.4 L164.7,533.5 L165.7,533.4 L166.7,533.3 L167.7,533.1 L168.7,533.1 L169.7,533.0 L170.7,533.0 L171.7,532.8 L172.7,532.8 L173.7,532.7 L174.7,532.5 L175.7,532.7 L176.7,532.5 L177.7,532.3 L178.7,532.2 L179.7,532.2 L180.7,532.1 L181.7,532.0 L182.7,531.8 L183.7,531.8 L184.7,531.8 L185.7,531.7 L186.7,531.4 L187.7,531.4 L188.7,531.2 L189.7,531.1 L190.7,531.1 L191.7,530.9 L192.7,531.0 L193.7,530.8 L194.7,530.6 L195.7,530.5 L196.7,530.6 L197.7,530.5 L198.7,530.2 L199.7,530.0 L200.7,530.0 L201.7,529.9 L202.7,529.6 L203.7,529.7 L204.7,529.3 L205.7,529.3 L206.7,529.0 L207.7,528.9 L208.7,528.7 L209.7,528.6 L210.7,528.5 L211.7,528.1 L212.7,528.0 L213.7,528.0 L214.7,527.7 L215.7,527.8 L216.7,527.2 L217.7,527.5 L218.7,526.9 L219.7,526.9 L220.7,526.8 L221.7,526.5 L222.7,526.0 L223.7,526.0 L224.7,525.8 L225.7,525.7 L226.7,525.5 L227.7,525.3 L228.7,525.1 L229.7,524.5 L230.7,524.6 L231.7,523.9 L232.7,524.0 L233.7,523.5 L234.7,523.2 L235.7,523.3 L236.7,522.9 L237.7,522.8 L238.7,522.1 L239.7,521.9 L240.7,521.8 L241.7,521.4 L242.7,521.3 L243.7,520.8 L244.7,520.6 L245.7,520.1 L246.7,520.3 L247.7,519.6 L248.7,519.1 L249.7,519.2 L250.7,518.8 L251.7,518.4 L252.7,518.1 L253.7,517.6 L254.7,517.3 L255.7,516.5 L256.7,516.3 L257.7,516.0 L258.7,515.9 L259.7,515.7 L260.7,515.0 L261.7,514.6 L262.7,514.5 L263.7,513.8 L264.7,513.6 L265.7,513.2 L266.7,512.5 L267.7,512.4 L268.7,512.0 L269.7,511.4 L270.7,511.0 L271.7,510.6 L272.7,510.8 L273.7,510.7 L274.7,510.1 L275.7,510.1 L276.7,509.3 L277.7,509.7 L278.7,509.7 L279.7,509.6 L280.7,509.0 L281.7,509.5 L282.7,509.3 L283.7,509.7 L284.7,509.6 L285.7,509.9 L286.7,510.1 L287.7,510.6 L288.7,510.8 L289.7,511.5 L290.7,511.8 L291.7,512.2 L292.7,512.6 L293.7,513.1 L294.7,513.7 L295.7,514.4 L296.7,514.9 L297.7,515.6 L298.7,516.1 L299.7,516.8 L300.7,517.3 L301.7,517.7 L302.7,518.9 L303.7,519.6 L304.7,519.9 L305.7,521.2 L306.7,521.3 L307.7,522.3 L308.7,522.8 L309.7,523.5 L310.7,524.3 L311.7,524.8 L312.7,525.3 L313.7,525.8 L314.7,526.3 L315.7,527.1 L316.7,527.8 L317.7,528.2 L318.7,528.6 L319.7,529.1 L320.7,529.6 L321.7,530.2 L322.7,530.3 L323.7,530.9 L324.7,531.2 L325.7,531.5 L326.7,531.8 L327.7,532.3 L328.7,532.5 L329.7,532.8 L330.7,533.0 L331.7,533.4 L332.7,533.5 L333.7,533.8 L334.7,533.9 L335.7,534.1 L336.7,534.3 L337.7,534.4 L338.7,534.5 L339.7,534.8 L340.7,534.9 L341.7,535.0 L342.7,535.0 L343.7,535.1 L344.7,535.1 L345.7,535.3 L346.7,535.4 L347.7,535.4 L348.7,535.4 L349.7,535.6 L350.7,535.6 L351.7,535.6 L352.7,535.6 L353.7,535.7 L354.7,535.7 L355.7,535.7 L356.7,535.7 L357.7,535.7 L358.7,535.7 L359.7,535.7 L360.7,535.8 L361.7,535.8 L362.7,535.8 L363.7,535.9 L364.7,535.9 L365.7,535.9 L366.7,535.8 L367.7,535.9 L368.7,535.9 L369.7,535.9 L370.7,536.0 L371.7,535.9 L372.7,535.9 L373.7,535.9 L374.7,535.8 L375.7,535.9 L376.7,535.8 L377.7,536.0 L378.7,535.9 L379.7,535.8 L380.7,535.9 L381.7,535.8 L382.7,535.9 L383.7,535.9 L384.7,535.9 L385.7,535.8 L386.7,535.9 L387.7,535.9 L388.7,535.9 L389.7,536.0 L390.7,536.0 L391.7,536.0 L392.7,535.9 L393.7,535.9 L394.7,535.9 L395.7,535.9 L396.7,535.8 L397.7,535.9 L398.7,536.0 L399.7,535.8 L400.7,535.9 L401.7,535.9 L402.7,535.9 L403.7,535.9 L404.7,535.9 L405.7,535.8 L406.7,535.9 L407.7,535.9 L408.7,535.9 L409.7,535.9 L410.7,535.9 L411.7,535.8 L412.7,535.8 L413.7,535.9 L414.7,535.9 L415.7,535.8 L416.7,535.9 L417.7,536.0 L418.7,535.9 L419.7,536.0 L420.7,535.8 L421.7,535.9 L422.7,536.0 L423.7,536.0 L424.7,535.9 L425.7,535.9 L426.7,535.9 L427.7,535.8 L428.7,535.9 L429.7,535.8 L430.7,535.9 L431.7,535.9 L432.7,536.0 L433.7,535.9 L434.7,535.9 L435.7,535.9 L436.7,535.8 L437.7,535.9 L438.7,535.9 L439.7,535.9 L440.7,536.0 L441.7,535.8 L442.7,535.9 L443.7,535.9 L444.7,535.8 L445.7,536.0 L446.7,535.9 L447.7,536.0 L448.7,535.9 L449.7,536.0 L450.7,535.9 L451.7,536.0 L452.7,535.9 L453.7,535.9 L454.7,535.8 L455.7,535.9 L456.7,535.9 L457.7,535.9 L458.7,535.9 L459.7,535.8 L460.7,535.9 L461.7,535.9 L462.7,535.9 L463.7,535.9 L464.7,535.9 L465.7,535.9 L466.7,536.0 L467.7,535.9 L468.7,535.8 L469.7,535.9 L470.7,536.0 L471.7,535.9 L472.7,536.0 L473.7,535.7 L474.7,535.9 L475.7,535.9 L476.7,535.9 L477.7,536.0 L478.7,535.9 L479.7,535.9 L480.7,535.9 L481.7,536.0 L482.7,535.8 L483.7,535.9 L484.7,535.9 L485.7,535.9 L486.7,535.9 L486.9,535.9" fill="none" stroke="#008000" stroke-width="4.0" stroke-linejoin="round" />
<path d="M592.6,777.4 L593.6,777.4 L594.6,777.4 L595.6,777.6 L596.6,777.4 L597.6,777.5 L598.6,777.3 L599.6,777.3 L600.6,777.3 L601.6,777.4 L602.6,777.5 L603.6,777.3 L604.6,777.6 L605.6,777.6 L606.6,777.4 L607.6,777.3 L608.6,777.0 L609.6,777.4 L610.6,777.3 L611.6,777.0 L612.6,777.4 L613.6,777.2 L614.6,777.3 L615.6,777.1 L616.6,777.2 L617.6,777.1 L618.6,777.0 L619.6,777.2 L620.6,777.4 L621.6,776.9 L622.6,777.2 L623.6,777.1 L624.6,777.1 L625.6,777.4 L626.6,777.3 L627.6,776.9 L628.6,776.8 L629.6,777.0 L630.6,776.9 L631.6,776.9 L632.6,776.8 L633.6,777.0 L634.6,777.1 L635.6,776.7 L636.6,776.7 L637.6,777.0 L638.6,777.0 L639.6,777.0 L640.6,776.7 L641.6,776.7 L642.6,776.4 L643.6,776.6 L644.6,776.5 L645.6,777.0 L646.6,776.7 L647.6,776.6 L648.6,776.5 L649.6,776.5 L650.6,776.2 L651.6,776.9 L652.6,776.6 L653.6,776.6 L654.6,776.3 L655.6,776.6 L656.6,776.6 L657.6,776.5 L658.6,776.6 L659.6,776.3 L660.6,776.5 L661.6,776.5 L662.6,776.4 L663.6,776.4 L664.6,776.3 L665.6,776.2 L666.6,776.3 L667.6,776.1 L668.6,776.1 L669.6,776.5 L670.6,776.2 L671.6,776.3 L672.6,776.4 L673.6,776.3 L674.6,776.0 L675.6,776.0 L676.6,776.1 L677.6,776.0 L678.6,775.9 L679.6,776.0 L680.6,775.9 L681.6,775.9 L682.6,776.0 L683.6,775.9 L684.6,775.8 L685.6,775.9 L686.6,776.1 L687.6,775.5 L688.6,775.6 L689.6,775.5 L690.6,775.8 L691.6,775.5 L692.6,775.7 L693.6,775.7 L694.6,775.4 L695.6,775.3 L696.6,775.2 L697.6,775.4 L698.6,775.1 L699.6,775.1 L700.6,775.1 L701.6,775.0 L702.6,775.3 L703.6,775.4 L704.6,774.6 L705.6,774.8 L706.6,774.9 L707.6,774.7 L708.6,774.7 L709.6,774.7 L710.6,774.8 L711.6,774.6 L712.6,774.4 L713.6,774.5 L714.6,774.3 L715.6,774.1 L716.6,773.8 L717.6,773.6 L718.6,773.9 L719.6,774.2 L720.6,774.1 L721.6,773.4 L722.6,773.7 L723.6,773.4 L724.6,773.4 L725.6,772.8 L726.6,773.2 L727.6,773.0 L728.6,773.1 L729.6,773.0 L730.6,772.1 L731.6,772.3 L732.6,772.7 L733.6,772.3 L734.6,772.4 L735.6,772.0 L736.6,771.5 L737.6,771.6 L738.6,771.7 L739.6,771.6 L740.6,771.6 L741.6,770.6 L742.6,771.0 L743.6,770.1 L744.6,770.2 L745.6,770.0 L746.6,770.1 L747.6,769.9 L748.6,770.0 L749.6,769.1 L750.6,769.6 L751.6,769.2 L752.6,768.8 L753.6,768.2 L754.6,768.7 L755.6,768.2 L756.6,768.1 L757.6,767.3 L758.6,766.7 L759.6,766.6 L760.6,766.7 L761.6,766.8 L762.6,767.0 L763.6,765.5 L764.6,766.4 L765.6,764.0 L766.6,765.3 L767.6,764.2 L768.6,765.4 L769.6,763.9 L770.6,764.7 L771.6,763.6 L772.6,763.2 L773.6,763.6 L774.6,762.9 L775.6,761.4 L776.6,763.0 L777.6,761.4 L778.6,762.4 L779.6,760.5 L780.6,760.0 L781.6,759.9 L782.6,758.3 L783.6,758.2 L784.6,755.6 L785.6,756.5 L786.6,755.4 L787.6,754.3 L788.6,754.2 L789.6,753.3 L790.6,752.2 L791.6,751.6 L792.6,750.1 L793.6,749.6 L794.6,750.0 L795.6,748.2 L796.6,747.8 L797.6,745.2 L798.6,744.7 L799.6,743.9 L800.6,742.3 L801.6,740.7 L802.6,740.2 L803.6,740.0 L804.6,740.5 L805.6,739.3 L806.6,738.5 L807.6,738.4 L808.6,738.4 L809.6,739.0 L810.6,737.4 L811.6,738.6 L812.6,739.3 L813.6,738.7 L814.6,739.6 L815.6,738.3 L816.6,739.1 L817.6,740.9 L818.6,740.1 L819.6,741.1 L820.6,741.4 L821.6,742.6 L822.6,743.3 L823.6,746.1 L824.6,746.2 L825.6,747.0 L826.6,748.5 L827.6,748.9 L828.6,749.9 L829.6,750.9 L830.6,752.4 L831.6,753.5 L832.6,753.3 L833.6,754.6 L834.6,755.9 L835.6,758.9 L836.6,758.0 L837.6,758.5 L838.6,760.2 L839.6,761.8 L840.6,761.2 L841.6,762.3 L842.6,762.5 L843.6,763.8 L844.6,765.8 L845.6,765.8 L846.6,766.4 L847.6,767.6 L848.6,768.6 L849.6,769.0 L850.6,769.4 L851.6,770.2 L852.6,771.8 L853.6,771.4 L854.6,772.3 L855.6,772.2 L856.6,773.3 L857.6,773.6 L858.6,773.6 L859.6,774.4 L860.6,774.2 L861.6,774.6 L862.6,774.7 L863.6,774.9 L864.6,775.3 L865.6,775.3 L866.6,775.4 L867.6,775.8 L868.6,775.4 L869.6,775.6 L870.6,775.7 L871.6,775.8 L872.6,776.1 L873.6,776.1 L874.6,776.2 L875.6,776.2 L876.6,776.6 L877.6,776.2 L878.6,776.3 L879.6,776.5 L880.6,776.5 L881.6,776.4 L882.6,776.3 L883.6,776.2 L884.6,776.4 L885.6,776.3 L886.6,776.2 L887.6,776.2 L888.6,776.6 L889.6,776.5 L890.6,776.7 L891.6,776.3 L892.6,776.4 L893.6,776.3 L894.6,776.4 L895.6,776.3 L896.6,776.4 L897.6,776.2 L898.6,776.4 L899.6,776.5 L900.6,776.2 L901.6,776.5 L902.6,776.6 L903.6,776.6 L904.6,776.4 L905.6,776.6 L906.6,776.8 L907.6,776.8 L908.6,776.5 L909.6,776.5 L910.6,776.7 L911.6,776.6 L912.6,776.6 L913.6,776.6 L914.6,776.6 L915.6,776.5 L916.6,776.6 L917.6,776.6 L918.6,776.4 L919.6,776.8 L920.6,776.8 L921.6,776.9 L922.6,776.6 L923.6,776.6 L924.6,776.6 L925.6,776.6 L926.6,776.3 L927.6,776.7 L928.6,776.6 L929.6,776.8 L930.6,776.6 L931.6,776.9 L932.6,776.7 L933.6,776.6 L934.6,776.8 L935.6,776.6 L936.6,776.6 L937.6,776.7 L938.6,776.6 L939.6,776.6 L940.6,776.8 L941.6,776.6 L942.6,776.6 L943.6,776.8 L944.6,776.7 L945.6,776.7 L946.6,776.6 L947.6,776.4 L948.6,776.5 L949.6,776.3 L950.6,776.7 L951.6,776.7 L952.6,776.6 L953.6,776.5 L954.6,776.5 L955.6,776.4 L956.6,776.5 L957.6,776.4 L958.6,776.4 L959.6,776.8 L960.6,776.4 L961.6,776.6 L962.6,776.7 L963.6,776.1 L964.6,776.4 L965.6,776.3 L966.6,776.3 L967.6,776.4 L968.6,776.2 L969.6,776.0 L970.6,776.5 L971.6,776.2 L972.6,776.4 L973.6,776.4 L974.6,776.2 L975.6,776.2 L976.6,776.3 L977.6,776.4 L978.6,776.2 L979.6,776.2 L980.6,775.8 L981.6,775.8 L982.6,775.9 L983.6,776.0 L984.6,776.0 L985.6,776.2 L986.6,776.0 L987.6,775.8 L988.6,776.1 L988.8,775.9" fill="none" stroke="#000000" stroke-width="5.6" stroke-linejoin="round" />
<path d="M592.6,735.0 L593.6,735.2 L594.6,735.3 L595.6,735.0 L596.6,735.1 L597.6,735.1 L598.6,735.0 L599.6,735.1 L600.6,735.0 L601.6,735.1 L602.6,735.1 L603.6,735.0 L604.6,735.2 L605.6,735.0 L606.6,735.0 L607.6,735.4 L608.6,735.4 L609.6,735.2 L610.6,735.3 L611.6,735.2 L612.6,735.0 L613.6,735.2 L614.6,735.1 L615.6,735.3 L616.6,734.9 L617.6,735.2 L618.6,735.0 L619.6,735.0 L620.6,735.0 L621.6,734.9 L622.6,734.7 L623.6,734.9 L624.6,735.1 L625.6,734.9 L626.6,735.0 L627.6,734.7 L628.6,734.9 L629.6,735.0 L630.6,734.9 L631.6,734.8 L632.6,734.7 L633.6,735.0 L634.6,734.8 L635.6,735.0 L636.6,734.9 L637.6,734.9 L638.6,735.1 L639.6,734.8 L640.6,734.9 L641.6,734.8 L642.6,734.8 L643.6,734.9 L644.6,734.9 L645.6,734.9 L646.6,734.7 L647.6,734.7 L648.6,734.7 L649.6,734.6 L650.6,734.5 L651.6,734.2 L652.6,734.5 L653.6,734.5 L654.6,734.7 L655.6,734.6 L656.6,734.7 L657.6,734.8 L658.6,734.6 L659.6,734.5 L660.6,734.7 L661.6,734.4 L662.6,734.4 L663.6,734.5 L664.6,734.4 L665.6,734.5 L666.6,734.1 L667.6,734.3 L668.6,734.4 L669.6,734.0 L670.6,734.2 L671.6,734.2 L672.6,733.8 L673.6,734.4 L674.6,734.1 L675.6,734.0 L676.6,734.2 L677.6,733.6 L678.6,734.0 L679.6,733.8 L680.6,733.9 L681.6,733.6 L682.6,733.9 L683.6,733.3 L684.6,733.5 L685.6,733.6 L686.6,733.5 L687.6,733.4 L688.6,733.3 L689.6,733.4 L690.6,733.3 L691.6,733.2 L692.6,733.0 L693.6,733.2 L694.6,733.1 L695.6,732.9 L696.6,733.2 L697.6,732.7 L698.6,733.4 L699.6,732.8 L700.6,732.6 L701.6,732.4 L702.6,732.8 L703.6,732.7 L704.6,732.5 L705.6,732.4 L706.6,732.5 L707.6,732.3 L708.6,732.7 L709.6,732.5 L710.6,732.2 L711.6,731.9 L712.6,732.5 L713.6,732.0 L714.6,731.8 L715.6,732.2 L716.6,732.0 L717.6,731.3 L718.6,731.3 L719.6,731.5 L720.6,731.2 L721.6,731.3 L722.6,731.9 L723.6,732.0 L724.6,731.3 L725.6,731.4 L726.6,731.0 L727.6,730.5 L728.6,730.1 L729.6,730.7 L730.6,730.4 L731.6,730.7 L732.6,730.7 L733.6,730.0 L734.6,730.3 L735.6,729.8 L736.6,729.7 L737.6,729.4 L738.6,729.7 L739.6,729.6 L740.6,728.9 L741.6,729.1 L742.6,728.7 L743.6,728.3 L744.6,728.2 L745.6,727.9 L746.6,727.6 L747.6,727.8 L748.6,727.1 L749.6,727.1 L750.6,726.8 L751.6,726.5 L752.6,726.0 L753.6,725.5 L754.6,725.0 L755.6,725.7 L756.6,725.4 L757.6,724.4 L758.6,724.8 L759.6,724.0 L760.6,723.8 L761.6,723.7 L762.6,722.6 L763.6,722.2 L764.6,721.4 L765.6,721.9 L766.6,721.5 L767.6,721.2 L768.6,720.8 L769.6,720.2 L770.6,720.3 L771.6,718.5 L772.6,718.8 L773.6,718.4 L774.6,717.3 L775.6,717.8 L776.6,716.5 L777.6,716.5 L778.6,715.7 L779.6,714.6 L780.6,715.5 L781.6,714.0 L782.6,712.0 L783.6,711.0 L784.6,709.7 L785.6,709.8 L786.6,709.2 L787.6,709.3 L788.6,708.3 L789.6,708.4 L790.6,706.6 L791.6,704.2 L792.6,704.1 L793.6,703.0 L794.6,701.9 L795.6,702.0 L796.6,702.5 L797.6,700.0 L798.6,698.1 L799.6,698.7 L800.6,700.7 L801.6,697.4 L802.6,697.4 L803.6,696.2 L804.6,697.0 L805.6,697.5 L806.6,695.9 L807.6,696.3 L808.6,694.4 L809.6,695.7 L810.6,694.8 L811.6,696.6 L812.6,696.7 L813.6,697.7 L814.6,697.1 L815.6,698.8 L816.6,699.3 L817.6,699.6 L818.6,700.7 L819.6,701.6 L820.6,703.3 L821.6,705.3 L822.6,705.7 L823.6,706.7 L824.6,708.8 L825.6,709.1 L826.6,710.7 L827.6,711.9 L828.6,712.6 L829.6,713.8 L830.6,715.1 L831.6,717.4 L832.6,717.1 L833.6,718.4 L834.6,720.7 L835.6,722.6 L836.6,723.1 L837.6,723.3 L838.6,724.9 L839.6,725.8 L840.6,726.5 L841.6,727.7 L842.6,728.5 L843.6,729.0 L844.6,730.2 L845.6,730.4 L846.6,731.4 L847.6,732.0 L848.6,732.5 L849.6,732.5 L850.6,732.8 L851.6,732.8 L852.6,733.3 L853.6,733.9 L854.6,733.3 L855.6,733.5 L856.6,734.0 L857.6,734.0 L858.6,733.6 L859.6,733.9 L860.6,734.0 L861.6,733.7 L862.6,734.1 L863.6,733.7 L864.6,734.0 L865.6,733.9 L866.6,733.9 L867.6,733.9 L868.6,734.1 L869.6,734.0 L870.6,734.0 L871.6,734.0 L872.6,734.0 L873.6,734.3 L874.6,734.1 L875.6,734.2 L876.6,734.2 L877.6,734.1 L878.6,734.2 L879.6,734.3 L880.6,734.1 L881.6,734.2 L882.6,733.8 L883.6,734.1 L884.6,734.4 L885.6,734.1 L886.6,734.4 L887.6,733.9 L888.6,734.4 L889.6,734.1 L890.6,734.1 L891.6,734.3 L892.6,734.4 L893.6,734.2 L894.6,734.1 L895.6,734.2 L896.6,734.5 L897.6,734.4 L898.6,734.5 L899.6,734.2 L900.6,734.2 L901.6,734.2 L902.6,734.3 L903.6,734.4 L904.6,734.6 L905.6,734.4 L906.6,734.3 L907.6,734.5 L908.6,734.2 L909.6,734.1 L910.6,734.3 L911.6,734.2 L912.6,734.2 L913.6,734.3 L914.6,734.2 L915.6,734.3 L916.6,734.4 L917.6,734.4 L918.6,734.5 L919.6,734.4 L920.6,734.3 L921.6,733.9 L922.6,734.5 L923.6,734.1 L924.6,734.3 L925.6,734.8 L926.6,734.3 L927.6,734.0 L928.6,734.5 L929.6,734.2 L930.6,734.3 L931.6,734.4 L932.6,734.6 L933.6,734.6 L934.6,734.4 L935.6,734.5 L936.6,734.2 L937.6,734.4 L938.6,734.2 L939.6,734.4 L940.6,734.2 L941.6,734.1 L942.6,734.4 L943.6,734.0 L944.6,734.1 L945.6,734.4 L946.6,734.3 L947.6,734.3 L948.6,734.3 L949.6,734.5 L950.6,734.0 L951.6,734.1 L952.6,734.2 L953.6,734.0 L954.6,734.2 L955.6,734.3 L956.6,734.1 L957.6,734.3 L958.6,733.8 L959.6,733.9 L960.6,734.0 L961.6,734.5 L962.6,733.8 L963.6,734.2 L964.6,734.5 L965.6,734.1 L966.6,734.3 L967.6,734.1 L968.6,733.8 L969.6,734.1 L970.6,734.0 L971.6,734.1 L972.6,733.9 L973.6,734.2 L974.6,733.8 L975.6,734.2 L976.6,734.2 L977.6,734.1 L978.6,733.9 L979.6,733.9 L980.6,733.9 L981.6,734.4 L982.6,733.9 L983.6,733.8 L984.6,733.6 L985.6,733.7 L986.6,733.9 L987.6,733.8 L988.6,733.7 L988.8,733.7" fill="none" stroke="#ff0000" stroke-width="5.6" stroke-linejoin="round" />
<path d="M592.6,692.7 L593.6,692.6 L594.6,692.6 L595.6,692.8 L596.6,692.6 L597.6,692.9 L598.6,692.5 L599.6,692.7 L600.6,692.8 L601.6,692.9 L602.6,692.7 L603.6,692.6 L604.6,692.5 L605.6,692.7 L606.6,692.6 L607.6,692.6 L608.6,692.6 L609.6,692.7 L610.6,692.7 L611.6,692.7 L612.6,692.2 L613.6,692.5 L614.6,692.3 L615.6,692.3 L616.6,692.2 L617.6,692.3 L618.6,692.5 L619.6,692.4 L620.6,692.1 L621.6,692.2 L622.6,692.1 L623.6,692.2 L624.6,692.1 L625.6,692.0 L626.6,692.2 L627.6,692.0 L628.6,692.4 L629.6,691.9 L630.6,691.7 L631.6,691.9 L632.6,692.0 L633.6,691.9 L634.6,691.8 L635.6,691.6 L636.6,691.6 L637.6,691.6 L638.6,691.5 L639.6,691.5 L640.6,691.8 L641.6,691.8 L642.6,691.5 L643.6,691.4 L644.6,691.2 L645.6,691.0 L646.6,691.1 L647.6,691.1 L648.6,691.1 L649.6,690.9 L650.6,690.8 L651.6,691.1 L652.6,691.1 L653.6,690.4 L654.6,690.8 L655.6,690.9 L656.6,690.5 L657.6,690.4 L658.6,690.5 L659.6,690.4 L660.6,690.2 L661.6,690.6 L662.6,690.5 L663.6,690.2 L664.6,690.1 L665.6,690.0 L666.6,690.0 L667.6,689.6 L668.6,689.9 L669.6,689.9 L670.6,689.5 L671.6,689.5 L672.6,689.5 L673.6,689.4 L674.6,689.1 L675.6,689.2 L676.6,689.1 L677.6,689.0 L678.6,688.8 L679.6,688.5 L680.6,688.8 L681.6,688.9 L682.6,688.3 L683.6,688.0 L684.6,688.5 L685.6,688.3 L686.6,688.2 L687.6,687.9 L688.6,688.0 L689.6,687.4 L690.6,687.7 L691.6,687.6 L692.6,686.9 L693.6,686.3 L694.6,686.6 L695.6,686.4 L696.6,686.7 L697.6,686.5 L698.6,686.3 L699.6,686.9 L700.6,686.1 L701.6,686.0 L702.6,686.0 L703.6,685.2 L704.6,686.2 L705.6,685.6 L706.6,685.0 L707.6,685.0 L708.6,685.3 L709.6,685.5 L710.6,685.6 L711.6,685.3 L712.6,684.7 L713.6,684.8 L714.6,684.4 L715.6,685.3 L716.6,683.7 L717.6,685.0 L718.6,684.6 L719.6,684.1 L720.6,683.7 L721.6,683.2 L722.6,682.8 L723.6,682.6 L724.6,683.8 L725.6,683.0 L726.6,682.7 L727.6,682.4 L728.6,681.4 L729.6,682.0 L730.6,681.9 L731.6,682.1 L732.6,681.2 L733.6,681.6 L734.6,681.0 L735.6,680.8 L736.6,680.3 L737.6,680.6 L738.6,680.2 L739.6,679.1 L740.6,680.6 L741.6,681.2 L742.6,679.7 L743.6,680.4 L744.6,679.0 L745.6,678.7 L746.6,679.4 L747.6,678.6 L748.6,679.5 L749.6,678.6 L750.6,678.6 L751.6,677.7 L752.6,678.1 L753.6,677.8 L754.6,677.1 L755.6,676.4 L756.6,676.3 L757.6,675.3 L758.6,675.5 L759.6,675.3 L760.6,674.5 L761.6,675.3 L762.6,674.1 L763.6,675.2 L764.6,673.9 L765.6,673.6 L766.6,671.9 L767.6,671.9 L768.6,671.1 L769.6,672.3 L770.6,670.7 L771.6,671.9 L772.6,670.2 L773.6,670.0 L774.6,668.1 L775.6,668.5 L776.6,668.8 L777.6,668.9 L778.6,667.1 L779.6,668.0 L780.6,666.1 L781.6,666.6 L782.6,665.0 L783.6,664.5 L784.6,664.6 L785.6,664.7 L786.6,663.2 L787.6,663.9 L788.6,661.5 L789.6,661.6 L790.6,659.7 L791.6,660.3 L792.6,658.8 L793.6,658.8 L794.6,658.3 L795.6,656.3 L796.6,655.3 L797.6,656.1 L798.6,656.3 L799.6,655.5 L800.6,653.7 L801.6,654.4 L802.6,653.3 L803.6,654.2 L804.6,653.3 L805.6,655.5 L806.6,657.2 L807.6,656.4 L808.6,657.0 L809.6,658.3 L810.6,659.1 L811.6,659.9 L812.6,660.5 L813.6,660.2 L814.6,662.2 L815.6,661.8 L816.6,663.6 L817.6,662.9 L818.6,667.6 L819.6,669.7 L820.6,669.9 L821.6,669.9 L822.6,671.4 L823.6,673.4 L824.6,674.4 L825.6,674.4 L826.6,676.5 L827.6,677.7 L828.6,678.9 L829.6,679.5 L830.6,680.8 L831.6,681.7 L832.6,683.1 L833.6,683.7 L834.6,685.3 L835.6,685.7 L836.6,686.4 L837.6,687.0 L838.6,687.7 L839.6,687.9 L840.6,689.0 L841.6,689.2 L842.6,689.6 L843.6,689.9 L844.6,690.3 L845.6,690.6 L846.6,691.0 L847.6,691.1 L848.6,691.4 L849.6,691.6 L850.6,691.7 L851.6,692.3 L852.6,692.0 L853.6,692.2 L854.6,692.2 L855.6,692.2 L856.6,692.4 L857.6,692.5 L858.6,692.3 L859.6,692.2 L860.6,692.4 L861.6,692.0 L862.6,692.2 L863.6,692.2 L864.6,692.4 L865.6,692.2 L866.6,692.3 L867.6,692.3 L868.6,692.3 L869.6,692.5 L870.6,692.4 L871.6,692.3 L872.6,692.6 L873.6,692.4 L874.6,692.1 L875.6,692.3 L876.6,692.5 L877.6,692.4 L878.6,692.3 L879.6,692.4 L880.6,692.3 L881.6,692.4 L882.6,692.3 L883.6,692.3 L884.6,692.3 L885.6,692.2 L886.6,692.3 L887.6,692.2 L888.6,692.2 L889.6,692.5 L890.6,692.3 L891.6,692.5 L892.6,692.4 L893.6,692.1 L894.6,692.5 L895.6,692.3 L896.6,692.7 L897.6,692.5 L898.6,692.3 L899.6,692.1 L900.6,692.3 L901.6,692.2 L902.6,692.5 L903.6,692.2 L904.6,692.3 L905.6,692.3 L906.6,692.3 L907.6,692.4 L908.6,692.3 L909.6,692.5 L910.6,692.3 L911.6,692.5 L912.6,692.3 L913.6,692.5 L914.6,692.3 L915.6,692.4 L916.6,692.5 L917.6,692.5 L918.6,692.1 L919.6,692.3 L920.6,692.3 L921.6,692.6 L922.6,692.3 L923.6,692.5 L924.6,692.3 L925.6,692.2 L926.6,692.4 L927.6,692.2 L928.6,692.4 L929.6,692.3 L930.6,692.4 L931.6,692.1 L932.6,692.6 L933.6,692.6 L934.6,692.2 L935.6,692.7 L936.6,692.6 L937.6,692.2 L938.6,692.3 L939.6,692.2 L940.6,692.4 L941.6,692.3 L942.6,692.3 L943.6,692.2 L944.6,692.3 L945.6,692.2 L946.6,692.3 L947.6,692.4 L948.6,692.4 L949.6,692.6 L950.6,692.5 L951.6,692.5 L952.6,692.6 L953.6,692.3 L954.6,692.4 L955.6,692.0 L956.6,692.1 L957.6,692.1 L958.6,692.3 L959.6,692.2 L960.6,692.2 L961.6,692.3 L962.6,692.2 L963.6,692.3 L964.6,692.3 L965.6,692.2 L966.6,692.2 L967.6,692.6 L968.6,692.3 L969.6,692.3 L970.6,692.1 L971.6,692.3 L972.6,692.2 L973.6,692.5 L974.6,692.3 L975.6,692.5 L976.6,692.6 L977.6,692.6 L978.6,692.3 L979.6,692.4 L980.6,692.4 L981.6,692.1 L982.6,692.4 L983.6,692.3 L984.6,692.4 L985.6,692.1 L986.6,692.2 L987.6,692.2 L988.6,692.3 L988.8,692.2" fill="none" stroke="#0000ff" stroke-width="5.6" stroke-linejoin="round" />
<path d="M592.6,650.0 L593.6,650.2 L594.6,650.0 L595.6,649.8 L596.6,649.6 L597.6,649.7 L598.6,649.9 L599.6,649.8 L600.6,649.6 L601.6,649.7 L602.6,649.7 L603.6,649.5 L604.6,649.5 L605.6,649.5 L606.6,649.4 L607.6,649.3 L608.6,649.4 L609.6,649.3 L610.6,649.0 L611.6,648.9 L612.6,649.0 L613.6,649.2 L614.6,648.9 L615.6,649.3 L616.6,648.9 L617.6,648.8 L618.6,648.4 L619.6,648.6 L620.6,648.5 L621.6,648.3 L622.6,647.8 L623.6,648.4 L624.6,648.0 L625.6,648.2 L626.6,648.1 L627.6,647.9 L628.6,647.9 L629.6,647.9 L630.6,647.8 L631.6,647.5 L632.6,647.7 L633.6,647.6 L634.6,647.3 L635.6,647.1 L636.6,647.2 L637.6,646.8 L638.6,646.8 L639.6,646.9 L640.6,646.9 L641.6,646.9 L642.6,646.5 L643.6,646.0 L644.6,646.2 L645.6,646.5 L646.6,646.6 L647.6,645.8 L648.6,645.3 L649.6,645.8 L650.6,645.5 L651.6,645.6 L652.6,645.6 L653.6,644.9 L654.6,644.8 L655.6,644.6 L656.6,644.7 L657.6,644.7 L658.6,644.2 L659.6,644.5 L660.6,643.8 L661.6,644.2 L662.6,643.8 L663.6,643.4 L664.6,643.0 L665.6,643.4 L666.6,643.0 L667.6,643.5 L668.6,642.7 L669.6,642.5 L670.6,642.3 L671.6,642.2 L672.6,641.8 L673.6,642.1 L674.6,641.6 L675.6,642.0 L676.6,641.1 L677.6,641.3 L678.6,641.0 L679.6,641.2 L680.6,640.4 L681.6,639.6 L682.6,639.5 L683.6,639.8 L684.6,640.3 L685.6,639.3 L686.6,639.2 L687.6,639.5 L688.6,638.6 L689.6,638.7 L690.6,638.2 L691.6,637.4 L692.6,637.3 L693.6,637.4 L694.6,637.3 L695.6,636.7 L696.6,638.2 L697.6,636.6 L698.6,635.9 L699.6,635.5 L700.6,635.3 L701.6,636.0 L702.6,633.6 L703.6,634.9 L704.6,634.4 L705.6,634.8 L706.6,634.6 L707.6,634.1 L708.6,634.4 L709.6,635.0 L710.6,633.3 L711.6,633.3 L712.6,633.0 L713.6,633.4 L714.6,633.6 L715.6,633.5 L716.6,633.1 L717.6,633.0 L718.6,632.0 L719.6,633.3 L720.6,631.8 L721.6,631.2 L722.6,631.2 L723.6,630.4 L724.6,630.8 L725.6,631.1 L726.6,631.3 L727.6,630.0 L728.6,629.3 L729.6,629.0 L730.6,628.1 L731.6,628.4 L732.6,630.7 L733.6,629.0 L734.6,628.7 L735.6,629.1 L736.6,628.7 L737.6,628.5 L738.6,626.4 L739.6,626.1 L740.6,628.3 L741.6,627.0 L742.6,626.9 L743.6,626.5 L744.6,624.6 L745.6,625.5 L746.6,625.0 L747.6,625.8 L748.6,625.0 L749.6,623.3 L750.6,625.3 L751.6,622.6 L752.6,623.9 L753.6,623.2 L754.6,622.9 L755.6,623.3 L756.6,623.9 L757.6,622.2 L758.6,622.2 L759.6,623.0 L760.6,622.3 L761.6,621.8 L762.6,620.6 L763.6,620.0 L764.6,619.7 L765.6,619.5 L766.6,620.1 L767.6,620.0 L768.6,620.0 L769.6,617.4 L770.6,617.3 L771.6,616.8 L772.6,616.4 L773.6,615.2 L774.6,617.2 L775.6,616.2 L776.6,614.3 L777.6,613.6 L778.6,613.8 L779.6,612.7 L780.6,613.1 L781.6,613.9 L782.6,614.9 L783.6,614.3 L784.6,614.2 L785.6,611.9 L786.6,610.0 L787.6,613.8 L788.6,613.2 L789.6,613.3 L790.6,614.9 L791.6,613.4 L792.6,613.8 L793.6,614.6 L794.6,617.2 L795.6,617.0 L796.6,614.9 L797.6,618.1 L798.6,617.9 L799.6,619.2 L800.6,619.2 L801.6,621.6 L802.6,621.1 L803.6,623.1 L804.6,622.9 L805.6,625.8 L806.6,626.8 L807.6,627.8 L808.6,628.2 L809.6,629.4 L810.6,630.3 L811.6,631.7 L812.6,633.1 L813.6,634.7 L814.6,635.1 L815.6,636.7 L816.6,637.7 L817.6,637.9 L818.6,639.4 L819.6,640.3 L820.6,641.1 L821.6,642.2 L822.6,642.9 L823.6,643.5 L824.6,644.3 L825.6,645.2 L826.6,645.4 L827.6,645.8 L828.6,646.7 L829.6,647.1 L830.6,647.8 L831.6,647.7 L832.6,647.9 L833.6,648.4 L834.6,648.5 L835.6,648.5 L836.6,649.1 L837.6,649.4 L838.6,649.3 L839.6,649.2 L840.6,649.5 L841.6,649.6 L842.6,649.6 L843.6,650.0 L844.6,650.1 L845.6,650.2 L846.6,650.0 L847.6,650.1 L848.6,650.1 L849.6,649.9 L850.6,650.4 L851.6,649.8 L852.6,649.9 L853.6,650.1 L854.6,650.0 L855.6,650.2 L856.6,650.1 L857.6,650.2 L858.6,650.2 L859.6,650.1 L860.6,650.2 L861.6,650.2 L862.6,650.2 L863.6,650.3 L864.6,650.2 L865.6,650.3 L866.6,650.2 L867.6,650.3 L868.6,650.2 L869.6,650.3 L870.6,650.1 L871.6,650.5 L872.6,650.2 L873.6,650.6 L874.6,650.5 L875.6,650.5 L876.6,650.5 L877.6,650.5 L878.6,650.5 L879.6,650.4 L880.6,650.4 L881.6,650.6 L882.6,650.3 L883.6,650.4 L884.6,650.5 L885.6,650.5 L886.6,650.2 L887.6,650.3 L888.6,650.3 L889.6,650.3 L890.6,650.0 L891.6,650.5 L892.6,650.2 L893.6,650.6 L894.6,650.5 L895.6,650.4 L896.6,650.4 L897.6,650.3 L898.6,650.3 L899.6,650.3 L900.6,650.4 L901.6,650.2 L902.6,650.4 L903.6,650.5 L904.6,650.5 L905.6,650.5 L906.6,650.5 L907.6,650.4 L908.6,650.5 L909.6,650.4 L910.6,650.5 L911.6,650.6 L912.6,650.6 L913.6,650.4 L914.6,650.2 L915.6,650.6 L916.6,650.4 L917.6,650.5 L918.6,650.4 L919.6,650.4 L920.6,650.3 L921.6,650.3 L922.6,650.6 L923.6,650.5 L924.6,650.4 L925.6,650.3 L926.6,650.3 L927.6,650.3 L928.6,650.3 L929.6,650.1 L930.6,650.4 L931.6,650.6 L932.6,650.4 L933.6,650.5 L934.6,650.5 L935.6,650.3 L936.6,650.5 L937.6,650.4 L938.6,650.4 L939.6,650.4 L940.6,650.4 L941.6,650.5 L942.6,650.3 L943.6,650.5 L944.6,650.3 L945.6,650.5 L946.6,650.4 L947.6,650.3 L948.6,650.4 L949.6,650.3 L950.6,650.3 L951.6,650.4 L952.6,650.5 L953.6,650.5 L954.6,650.5 L955.6,650.4 L956.6,650.2 L957.6,650.3 L958.6,650.3 L959.6,650.3 L960.6,650.3 L961.6,650.4 L962.6,650.5 L963.6,650.2 L964.6,650.4 L965.6,650.6 L966.6,650.3 L967.6,650.3 L968.6,650.5 L969.6,650.5 L970.6,650.6 L971.6,650.7 L972.6,650.4 L973.6,650.4 L974.6,650.3 L975.6,650.3 L976.6,650.4 L977.6,650.3 L978.6,650.5 L979.6,650.3 L980.6,650.4 L981.6,650.3 L982.6,650.4 L983.6,650.3 L984.6,650.3 L985.6,650.1 L986.6,650.3 L987.6,650.5 L988.6,650.1 L988.8,650.4" fill="none" stroke="#008080" stroke-width="5.6" stroke-linejoin="round" />
<path d="M592.6,605.3 L593.6,605.3 L594.6,605.2 L595.6,605.6 L596.6,605.3 L597.6,605.5 L598.6,605.6 L599.6,605.6 L600.6,604.8 L601.6,605.4 L602.6,604.8 L603.6,605.4 L604.6,605.0 L605.6,604.9 L606.6,604.5 L607.6,604.7 L608.6,604.6 L609.6,604.4 L610.6,604.5 L611.6,604.8 L612.6,604.6 L613.6,604.4 L614.6,604.0 L615.6,603.8 L616.6,603.9 L617.6,603.8 L618.6,603.8 L619.6,603.4 L620.6,603.0 L621.6,603.2 L622.6,603.2 L623.6,602.9 L624.6,603.0 L625.6,602.4 L626.6,602.5 L627.6,602.1 L628.6,602.7 L629.6,602.2 L630.6,601.9 L631.6,601.5 L632.6,601.4 L633.6,601.8 L634.6,601.5 L635.6,601.5 L636.6,600.7 L637.6,600.3 L638.6,600.6 L639.6,600.4 L640.6,600.0 L641.6,599.9 L642.6,600.1 L643.6,599.5 L644.6,599.9 L645.6,600.1 L646.6,599.4 L647.6,598.9 L648.6,598.3 L649.6,598.9 L650.6,597.9 L651.6,597.7 L652.6,597.5 L653.6,596.5 L654.6,597.4 L655.6,596.4 L656.6,596.4 L657.6,595.7 L658.6,595.6 L659.6,595.6 L660.6,594.4 L661.6,594.5 L662.6,594.4 L663.6,595.5 L664.6,594.6 L665.6,594.3 L666.6,593.0 L667.6,593.6 L668.6,593.5 L669.6,593.2 L670.6,594.1 L671.6,591.4 L672.6,591.4 L673.6,591.8 L674.6,590.9 L675.6,590.8 L676.6,590.8 L677.6,590.8 L678.6,591.0 L679.6,590.9 L680.6,590.6 L681.6,589.4 L682.6,589.0 L683.6,589.9 L684.6,588.4 L685.6,587.7 L686.6,588.6 L687.6,588.0 L688.6,587.8 L689.6,587.1 L690.6,587.4 L691.6,587.6 L692.6,586.4 L693.6,586.0 L694.6,587.6 L695.6,585.0 L696.6,583.9 L697.6,583.8 L698.6,585.2 L699.6,584.4 L700.6,583.0 L701.6,583.7 L702.6,583.7 L703.6,585.3 L704.6,584.0 L705.6,583.0 L706.6,581.5 L707.6,582.2 L708.6,582.9 L709.6,582.3 L710.6,582.6 L711.6,581.5 L712.6,581.9 L713.6,581.2 L714.6,579.7 L715.6,580.4 L716.6,578.8 L717.6,578.6 L718.6,577.0 L719.6,577.4 L720.6,578.1 L721.6,576.9 L722.6,577.4 L723.6,577.3 L724.6,578.0 L725.6,577.1 L726.6,575.3 L727.6,576.3 L728.6,574.3 L729.6,574.0 L730.6,575.0 L731.6,575.3 L732.6,575.7 L733.6,576.5 L734.6,574.1 L735.6,574.6 L736.6,572.9 L737.6,573.0 L738.6,572.3 L739.6,572.6 L740.6,574.1 L741.6,572.9 L742.6,572.3 L743.6,570.7 L744.6,572.2 L745.6,570.4 L746.6,570.1 L747.6,570.8 L748.6,571.3 L749.6,571.4 L750.6,572.0 L751.6,569.6 L752.6,569.6 L753.6,571.1 L754.6,572.0 L755.6,569.7 L756.6,570.2 L757.6,569.0 L758.6,569.7 L759.6,570.0 L760.6,570.5 L761.6,569.2 L762.6,570.5 L763.6,569.5 L764.6,569.6 L765.6,570.9 L766.6,570.1 L767.6,569.4 L768.6,570.7 L769.6,572.6 L770.6,571.0 L771.6,571.3 L772.6,570.9 L773.6,571.2 L774.6,571.9 L775.6,569.7 L776.6,571.1 L777.6,571.4 L778.6,571.3 L779.6,572.8 L780.6,574.0 L781.6,573.3 L782.6,573.8 L783.6,574.3 L784.6,575.2 L785.6,573.8 L786.6,574.7 L787.6,575.8 L788.6,576.9 L789.6,575.9 L790.6,578.2 L791.6,576.9 L792.6,579.1 L793.6,579.7 L794.6,578.2 L795.6,581.4 L796.6,582.0 L797.6,581.7 L798.6,583.4 L799.6,585.2 L800.6,584.9 L801.6,584.5 L802.6,584.9 L803.6,585.9 L804.6,586.8 L805.6,589.2 L806.6,589.4 L807.6,590.1 L808.6,591.7 L809.6,592.0 L810.6,592.9 L811.6,593.4 L812.6,594.4 L813.6,595.5 L814.6,595.7 L815.6,597.5 L816.6,597.3 L817.6,597.7 L818.6,599.1 L819.6,599.2 L820.6,600.4 L821.6,600.3 L822.6,601.1 L823.6,600.7 L824.6,601.1 L825.6,601.5 L826.6,601.9 L827.6,602.7 L828.6,602.6 L829.6,603.1 L830.6,603.1 L831.6,603.8 L832.6,603.2 L833.6,604.2 L834.6,604.4 L835.6,604.5 L836.6,604.4 L837.6,605.1 L838.6,604.9 L839.6,605.2 L840.6,605.1 L841.6,605.1 L842.6,605.3 L843.6,605.5 L844.6,605.4 L845.6,605.7 L846.6,605.7 L847.6,606.1 L848.6,606.0 L849.6,606.0 L850.6,606.3 L851.6,606.3 L852.6,606.3 L853.6,606.4 L854.6,606.6 L855.6,606.6 L856.6,606.3 L857.6,606.5 L858.6,606.5 L859.6,606.6 L860.6,606.6 L861.6,606.4 L862.6,606.3 L863.6,606.5 L864.6,606.6 L865.6,606.5 L866.6,606.8 L867.6,606.7 L868.6,606.6 L869.6,606.7 L870.6,606.7 L871.6,606.7 L872.6,606.8 L873.6,606.9 L874.6,606.7 L875.6,606.9 L876.6,606.6 L877.6,606.6 L878.6,607.0 L879.6,607.0 L880.6,607.1 L881.6,606.9 L882.6,606.8 L883.6,607.1 L884.6,606.9 L885.6,607.0 L886.6,606.9 L887.6,607.0 L888.6,606.6 L889.6,607.0 L890.6,606.7 L891.6,607.1 L892.6,606.8 L893.6,607.2 L894.6,607.4 L895.6,606.9 L896.6,606.8 L897.6,607.2 L898.6,606.9 L899.6,606.9 L900.6,607.2 L901.6,606.6 L902.6,606.8 L903.6,606.8 L904.6,606.9 L905.6,606.7 L906.6,607.1 L907.6,607.2 L908.6,607.1 L909.6,607.1 L910.6,606.9 L911.6,607.1 L912.6,607.0 L913.6,607.3 L914.6,607.4 L915.6,607.3 L916.6,607.0 L917.6,607.1 L918.6,607.4 L919.6,607.2 L920.6,607.4 L921.6,607.0 L922.6,607.2 L923.6,607.2 L924.6,607.0 L925.6,607.1 L926.6,607.4 L927.6,607.4 L928.6,607.3 L929.6,607.4 L930.6,607.6 L931.6,607.2 L932.6,607.4 L933.6,607.4 L934.6,607.2 L935.6,607.4 L936.6,607.3 L937.6,607.5 L938.6,607.6 L939.6,607.5 L940.6,607.5 L941.6,607.4 L942.6,607.5 L943.6,607.6 L944.6,607.7 L945.6,607.5 L946.6,607.6 L947.6,607.8 L948.6,607.6 L949.6,607.6 L950.6,607.7 L951.6,607.5 L952.6,607.5 L953.6,607.5 L954.6,607.4 L955.6,607.3 L956.6,607.3 L957.6,607.5 L958.6,607.7 L959.6,607.8 L960.6,607.8 L961.6,607.7 L962.6,607.4 L963.6,607.4 L964.6,607.5 L965.6,607.6 L966.6,607.6 L967.6,607.7 L968.6,607.5 L969.6,607.6 L970.6,607.6 L971.6,607.4 L972.6,607.6 L973.6,607.9 L974.6,607.8 L975.6,607.7 L976.6,607.4 L977.6,607.5 L978.6,607.6 L979.6,607.8 L980.6,607.7 L981.6,607.7 L982.6,607.7 L983.6,607.7 L984.6,607.4 L985.6,607.5 L986.6,607.6 L987.6,607.6 L988.6,607.7 L988.8,607.6" fill="none" stroke="#ff00ff" stroke-width="5.6" stroke-linejoin="round" />
<path d="M592.6,558.1 L593.6,558.1 L594.6,557.9 L595.6,558.5 L596.6,558.0 L597.6,558.1 L598.6,557.5 L599.6,557.3 L600.6,557.2 L601.6,557.4 L602.6,557.0 L603.6,557.5 L604.6,556.9 L605.6,557.3 L606.6,556.9 L607.6,557.1 L608.6,556.1 L609.6,555.8 L610.6,556.5 L611.6,556.2 L612.6,556.6 L613.6,555.8 L614.6,556.2 L615.6,555.6 L616.6,554.8 L617.6,555.7 L618.6,555.0 L619.6,555.1 L620.6,554.5 L621.6,553.7 L622.6,554.5 L623.6,554.6 L624.6,554.5 L625.6,554.4 L626.6,553.7 L627.6,553.7 L628.6,554.0 L629.6,553.2 L630.6,553.3 L631.6,553.0 L632.6,552.8 L633.6,552.2 L634.6,552.5 L635.6,552.0 L636.6,552.9 L637.6,552.1 L638.6,551.9 L639.6,551.8 L640.6,551.2 L641.6,550.9 L642.6,550.8 L643.6,549.4 L644.6,551.2 L645.6,550.4 L646.6,550.3 L647.6,549.7 L648.6,550.3 L649.6,550.1 L650.6,550.0 L651.6,549.0 L652.6,549.6 L653.6,548.6 L654.6,549.2 L655.6,548.2 L656.6,547.9 L657.6,548.1 L658.6,548.9 L659.6,548.9 L660.6,548.0 L661.6,547.3 L662.6,548.7 L663.6,546.9 L664.6,547.1 L665.6,546.8 L666.6,546.2 L667.6,547.4 L668.6,546.5 L669.6,546.8 L670.6,546.0 L671.6,546.6 L672.6,545.9 L673.6,545.7 L674.6,545.6 L675.6,545.2 L676.6,545.2 L677.6,544.6 L678.6,543.6 L679.6,544.5 L680.6,542.8 L681.6,544.2 L682.6,543.7 L683.6,544.6 L684.6,541.9 L685.6,545.1 L686.6,543.0 L687.6,541.5 L688.6,542.3 L689.6,541.9 L690.6,542.1 L691.6,543.4 L692.6,540.3 L693.6,540.6 L694.6,540.6 L695.6,540.2 L696.6,540.8 L697.6,540.9 L698.6,538.7 L699.6,539.7 L700.6,540.1 L701.6,539.6 L702.6,537.5 L703.6,538.7 L704.6,538.1 L705.6,538.9 L706.6,536.9 L707.6,538.2 L708.6,536.0 L709.6,537.5 L710.6,535.7 L711.6,536.9 L712.6,536.1 L713.6,533.2 L714.6,533.5 L715.6,532.6 L716.6,531.1 L717.6,530.7 L718.6,531.1 L719.6,531.6 L720.6,530.8 L721.6,530.7 L722.6,529.9 L723.6,529.2 L724.6,527.7 L725.6,528.5 L726.6,528.8 L727.6,527.3 L728.6,529.8 L729.6,529.5 L730.6,528.3 L731.6,530.1 L732.6,528.2 L733.6,528.0 L734.6,528.0 L735.6,527.6 L736.6,529.4 L737.6,528.1 L738.6,528.5 L739.6,529.5 L740.6,531.0 L741.6,530.0 L742.6,529.7 L743.6,530.1 L744.6,530.5 L745.6,529.5 L746.6,531.3 L747.6,530.7 L748.6,530.7 L749.6,531.9 L750.6,533.7 L751.6,532.2 L752.6,533.5 L753.6,532.9 L754.6,532.9 L755.6,532.7 L756.6,533.3 L757.6,533.8 L758.6,534.1 L759.6,534.2 L760.6,532.9 L761.6,533.4 L762.6,533.4 L763.6,534.4 L764.6,535.5 L765.6,536.0 L766.6,537.0 L767.6,536.0 L768.6,536.5 L769.6,537.5 L770.6,538.7 L771.6,537.6 L772.6,538.3 L773.6,538.5 L774.6,537.2 L775.6,539.1 L776.6,538.9 L777.6,539.9 L778.6,540.5 L779.6,539.3 L780.6,541.0 L781.6,540.7 L782.6,540.9 L783.6,541.6 L784.6,540.6 L785.6,540.0 L786.6,541.5 L787.6,541.6 L788.6,542.4 L789.6,542.3 L790.6,543.3 L791.6,543.9 L792.6,544.5 L793.6,545.4 L794.6,545.7 L795.6,546.4 L796.6,548.7 L797.6,547.1 L798.6,547.1 L799.6,548.8 L800.6,548.4 L801.6,549.2 L802.6,550.1 L803.6,551.0 L804.6,551.7 L805.6,552.1 L806.6,552.3 L807.6,553.4 L808.6,553.8 L809.6,553.8 L810.6,554.8 L811.6,555.3 L812.6,556.5 L813.6,556.5 L814.6,557.5 L815.6,557.4 L816.6,558.4 L817.6,558.2 L818.6,558.5 L819.6,559.1 L820.6,559.7 L821.6,560.2 L822.6,560.1 L823.6,560.8 L824.6,560.7 L825.6,560.7 L826.6,560.9 L827.6,561.4 L828.6,561.3 L829.6,561.5 L830.6,561.5 L831.6,561.8 L832.6,561.8 L833.6,562.1 L834.6,561.8 L835.6,561.9 L836.6,562.0 L837.6,562.1 L838.6,562.3 L839.6,562.2 L840.6,562.4 L841.6,562.3 L842.6,562.2 L843.6,562.2 L844.6,562.1 L845.6,562.0 L846.6,562.3 L847.6,562.4 L848.6,562.2 L849.6,562.3 L850.6,562.6 L851.6,562.4 L852.6,562.5 L853.6,562.5 L854.6,562.5 L855.6,562.5 L856.6,562.4 L857.6,562.5 L858.6,562.3 L859.6,562.5 L860.6,562.5 L861.6,562.4 L862.6,562.7 L863.6,562.5 L864.6,562.2 L865.6,562.2 L866.6,562.5 L867.6,562.6 L868.6,562.5 L869.6,562.4 L870.6,562.6 L871.6,562.7 L872.6,562.6 L873.6,562.5 L874.6,562.8 L875.6,562.7 L876.6,562.7 L877.6,562.8 L878.6,562.8 L879.6,562.6 L880.6,562.5 L881.6,562.7 L882.6,562.8 L883.6,562.9 L884.6,562.6 L885.6,562.7 L886.6,562.6 L887.6,562.8 L888.6,562.7 L889.6,562.3 L890.6,562.8 L891.6,562.6 L892.6,562.6 L893.6,562.4 L894.6,562.4 L895.6,562.4 L896.6,562.6 L897.6,562.7 L898.6,562.7 L899.6,562.7 L900.6,562.6 L901.6,562.8 L902.6,562.7 L903.6,562.7 L904.6,562.7 L905.6,562.6 L906.6,562.8 L907.6,562.8 L908.6,562.7 L909.6,562.9 L910.6,562.9 L911.6,562.6 L912.6,562.4 L913.6,562.6 L914.6,562.7 L915.6,562.8 L916.6,562.8 L917.6,562.8 L918.6,562.9 L919.6,562.9 L920.6,562.7 L921.6,562.8 L922.6,562.9 L923.6,562.7 L924.6,562.7 L925.6,562.7 L926.6,562.9 L927.6,562.8 L928.6,562.9 L929.6,562.8 L930.6,562.7 L931.6,562.9 L932.6,562.7 L933.6,562.8 L934.6,562.7 L935.6,562.7 L936.6,562.8 L937.6,562.8 L938.6,563.0 L939.6,562.8 L940.6,563.0 L941.6,562.7 L942.6,562.7 L943.6,562.5 L944.6,562.9 L945.6,563.0 L946.6,562.6 L947.6,562.7 L948.6,562.8 L949.6,562.6 L950.6,562.8 L951.6,562.8 L952.6,562.7 L953.6,562.6 L954.6,562.8 L955.6,562.8 L956.6,562.7 L957.6,562.8 L958.6,562.8 L959.6,562.4 L960.6,562.8 L961.6,563.0 L962.6,562.5 L963.6,562.9 L964.6,562.7 L965.6,562.7 L966.6,562.6 L967.6,562.6 L968.6,562.5 L969.6,563.0 L970.6,562.5 L971.6,562.6 L972.6,562.8 L973.6,562.8 L974.6,562.8 L975.6,562.5 L976.6,562.7 L977.6,562.6 L978.6,562.6 L979.6,562.8 L980.6,562.9 L981.6,562.6 L982.6,562.6 L983.6,562.7 L984.6,562.9 L985.6,562.7 L986.6,562.8 L987.6,562.7 L988.6,562.7 L988.8,562.7" fill="none" stroke="#808000" stroke-width="5.6" stroke-linejoin="round" />
<line x1="180.70" y1="67.30" x2="180.70" y2="374.10" stroke="#00007f" stroke-width="3.7" stroke-dasharray="11.5 15.7"/>
<line x1="342.98" y1="67.30" x2="342.98" y2="374.10" stroke="#00007f" stroke-width="3.7" stroke-dasharray="11.5 15.7"/>
<line x1="184.30" y1="84.40" x2="339.38" y2="84.40" stroke="#222" stroke-width="1.1" />
<path d="M180.70,84.40 L186.70,82.00 L186.70,86.80 Z" fill="#222"/>
<path d="M342.98,84.40 L336.98,82.00 L336.98,86.80 Z" fill="#222"/>
<line x1="665.00" y1="76.10" x2="665.00" y2="371.20" stroke="#00007f" stroke-width="4.2" stroke-dasharray="10.6 13.3"/>
<line x1="823.40" y1="78.60" x2="823.40" y2="371.20" stroke="#00007f" stroke-width="4.2" stroke-dasharray="10.6 13.3"/>
<line x1="667.50" y1="93.70" x2="819.70" y2="93.70" stroke="#000" stroke-width="1.5" />
<path d="M663.60,93.70 L670.10,91.10 L670.10,96.30 Z" fill="#000"/>
<path d="M823.60,93.70 L817.10,91.10 L817.10,96.30 Z" fill="#000"/>
<line x1="189.70" y1="505.30" x2="189.70" y2="793.50" stroke="#00007f" stroke-width="3.6" stroke-dasharray="11.4 14.1"/>
<line x1="345.30" y1="505.30" x2="345.30" y2="793.50" stroke="#00007f" stroke-width="3.6" stroke-dasharray="11.4 14.1"/>
<line x1="193.50" y1="523.00" x2="341.50" y2="523.00" stroke="#000" stroke-width="1.3" />
<path d="M189.60,523.00 L196.10,520.60 L196.10,525.40 Z" fill="#000"/>
<path d="M345.40,523.00 L338.90,520.60 L338.90,525.40 Z" fill="#000"/>
<line x1="599.00" y1="505.40" x2="599.00" y2="791.00" stroke="#00007f" stroke-width="3.8" stroke-dasharray="11.2 14.1"/>
<line x1="847.60" y1="501.20" x2="847.60" y2="791.00" stroke="#00007f" stroke-width="3.8" stroke-dasharray="11.2 14.1"/>
<line x1="603.40" y1="520.20" x2="843.60" y2="520.20" stroke="#222" stroke-width="1.1" />
<path d="M599.50,520.20 L606.00,518.00 L606.00,522.40 Z" fill="#222"/>
<path d="M847.50,520.20 L841.00,518.00 L841.00,522.40 Z" fill="#222"/>
<rect x="407.20" y="68.50" width="82.50" height="149.60" fill="#fff" stroke="#9a9a9a" stroke-width="1" />
<line x1="411.40" y1="80.70" x2="445.50" y2="80.70" stroke="#000000" stroke-width="4.6" />
<text x="449.60" y="85.70" font-size="14.5" text-anchor="start" fill="#000" font-family="Liberation Sans, sans-serif">0&#956;m</text>
<line x1="411.40" y1="99.12" x2="445.50" y2="99.12" stroke="#ff0000" stroke-width="4.6" />
<text x="449.60" y="104.12" font-size="14.5" text-anchor="start" fill="#000" font-family="Liberation Sans, sans-serif">5&#956;m</text>
<line x1="411.40" y1="117.54" x2="445.50" y2="117.54" stroke="#0000ff" stroke-width="4.6" />
<text x="449.60" y="122.54" font-size="14.5" text-anchor="start" fill="#000" font-family="Liberation Sans, sans-serif">10&#956;m</text>
<line x1="411.40" y1="135.96" x2="445.50" y2="135.96" stroke="#008080" stroke-width="4.6" />
<text x="449.60" y="140.96" font-size="14.5" text-anchor="start" fill="#000" font-family="Liberation Sans, sans-serif">15&#956;m</text>
<line x1="411.40" y1="154.38" x2="445.50" y2="154.38" stroke="#ff00ff" stroke-width="4.6" />
<text x="449.60" y="159.38" font-size="14.5" text-anchor="start" fill="#000" font-family="Liberation Sans, sans-serif">20&#956;m</text>
<line x1="411.40" y1="172.80" x2="445.50" y2="172.80" stroke="#808000" stroke-width="4.6" />
<text x="449.60" y="177.80" font-size="14.5" text-anchor="start" fill="#000" font-family="Liberation Sans, sans-serif">25&#956;m</text>
<line x1="411.40" y1="191.22" x2="445.50" y2="191.22" stroke="#000080" stroke-width="4.6" />
<text x="449.60" y="196.22" font-size="14.5" text-anchor="start" fill="#000" font-family="Liberation Sans, sans-serif">30&#956;m</text>
<line x1="411.40" y1="209.64" x2="445.50" y2="209.64" stroke="#800000" stroke-width="4.6" />
<text x="449.60" y="214.64" font-size="14.5" text-anchor="start" fill="#000" font-family="Liberation Sans, sans-serif">35&#956;m</text>
<rect x="905.50" y="100.20" width="97.00" height="271.00" fill="#fff" stroke="#a0a0a0" stroke-width="1" />
<line x1="911.00" y1="128.90" x2="950.00" y2="128.90" stroke="#ff0000" stroke-width="3.0" />
<text x="955.30" y="134.90" font-size="17.2" text-anchor="start" fill="#000" font-family="Liberation Sans, sans-serif">55&#956;m</text>
<line x1="911.00" y1="149.70" x2="950.00" y2="149.70" stroke="#00ff00" stroke-width="3.0" />
<text x="955.30" y="155.70" font-size="17.2" text-anchor="start" fill="#000" font-family="Liberation Sans, sans-serif">50&#956;m</text>
<line x1="911.00" y1="170.50" x2="950.00" y2="170.50" stroke="#0000ff" stroke-width="3.0" />
<text x="955.30" y="176.50" font-size="17.2" text-anchor="start" fill="#000" font-family="Liberation Sans, sans-serif">45&#956;m</text>
<line x1="911.00" y1="191.30" x2="950.00" y2="191.30" stroke="#00ffff" stroke-width="3.4" />
<text x="955.30" y="197.30" font-size="17.2" text-anchor="start" fill="#000" font-family="Liberation Sans, sans-serif">40&#956;m</text>
<line x1="911.00" y1="212.10" x2="950.00" y2="212.10" stroke="#ff00ff" stroke-width="3.0" />
<text x="955.30" y="218.10" font-size="17.2" text-anchor="start" fill="#000" font-family="Liberation Sans, sans-serif">35&#956;m</text>
<line x1="911.00" y1="232.90" x2="950.00" y2="232.90" stroke="#ffff00" stroke-width="3.4" />
<text x="955.30" y="238.90" font-size="17.2" text-anchor="start" fill="#000" font-family="Liberation Sans, sans-serif">30&#956;m</text>
<line x1="911.00" y1="253.70" x2="950.00" y2="253.70" stroke="#808000" stroke-width="3.0" />
<text x="955.30" y="259.70" font-size="17.2" text-anchor="start" fill="#000" font-family="Liberation Sans, sans-serif">25&#956;m</text>
<line x1="911.00" y1="274.50" x2="950.00" y2="274.50" stroke="#000080" stroke-width="3.0" />
<text x="955.30" y="280.50" font-size="17.2" text-anchor="start" fill="#000" font-family="Liberation Sans, sans-serif">20&#956;m</text>
<line x1="911.00" y1="295.30" x2="950.00" y2="295.30" stroke="#800080" stroke-width="3.4" />
<text x="955.30" y="301.30" font-size="17.2" text-anchor="start" fill="#000" font-family="Liberation Sans, sans-serif">15&#956;m</text>
<line x1="911.00" y1="316.10" x2="950.00" y2="316.10" stroke="#800000" stroke-width="3.0" />
<text x="955.30" y="322.10" font-size="17.2" text-anchor="start" fill="#000" font-family="Liberation Sans, sans-serif">10&#956;m</text>
<line x1="911.00" y1="336.90" x2="950.00" y2="336.90" stroke="#008000" stroke-width="3.0" />
<text x="955.30" y="342.90" font-size="17.2" text-anchor="start" fill="#000" font-family="Liberation Sans, sans-serif">5&#956;m</text>
<line x1="911.00" y1="357.70" x2="950.00" y2="357.70" stroke="#008080" stroke-width="3.0" />
<text x="955.30" y="363.70" font-size="17.2" text-anchor="start" fill="#000" font-family="Liberation Sans, sans-serif">0&#956;m</text>
<rect x="411.00" y="507.60" width="77.00" height="175.20" fill="#fff" stroke="#a8a8a8" stroke-width="1" />
<line x1="414.80" y1="521.00" x2="447.30" y2="521.00" stroke="#000000" stroke-width="4.4" />
<text x="450.20" y="526.00" font-size="14.2" text-anchor="start" fill="#000" textLength="26.74" lengthAdjust="spacingAndGlyphs" font-family="Liberation Sans, sans-serif">0&#956;m</text>
<line x1="414.80" y1="538.10" x2="447.30" y2="538.10" stroke="#ff0000" stroke-width="4.4" />
<text x="450.20" y="543.10" font-size="14.2" text-anchor="start" fill="#000" textLength="26.74" lengthAdjust="spacingAndGlyphs" font-family="Liberation Sans, sans-serif">5&#956;m</text>
<line x1="414.80" y1="555.20" x2="447.30" y2="555.20" stroke="#0000ff" stroke-width="4.4" />
<text x="450.20" y="560.20" font-size="14.2" text-anchor="start" fill="#000" textLength="34.30" lengthAdjust="spacingAndGlyphs" font-family="Liberation Sans, sans-serif">10&#956;m</text>
<line x1="414.80" y1="572.30" x2="447.30" y2="572.30" stroke="#008080" stroke-width="4.4" />
<text x="450.20" y="577.30" font-size="14.2" text-anchor="start" fill="#000" textLength="34.30" lengthAdjust="spacingAndGlyphs" font-family="Liberation Sans, sans-serif">15&#956;m</text>
<line x1="414.80" y1="589.40" x2="447.30" y2="589.40" stroke="#ff00ff" stroke-width="4.4" />
<text x="450.20" y="594.40" font-size="14.2" text-anchor="start" fill="#000" textLength="34.30" lengthAdjust="spacingAndGlyphs" font-family="Liberation Sans, sans-serif">20&#956;m</text>
<line x1="414.80" y1="606.50" x2="447.30" y2="606.50" stroke="#808000" stroke-width="4.4" />
<text x="450.20" y="611.50" font-size="14.2" text-anchor="start" fill="#000" textLength="34.30" lengthAdjust="spacingAndGlyphs" font-family="Liberation Sans, sans-serif">25&#956;m</text>
<line x1="414.80" y1="623.60" x2="447.30" y2="623.60" stroke="#000080" stroke-width="4.4" />
<text x="450.20" y="628.60" font-size="14.2" text-anchor="start" fill="#000" textLength="34.30" lengthAdjust="spacingAndGlyphs" font-family="Liberation Sans, sans-serif">30&#956;m</text>
<line x1="414.80" y1="640.70" x2="447.30" y2="640.70" stroke="#800000" stroke-width="4.4" />
<text x="450.20" y="645.70" font-size="14.2" text-anchor="start" fill="#000" textLength="34.30" lengthAdjust="spacingAndGlyphs" font-family="Liberation Sans, sans-serif">35&#956;m</text>
<line x1="414.80" y1="657.80" x2="447.30" y2="657.80" stroke="#ff0080" stroke-width="4.4" />
<text x="450.20" y="662.80" font-size="14.2" text-anchor="start" fill="#000" textLength="34.30" lengthAdjust="spacingAndGlyphs" font-family="Liberation Sans, sans-serif">40&#956;m</text>
<line x1="414.80" y1="674.90" x2="447.30" y2="674.90" stroke="#008000" stroke-width="4.4" />
<text x="450.20" y="679.90" font-size="14.2" text-anchor="start" fill="#000" textLength="34.30" lengthAdjust="spacingAndGlyphs" font-family="Liberation Sans, sans-serif">45&#956;m</text>
<rect x="911.00" y="504.20" width="77.50" height="107.00" fill="#fff" stroke="#a8a8a8" stroke-width="1" />
<line x1="916.00" y1="517.30" x2="947.00" y2="517.30" stroke="#000000" stroke-width="4.4" />
<text x="950.90" y="522.30" font-size="14.2" text-anchor="start" fill="#000" textLength="26.34" lengthAdjust="spacingAndGlyphs" font-family="Liberation Sans, sans-serif">0&#956;m</text>
<line x1="916.00" y1="534.30" x2="947.00" y2="534.30" stroke="#ff0000" stroke-width="4.4" />
<text x="950.90" y="539.30" font-size="14.2" text-anchor="start" fill="#000" textLength="26.34" lengthAdjust="spacingAndGlyphs" font-family="Liberation Sans, sans-serif">5&#956;m</text>
<line x1="916.00" y1="551.30" x2="947.00" y2="551.30" stroke="#0000ff" stroke-width="4.4" />
<text x="950.90" y="556.30" font-size="14.2" text-anchor="start" fill="#000" textLength="33.79" lengthAdjust="spacingAndGlyphs" font-family="Liberation Sans, sans-serif">10&#956;m</text>
<line x1="916.00" y1="568.30" x2="947.00" y2="568.30" stroke="#008080" stroke-width="4.4" />
<text x="950.90" y="573.30" font-size="14.2" text-anchor="start" fill="#000" textLength="33.79" lengthAdjust="spacingAndGlyphs" font-family="Liberation Sans, sans-serif">15&#956;m</text>
<line x1="916.00" y1="585.30" x2="947.00" y2="585.30" stroke="#ff00ff" stroke-width="4.4" />
<text x="950.90" y="590.30" font-size="14.2" text-anchor="start" fill="#000" textLength="33.79" lengthAdjust="spacingAndGlyphs" font-family="Liberation Sans, sans-serif">20&#956;m</text>
<line x1="916.00" y1="602.30" x2="947.00" y2="602.30" stroke="#808000" stroke-width="4.4" />
<text x="950.90" y="607.30" font-size="14.2" text-anchor="start" fill="#000" textLength="33.79" lengthAdjust="spacingAndGlyphs" font-family="Liberation Sans, sans-serif">25&#956;m</text>
<text x="67.40" y="379.50" font-size="20" text-anchor="end" fill="#000" textLength="10.30" lengthAdjust="spacingAndGlyphs" font-family="Liberation Sans, sans-serif">0</text>
<text x="67.40" y="345.55" font-size="20" text-anchor="end" fill="#000" textLength="10.30" lengthAdjust="spacingAndGlyphs" font-family="Liberation Sans, sans-serif">1</text>
<text x="67.40" y="311.60" font-size="20" text-anchor="end" fill="#000" textLength="10.30" lengthAdjust="spacingAndGlyphs" font-family="Liberation Sans, sans-serif">2</text>
<text x="67.40" y="277.65" font-size="20" text-anchor="end" fill="#000" textLength="10.30" lengthAdjust="spacingAndGlyphs" font-family="Liberation Sans, sans-serif">3</text>
<text x="67.40" y="243.70" font-size="20" text-anchor="end" fill="#000" textLength="10.30" lengthAdjust="spacingAndGlyphs" font-family="Liberation Sans, sans-serif">4</text>
<text x="67.40" y="209.75" font-size="20" text-anchor="end" fill="#000" textLength="10.30" lengthAdjust="spacingAndGlyphs" font-family="Liberation Sans, sans-serif">5</text>
<text x="67.40" y="175.80" font-size="20" text-anchor="end" fill="#000" textLength="10.30" lengthAdjust="spacingAndGlyphs" font-family="Liberation Sans, sans-serif">6</text>
<text x="67.40" y="141.85" font-size="20" text-anchor="end" fill="#000" textLength="10.30" lengthAdjust="spacingAndGlyphs" font-family="Liberation Sans, sans-serif">7</text>
<text x="67.40" y="107.90" font-size="20" text-anchor="end" fill="#000" textLength="10.30" lengthAdjust="spacingAndGlyphs" font-family="Liberation Sans, sans-serif">8</text>
<text x="67.40" y="73.95" font-size="20" text-anchor="end" fill="#000" textLength="10.30" lengthAdjust="spacingAndGlyphs" font-family="Liberation Sans, sans-serif">9</text>
<text x="77.60" y="398.80" font-size="19" text-anchor="middle" fill="#000" textLength="10.07" lengthAdjust="spacingAndGlyphs" font-family="Liberation Sans, sans-serif">0</text>
<text x="129.15" y="398.80" font-size="19" text-anchor="middle" fill="#000" textLength="30.21" lengthAdjust="spacingAndGlyphs" font-family="Liberation Sans, sans-serif">250</text>
<text x="180.70" y="398.80" font-size="19" text-anchor="middle" fill="#000" textLength="30.21" lengthAdjust="spacingAndGlyphs" font-family="Liberation Sans, sans-serif">500</text>
<text x="232.25" y="398.80" font-size="19" text-anchor="middle" fill="#000" textLength="30.21" lengthAdjust="spacingAndGlyphs" font-family="Liberation Sans, sans-serif">750</text>
<text x="283.80" y="398.80" font-size="19" text-anchor="middle" fill="#000" textLength="40.28" lengthAdjust="spacingAndGlyphs" font-family="Liberation Sans, sans-serif">1000</text>
<text x="335.35" y="398.80" font-size="19" text-anchor="middle" fill="#000" textLength="40.28" lengthAdjust="spacingAndGlyphs" font-family="Liberation Sans, sans-serif">1250</text>
<text x="386.90" y="398.80" font-size="19" text-anchor="middle" fill="#000" textLength="40.28" lengthAdjust="spacingAndGlyphs" font-family="Liberation Sans, sans-serif">1500</text>
<text x="438.45" y="398.80" font-size="19" text-anchor="middle" fill="#000" textLength="40.28" lengthAdjust="spacingAndGlyphs" font-family="Liberation Sans, sans-serif">1750</text>
<text x="490.00" y="398.80" font-size="19" text-anchor="middle" fill="#000" textLength="40.28" lengthAdjust="spacingAndGlyphs" font-family="Liberation Sans, sans-serif">2000</text>
<text x="283.70" y="431.00" font-size="19" text-anchor="middle" fill="#000" textLength="74.10" lengthAdjust="spacingAndGlyphs" font-family="Liberation Sans, sans-serif">time (ps)</text>
<text transform="translate(33.80,211.30) rotate(-90)" font-size="19.5" text-anchor="middle" textLength="216.70" lengthAdjust="spacingAndGlyphs" font-family="Liberation Sans, sans-serif">Normalized intensity (a.u)</text>
<text x="265.10" y="30.00" font-size="23.4" text-anchor="middle" font-family="Liberation Serif, serif">(<tspan font-weight="bold">a</tspan>)</text>
<text x="220.86" y="49.80" font-size="14.8" text-anchor="start" fill="#1a1a1a" textLength="35.39" lengthAdjust="spacingAndGlyphs" font-family="Liberation Sans, sans-serif">&#916;T=T</text>
<text x="256.84" y="55.90" font-size="8.6" text-anchor="start" fill="#1a1a1a" textLength="17.22" lengthAdjust="spacingAndGlyphs" font-family="Liberation Sans, sans-serif">slow</text>
<text x="276.66" y="49.80" font-size="14.8" text-anchor="start" fill="#1a1a1a" textLength="13.39" lengthAdjust="spacingAndGlyphs" font-family="Liberation Sans, sans-serif">-T</text>
<text x="290.54" y="55.90" font-size="8.6" text-anchor="start" fill="#1a1a1a" textLength="14.72" lengthAdjust="spacingAndGlyphs" font-family="Liberation Sans, sans-serif">fast</text>
<text x="595.40" y="376.80" font-size="16.6" text-anchor="end" fill="#000" textLength="8.60" lengthAdjust="spacingAndGlyphs" font-family="Liberation Sans, sans-serif">0</text>
<text x="595.40" y="354.37" font-size="16.6" text-anchor="end" fill="#000" textLength="8.60" lengthAdjust="spacingAndGlyphs" font-family="Liberation Sans, sans-serif">1</text>
<text x="595.40" y="331.94" font-size="16.6" text-anchor="end" fill="#000" textLength="8.60" lengthAdjust="spacingAndGlyphs" font-family="Liberation Sans, sans-serif">2</text>
<text x="595.40" y="309.51" font-size="16.6" text-anchor="end" fill="#000" textLength="8.60" lengthAdjust="spacingAndGlyphs" font-family="Liberation Sans, sans-serif">3</text>
<text x="595.40" y="287.08" font-size="16.6" text-anchor="end" fill="#000" textLength="8.60" lengthAdjust="spacingAndGlyphs" font-family="Liberation Sans, sans-serif">4</text>
<text x="595.40" y="264.65" font-size="16.6" text-anchor="end" fill="#000" textLength="8.60" lengthAdjust="spacingAndGlyphs" font-family="Liberation Sans, sans-serif">5</text>
<text x="595.40" y="242.22" font-size="16.6" text-anchor="end" fill="#000" textLength="8.60" lengthAdjust="spacingAndGlyphs" font-family="Liberation Sans, sans-serif">6</text>
<text x="595.40" y="219.79" font-size="16.6" text-anchor="end" fill="#000" textLength="8.60" lengthAdjust="spacingAndGlyphs" font-family="Liberation Sans, sans-serif">7</text>
<text x="595.40" y="197.36" font-size="16.6" text-anchor="end" fill="#000" textLength="8.60" lengthAdjust="spacingAndGlyphs" font-family="Liberation Sans, sans-serif">8</text>
<text x="595.40" y="174.93" font-size="16.6" text-anchor="end" fill="#000" textLength="8.60" lengthAdjust="spacingAndGlyphs" font-family="Liberation Sans, sans-serif">9</text>
<text x="595.40" y="152.50" font-size="16.6" text-anchor="end" fill="#000" textLength="17.20" lengthAdjust="spacingAndGlyphs" font-family="Liberation Sans, sans-serif">10</text>
<text x="595.40" y="130.07" font-size="16.6" text-anchor="end" fill="#000" textLength="17.20" lengthAdjust="spacingAndGlyphs" font-family="Liberation Sans, sans-serif">11</text>
<text x="595.40" y="107.64" font-size="16.6" text-anchor="end" fill="#000" textLength="17.20" lengthAdjust="spacingAndGlyphs" font-family="Liberation Sans, sans-serif">12</text>
<text x="604.60" y="392.80" font-size="15.2" text-anchor="middle" fill="#000" textLength="8.55" lengthAdjust="spacingAndGlyphs" font-family="Liberation Sans, sans-serif">0</text>
<text x="686.90" y="392.80" font-size="15.2" text-anchor="middle" fill="#000" textLength="25.65" lengthAdjust="spacingAndGlyphs" font-family="Liberation Sans, sans-serif">500</text>
<text x="769.20" y="392.80" font-size="15.2" text-anchor="middle" fill="#000" textLength="34.20" lengthAdjust="spacingAndGlyphs" font-family="Liberation Sans, sans-serif">1000</text>
<text x="851.50" y="392.80" font-size="15.2" text-anchor="middle" fill="#000" textLength="34.20" lengthAdjust="spacingAndGlyphs" font-family="Liberation Sans, sans-serif">1500</text>
<text x="933.80" y="392.80" font-size="15.2" text-anchor="middle" fill="#000" textLength="34.20" lengthAdjust="spacingAndGlyphs" font-family="Liberation Sans, sans-serif">2000</text>
<text x="794.00" y="424.30" font-size="22" text-anchor="middle" fill="#000" textLength="87.60" lengthAdjust="spacingAndGlyphs" font-family="Liberation Sans, sans-serif">time (ps)</text>
<text transform="translate(553.00,238.60) rotate(-90)" font-size="22.2" text-anchor="middle" textLength="246.20" lengthAdjust="spacingAndGlyphs" font-family="Liberation Sans, sans-serif">Normalized intensity (a.u)</text>
<text x="772.40" y="30.10" font-size="23.5" text-anchor="middle" font-family="Liberation Serif, serif">(<tspan font-weight="bold">b</tspan>)</text>
<text x="710.50" y="84.10" font-size="13.4" text-anchor="start" fill="#1a1a1a" textLength="30.90" lengthAdjust="spacingAndGlyphs" font-family="Liberation Sans, sans-serif">&#916;T=T</text>
<text x="742.75" y="89.60" font-size="8.2" text-anchor="start" fill="#1a1a1a" textLength="16.99" lengthAdjust="spacingAndGlyphs" font-family="Liberation Sans, sans-serif">slow</text>
<text x="761.80" y="84.10" font-size="13.4" text-anchor="start" fill="#1a1a1a" textLength="11.10" lengthAdjust="spacingAndGlyphs" font-family="Liberation Sans, sans-serif">-T</text>
<text x="774.65" y="89.60" font-size="8.2" text-anchor="start" fill="#1a1a1a" textLength="13.79" lengthAdjust="spacingAndGlyphs" font-family="Liberation Sans, sans-serif">fast</text>
<text x="81.00" y="807.80" font-size="17.5" text-anchor="end" fill="#000" textLength="9.10" lengthAdjust="spacingAndGlyphs" font-family="Liberation Sans, sans-serif">0</text>
<text x="81.00" y="778.31" font-size="17.5" text-anchor="end" fill="#000" textLength="9.10" lengthAdjust="spacingAndGlyphs" font-family="Liberation Sans, sans-serif">1</text>
<text x="81.00" y="748.82" font-size="17.5" text-anchor="end" fill="#000" textLength="9.10" lengthAdjust="spacingAndGlyphs" font-family="Liberation Sans, sans-serif">2</text>
<text x="81.00" y="719.33" font-size="17.5" text-anchor="end" fill="#000" textLength="9.10" lengthAdjust="spacingAndGlyphs" font-family="Liberation Sans, sans-serif">3</text>
<text x="81.00" y="689.84" font-size="17.5" text-anchor="end" fill="#000" textLength="9.10" lengthAdjust="spacingAndGlyphs" font-family="Liberation Sans, sans-serif">4</text>
<text x="81.00" y="660.35" font-size="17.5" text-anchor="end" fill="#000" textLength="9.10" lengthAdjust="spacingAndGlyphs" font-family="Liberation Sans, sans-serif">5</text>
<text x="81.00" y="630.86" font-size="17.5" text-anchor="end" fill="#000" textLength="9.10" lengthAdjust="spacingAndGlyphs" font-family="Liberation Sans, sans-serif">6</text>
<text x="81.00" y="601.37" font-size="17.5" text-anchor="end" fill="#000" textLength="9.10" lengthAdjust="spacingAndGlyphs" font-family="Liberation Sans, sans-serif">7</text>
<text x="81.00" y="571.88" font-size="17.5" text-anchor="end" fill="#000" textLength="9.10" lengthAdjust="spacingAndGlyphs" font-family="Liberation Sans, sans-serif">8</text>
<text x="81.00" y="542.39" font-size="17.5" text-anchor="end" fill="#000" textLength="9.10" lengthAdjust="spacingAndGlyphs" font-family="Liberation Sans, sans-serif">9</text>
<text x="81.00" y="512.90" font-size="17.5" text-anchor="end" fill="#000" textLength="18.20" lengthAdjust="spacingAndGlyphs" font-family="Liberation Sans, sans-serif">10</text>
<text x="90.70" y="826.00" font-size="17.2" text-anchor="middle" fill="#000" textLength="9.55" lengthAdjust="spacingAndGlyphs" font-family="Liberation Sans, sans-serif">0</text>
<text x="147.30" y="826.00" font-size="17.2" text-anchor="middle" fill="#000" textLength="28.65" lengthAdjust="spacingAndGlyphs" font-family="Liberation Sans, sans-serif">250</text>
<text x="203.90" y="826.00" font-size="17.2" text-anchor="middle" fill="#000" textLength="28.65" lengthAdjust="spacingAndGlyphs" font-family="Liberation Sans, sans-serif">500</text>
<text x="260.50" y="826.00" font-size="17.2" text-anchor="middle" fill="#000" textLength="28.65" lengthAdjust="spacingAndGlyphs" font-family="Liberation Sans, sans-serif">750</text>
<text x="317.10" y="826.00" font-size="17.2" text-anchor="middle" fill="#000" textLength="38.20" lengthAdjust="spacingAndGlyphs" font-family="Liberation Sans, sans-serif">1000</text>
<text x="373.70" y="826.00" font-size="17.2" text-anchor="middle" fill="#000" textLength="38.20" lengthAdjust="spacingAndGlyphs" font-family="Liberation Sans, sans-serif">1250</text>
<text x="430.30" y="826.00" font-size="17.2" text-anchor="middle" fill="#000" textLength="38.20" lengthAdjust="spacingAndGlyphs" font-family="Liberation Sans, sans-serif">1500</text>
<text x="486.90" y="826.00" font-size="17.2" text-anchor="middle" fill="#000" textLength="38.20" lengthAdjust="spacingAndGlyphs" font-family="Liberation Sans, sans-serif">1750</text>
<text x="288.90" y="854.10" font-size="17.8" text-anchor="middle" fill="#000" textLength="70.20" lengthAdjust="spacingAndGlyphs" font-family="Liberation Sans, sans-serif">time (ps)</text>
<text transform="translate(40.20,646.60) rotate(-90)" font-size="18.0" text-anchor="middle" textLength="201.90" lengthAdjust="spacingAndGlyphs" font-family="Liberation Sans, sans-serif">Normalized intensity (a.u)</text>
<text x="265.40" y="468.00" font-size="23.4" text-anchor="middle" font-family="Liberation Serif, serif">(<tspan font-weight="bold">c</tspan>)</text>
<text x="228.28" y="490.20" font-size="14.0" text-anchor="start" fill="#1a1a1a" textLength="33.04" lengthAdjust="spacingAndGlyphs" font-family="Liberation Sans, sans-serif">&#916;T=T</text>
<text x="261.26" y="494.90" font-size="8.0" text-anchor="start" fill="#1a1a1a" textLength="16.38" lengthAdjust="spacingAndGlyphs" font-family="Liberation Sans, sans-serif">slow</text>
<text x="279.58" y="490.20" font-size="14.0" text-anchor="start" fill="#1a1a1a" textLength="13.44" lengthAdjust="spacingAndGlyphs" font-family="Liberation Sans, sans-serif">-T</text>
<text x="292.76" y="494.90" font-size="8.0" text-anchor="start" fill="#1a1a1a" textLength="13.38" lengthAdjust="spacingAndGlyphs" font-family="Liberation Sans, sans-serif">fast</text>
<text x="583.60" y="782.70" font-size="16.5" text-anchor="end" fill="#000" textLength="9.30" lengthAdjust="spacingAndGlyphs" font-family="Liberation Sans, sans-serif">0</text>
<text x="583.60" y="740.75" font-size="16.5" text-anchor="end" fill="#000" textLength="9.30" lengthAdjust="spacingAndGlyphs" font-family="Liberation Sans, sans-serif">1</text>
<text x="583.60" y="698.80" font-size="16.5" text-anchor="end" fill="#000" textLength="9.30" lengthAdjust="spacingAndGlyphs" font-family="Liberation Sans, sans-serif">2</text>
<text x="583.60" y="656.85" font-size="16.5" text-anchor="end" fill="#000" textLength="9.30" lengthAdjust="spacingAndGlyphs" font-family="Liberation Sans, sans-serif">3</text>
<text x="583.60" y="614.90" font-size="16.5" text-anchor="end" fill="#000" textLength="9.30" lengthAdjust="spacingAndGlyphs" font-family="Liberation Sans, sans-serif">4</text>
<text x="583.60" y="572.95" font-size="16.5" text-anchor="end" fill="#000" textLength="9.30" lengthAdjust="spacingAndGlyphs" font-family="Liberation Sans, sans-serif">5</text>
<text x="583.60" y="531.00" font-size="16.5" text-anchor="end" fill="#000" textLength="9.30" lengthAdjust="spacingAndGlyphs" font-family="Liberation Sans, sans-serif">6</text>
<text x="592.60" y="822.80" font-size="16.6" text-anchor="middle" fill="#000" textLength="9.55" lengthAdjust="spacingAndGlyphs" font-family="Liberation Sans, sans-serif">0</text>
<text x="649.20" y="822.80" font-size="16.6" text-anchor="middle" fill="#000" textLength="28.65" lengthAdjust="spacingAndGlyphs" font-family="Liberation Sans, sans-serif">250</text>
<text x="705.80" y="822.80" font-size="16.6" text-anchor="middle" fill="#000" textLength="28.65" lengthAdjust="spacingAndGlyphs" font-family="Liberation Sans, sans-serif">500</text>
<text x="762.40" y="822.80" font-size="16.6" text-anchor="middle" fill="#000" textLength="28.65" lengthAdjust="spacingAndGlyphs" font-family="Liberation Sans, sans-serif">750</text>
<text x="819.00" y="822.80" font-size="16.6" text-anchor="middle" fill="#000" textLength="38.20" lengthAdjust="spacingAndGlyphs" font-family="Liberation Sans, sans-serif">1000</text>
<text x="875.60" y="822.80" font-size="16.6" text-anchor="middle" fill="#000" textLength="38.20" lengthAdjust="spacingAndGlyphs" font-family="Liberation Sans, sans-serif">1250</text>
<text x="932.20" y="822.80" font-size="16.6" text-anchor="middle" fill="#000" textLength="38.20" lengthAdjust="spacingAndGlyphs" font-family="Liberation Sans, sans-serif">1500</text>
<text x="988.80" y="822.80" font-size="16.6" text-anchor="middle" fill="#000" textLength="38.20" lengthAdjust="spacingAndGlyphs" font-family="Liberation Sans, sans-serif">1750</text>
<text x="791.00" y="852.00" font-size="18.0" text-anchor="middle" fill="#000" textLength="70.40" lengthAdjust="spacingAndGlyphs" font-family="Liberation Sans, sans-serif">time (ps)</text>
<text transform="translate(551.40,643.25) rotate(-90)" font-size="18.0" text-anchor="middle" textLength="202.80" lengthAdjust="spacingAndGlyphs" font-family="Liberation Sans, sans-serif">Normalized intensity (a.u)</text>
<text x="772.30" y="468.00" font-size="24.0" text-anchor="middle" font-family="Liberation Serif, serif">(<tspan font-weight="bold">d</tspan>)</text>
<text x="730.18" y="486.40" font-size="14.0" text-anchor="start" fill="#1a1a1a" textLength="33.04" lengthAdjust="spacingAndGlyphs" font-family="Liberation Sans, sans-serif">&#916;T=T</text>
<text x="763.36" y="492.20" font-size="8.0" text-anchor="start" fill="#1a1a1a" textLength="16.28" lengthAdjust="spacingAndGlyphs" font-family="Liberation Sans, sans-serif">slow</text>
<text x="781.38" y="486.40" font-size="14.0" text-anchor="start" fill="#1a1a1a" textLength="13.34" lengthAdjust="spacingAndGlyphs" font-family="Liberation Sans, sans-serif">-T</text>
<text x="794.86" y="492.20" font-size="8.0" text-anchor="start" fill="#1a1a1a" textLength="13.38" lengthAdjust="spacingAndGlyphs" font-family="Liberation Sans, sans-serif">fast</text>
</svg>
</body></html>
